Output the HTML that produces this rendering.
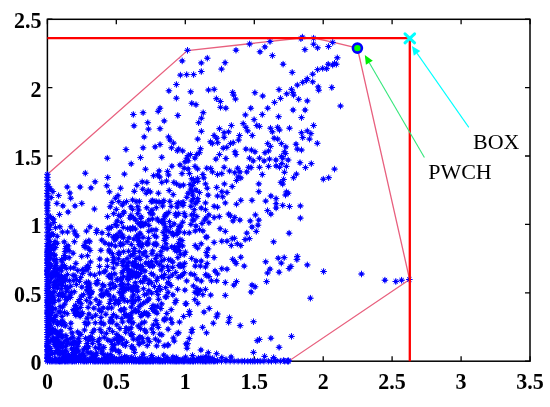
<!DOCTYPE html>
<html><head><meta charset="utf-8"><style>
html,body{margin:0;padding:0;background:#fff;width:550px;height:407px;overflow:hidden}
svg{display:block}
</style></head><body>
<svg width="550" height="407" viewBox="0 0 550 407">
<rect width="550" height="407" fill="#fff"/>
<rect x="47.4" y="19.3" width="482.6" height="341.9" fill="none" stroke="#000" stroke-width="1.5"/>
<path d="M47.4 361.2v-5M47.4 19.3v5M116.3 361.2v-5M116.3 19.3v5M185.3 361.2v-5M185.3 19.3v5M254.3 361.2v-5M254.3 19.3v5M323.2 361.2v-5M323.2 19.3v5M392.1 361.2v-5M392.1 19.3v5M461.1 361.2v-5M461.1 19.3v5M530.1 361.2v-5M530.1 19.3v5M47.4 361.2h5M530.0 361.2h-5M47.4 292.8h5M530.0 292.8h-5M47.4 224.4h5M530.0 224.4h-5M47.4 156.0h5M530.0 156.0h-5M47.4 87.6h5M530.0 87.6h-5M47.4 19.2h5M530.0 19.2h-5" stroke="#000" stroke-width="1.3" fill="none"/>
<g font-family="Liberation Serif, serif" font-weight="bold" font-size="22" fill="#000"><text transform="translate(47.4 389.3) scale(1 1.07)" text-anchor="middle">0</text><text transform="translate(116.3 389.3) scale(1 1.07)" text-anchor="middle">0.5</text><text transform="translate(185.3 389.3) scale(1 1.07)" text-anchor="middle">1</text><text transform="translate(254.3 389.3) scale(1 1.07)" text-anchor="middle">1.5</text><text transform="translate(323.2 389.3) scale(1 1.07)" text-anchor="middle">2</text><text transform="translate(392.1 389.3) scale(1 1.07)" text-anchor="middle">2.5</text><text transform="translate(461.1 389.3) scale(1 1.07)" text-anchor="middle">3</text><text transform="translate(530.1 389.3) scale(1 1.07)" text-anchor="middle">3.5</text><text transform="translate(41.6 370.2) scale(1 1.07)" text-anchor="end">0</text><text transform="translate(41.6 301.8) scale(1 1.07)" text-anchor="end">0.5</text><text transform="translate(41.6 233.4) scale(1 1.07)" text-anchor="end">1</text><text transform="translate(41.6 165.0) scale(1 1.07)" text-anchor="end">1.5</text><text transform="translate(41.6 96.6) scale(1 1.07)" text-anchor="end">2</text><text transform="translate(41.6 28.2) scale(1 1.07)" text-anchor="end">2.5</text></g>
<polyline points="47.5,174.3 187.4,50.5 301.5,38.0 313.6,38.0 332.7,42.2 357.4,48.1 409.6,279.5 288.6,361.2 47.5,361.2" fill="none" stroke="#e8607e" stroke-width="1.3"/>
<path d="M184.2 50.3h6.6m-3.3-3.3v6.6m-2.2-5.5l4.4 4.4m-4.4 0l4.4-4.4M178.9 60.9h6.6m-3.3-3.3v6.6m-2.2-5.5l4.4 4.4m-4.4 0l4.4-4.4M177.1 75.1h6.6m-3.3-3.3v6.6m-2.2-5.5l4.4 4.4m-4.4 0l4.4-4.4M183.4 74.6h6.6m-3.3-3.3v6.6m-2.2-5.5l4.4 4.4m-4.4 0l4.4-4.4M190.3 74.6h6.6m-3.3-3.3v6.6m-2.2-5.5l4.4 4.4m-4.4 0l4.4-4.4M173.1 84.5h6.6m-3.3-3.3v6.6m-2.2-5.5l4.4 4.4m-4.4 0l4.4-4.4M165.6 90.8h6.6m-3.3-3.3v6.6m-2.2-5.5l4.4 4.4m-4.4 0l4.4-4.4M187.4 91.8h6.6m-3.3-3.3v6.6m-2.2-5.5l4.4 4.4m-4.4 0l4.4-4.4M173.1 98.2h6.6m-3.3-3.3v6.6m-2.2-5.5l4.4 4.4m-4.4 0l4.4-4.4M204 58.2h6.6m-3.3-3.3v6.6m-2.2-5.5l4.4 4.4m-4.4 0l4.4-4.4M198 62.9h6.6m-3.3-3.3v6.6m-2.2-5.5l4.4 4.4m-4.4 0l4.4-4.4M221.8 62.7h6.6m-3.3-3.3v6.6m-2.2-5.5l4.4 4.4m-4.4 0l4.4-4.4M218.2 69.1h6.6m-3.3-3.3v6.6m-2.2-5.5l4.4 4.4m-4.4 0l4.4-4.4M198 71.5h6.6m-3.3-3.3v6.6m-2.2-5.5l4.4 4.4m-4.4 0l4.4-4.4M232.7 50.2h6.6m-3.3-3.3v6.6m-2.2-5.5l4.4 4.4m-4.4 0l4.4-4.4M246.3 44h6.6m-3.3-3.3v6.6m-2.2-5.5l4.4 4.4m-4.4 0l4.4-4.4M256.7 51.8h6.6m-3.3-3.3v6.6m-2.2-5.5l4.4 4.4m-4.4 0l4.4-4.4M261.6 46.9h6.6m-3.3-3.3v6.6m-2.2-5.5l4.4 4.4m-4.4 0l4.4-4.4M266.7 41.5h6.6m-3.3-3.3v6.6m-2.2-5.5l4.4 4.4m-4.4 0l4.4-4.4M269.1 55.6h6.6m-3.3-3.3v6.6m-2.2-5.5l4.4 4.4m-4.4 0l4.4-4.4M205.2 90h6.6m-3.3-3.3v6.6m-2.2-5.5l4.4 4.4m-4.4 0l4.4-4.4M210.9 89.3h6.6m-3.3-3.3v6.6m-2.2-5.5l4.4 4.4m-4.4 0l4.4-4.4M229.4 92.4h6.6m-3.3-3.3v6.6m-2.2-5.5l4.4 4.4m-4.4 0l4.4-4.4M230.3 95.1h6.6m-3.3-3.3v6.6m-2.2-5.5l4.4 4.4m-4.4 0l4.4-4.4M232.2 99.1h6.6m-3.3-3.3v6.6m-2.2-5.5l4.4 4.4m-4.4 0l4.4-4.4M213.1 98.7h6.6m-3.3-3.3v6.6m-2.2-5.5l4.4 4.4m-4.4 0l4.4-4.4M217.1 101.5h6.6m-3.3-3.3v6.6m-2.2-5.5l4.4 4.4m-4.4 0l4.4-4.4M251.6 92.7h6.6m-3.3-3.3v6.6m-2.2-5.5l4.4 4.4m-4.4 0l4.4-4.4M259.4 96h6.6m-3.3-3.3v6.6m-2.2-5.5l4.4 4.4m-4.4 0l4.4-4.4M275.7 89.6h6.6m-3.3-3.3v6.6m-2.2-5.5l4.4 4.4m-4.4 0l4.4-4.4M188.5 103.3h6.6m-3.3-3.3v6.6m-2.2-5.5l4.4 4.4m-4.4 0l4.4-4.4M192.7 104.7h6.6m-3.3-3.3v6.6m-2.2-5.5l4.4 4.4m-4.4 0l4.4-4.4M271.2 102.4h6.6m-3.3-3.3v6.6m-2.2-5.5l4.4 4.4m-4.4 0l4.4-4.4M297.6 38.7h6.6m-3.3-3.3v6.6m-2.2-5.5l4.4 4.4m-4.4 0l4.4-4.4M299.1 37.1h6.6m-3.3-3.3v6.6m-2.2-5.5l4.4 4.4m-4.4 0l4.4-4.4M310.3 38.2h6.6m-3.3-3.3v6.6m-2.2-5.5l4.4 4.4m-4.4 0l4.4-4.4M310.3 44.2h6.6m-3.3-3.3v6.6m-2.2-5.5l4.4 4.4m-4.4 0l4.4-4.4M314.3 47.8h6.6m-3.3-3.3v6.6m-2.2-5.5l4.4 4.4m-4.4 0l4.4-4.4M301.6 49.6h6.6m-3.3-3.3v6.6m-2.2-5.5l4.4 4.4m-4.4 0l4.4-4.4M325.2 46.5h6.6m-3.3-3.3v6.6m-2.2-5.5l4.4 4.4m-4.4 0l4.4-4.4M329.4 42.4h6.6m-3.3-3.3v6.6m-2.2-5.5l4.4 4.4m-4.4 0l4.4-4.4M279.8 64.2h6.6m-3.3-3.3v6.6m-2.2-5.5l4.4 4.4m-4.4 0l4.4-4.4M288.9 72.4h6.6m-3.3-3.3v6.6m-2.2-5.5l4.4 4.4m-4.4 0l4.4-4.4M334 57.8h6.6m-3.3-3.3v6.6m-2.2-5.5l4.4 4.4m-4.4 0l4.4-4.4M331.2 63.3h6.6m-3.3-3.3v6.6m-2.2-5.5l4.4 4.4m-4.4 0l4.4-4.4M333.1 64.2h6.6m-3.3-3.3v6.6m-2.2-5.5l4.4 4.4m-4.4 0l4.4-4.4M329.4 65.1h6.6m-3.3-3.3v6.6m-2.2-5.5l4.4 4.4m-4.4 0l4.4-4.4M324.9 64.2h6.6m-3.3-3.3v6.6m-2.2-5.5l4.4 4.4m-4.4 0l4.4-4.4M323.4 68.7h6.6m-3.3-3.3v6.6m-2.2-5.5l4.4 4.4m-4.4 0l4.4-4.4M319.4 68.4h6.6m-3.3-3.3v6.6m-2.2-5.5l4.4 4.4m-4.4 0l4.4-4.4M314.3 69.6h6.6m-3.3-3.3v6.6m-2.2-5.5l4.4 4.4m-4.4 0l4.4-4.4M309.4 74.2h6.6m-3.3-3.3v6.6m-2.2-5.5l4.4 4.4m-4.4 0l4.4-4.4M304 78.7h6.6m-3.3-3.3v6.6m-2.2-5.5l4.4 4.4m-4.4 0l4.4-4.4M303.1 80.5h6.6m-3.3-3.3v6.6m-2.2-5.5l4.4 4.4m-4.4 0l4.4-4.4M309.4 81.8h6.6m-3.3-3.3v6.6m-2.2-5.5l4.4 4.4m-4.4 0l4.4-4.4M299.4 82.4h6.6m-3.3-3.3v6.6m-2.2-5.5l4.4 4.4m-4.4 0l4.4-4.4M294 85.1h6.6m-3.3-3.3v6.6m-2.2-5.5l4.4 4.4m-4.4 0l4.4-4.4M314.9 86.9h6.6m-3.3-3.3v6.6m-2.2-5.5l4.4 4.4m-4.4 0l4.4-4.4M315.4 90.2h6.6m-3.3-3.3v6.6m-2.2-5.5l4.4 4.4m-4.4 0l4.4-4.4M328.5 87.5h6.6m-3.3-3.3v6.6m-2.2-5.5l4.4 4.4m-4.4 0l4.4-4.4M288.2 89.3h6.6m-3.3-3.3v6.6m-2.2-5.5l4.4 4.4m-4.4 0l4.4-4.4M289.4 92.4h6.6m-3.3-3.3v6.6m-2.2-5.5l4.4 4.4m-4.4 0l4.4-4.4M290.3 95.1h6.6m-3.3-3.3v6.6m-2.2-5.5l4.4 4.4m-4.4 0l4.4-4.4M283.4 93.8h6.6m-3.3-3.3v6.6m-2.2-5.5l4.4 4.4m-4.4 0l4.4-4.4M277.2 98.4h6.6m-3.3-3.3v6.6m-2.2-5.5l4.4 4.4m-4.4 0l4.4-4.4M295.4 99.3h6.6m-3.3-3.3v6.6m-2.2-5.5l4.4 4.4m-4.4 0l4.4-4.4M304 100.9h6.6m-3.3-3.3v6.6m-2.2-5.5l4.4 4.4m-4.4 0l4.4-4.4M337.2 106h6.6m-3.3-3.3v6.6m-2.2-5.5l4.4 4.4m-4.4 0l4.4-4.4M156.7 108.2h6.6m-3.3-3.3v6.6m-2.2-5.5l4.4 4.4m-4.4 0l4.4-4.4M154.9 111.3h6.6m-3.3-3.3v6.6m-2.2-5.5l4.4 4.4m-4.4 0l4.4-4.4M130 114.5h6.6m-3.3-3.3v6.6m-2.2-5.5l4.4 4.4m-4.4 0l4.4-4.4M139.8 112.7h6.6m-3.3-3.3v6.6m-2.2-5.5l4.4 4.4m-4.4 0l4.4-4.4M174.5 115.5h6.6m-3.3-3.3v6.6m-2.2-5.5l4.4 4.4m-4.4 0l4.4-4.4M160.9 120.9h6.6m-3.3-3.3v6.6m-2.2-5.5l4.4 4.4m-4.4 0l4.4-4.4M144.5 122.7h6.6m-3.3-3.3v6.6m-2.2-5.5l4.4 4.4m-4.4 0l4.4-4.4M130.7 125.8h6.6m-3.3-3.3v6.6m-2.2-5.5l4.4 4.4m-4.4 0l4.4-4.4M145.2 129.1h6.6m-3.3-3.3v6.6m-2.2-5.5l4.4 4.4m-4.4 0l4.4-4.4M156.7 128.7h6.6m-3.3-3.3v6.6m-2.2-5.5l4.4 4.4m-4.4 0l4.4-4.4M140.9 136.9h6.6m-3.3-3.3v6.6m-2.2-5.5l4.4 4.4m-4.4 0l4.4-4.4M165.2 136.9h6.6m-3.3-3.3v6.6m-2.2-5.5l4.4 4.4m-4.4 0l4.4-4.4M166.7 140h6.6m-3.3-3.3v6.6m-2.2-5.5l4.4 4.4m-4.4 0l4.4-4.4M170.3 143.1h6.6m-3.3-3.3v6.6m-2.2-5.5l4.4 4.4m-4.4 0l4.4-4.4M156.7 144.5h6.6m-3.3-3.3v6.6m-2.2-5.5l4.4 4.4m-4.4 0l4.4-4.4M151.8 146.9h6.6m-3.3-3.3v6.6m-2.2-5.5l4.4 4.4m-4.4 0l4.4-4.4M139.8 147.8h6.6m-3.3-3.3v6.6m-2.2-5.5l4.4 4.4m-4.4 0l4.4-4.4M168.2 147.8h6.6m-3.3-3.3v6.6m-2.2-5.5l4.4 4.4m-4.4 0l4.4-4.4M175.4 149.1h6.6m-3.3-3.3v6.6m-2.2-5.5l4.4 4.4m-4.4 0l4.4-4.4M179.4 150.9h6.6m-3.3-3.3v6.6m-2.2-5.5l4.4 4.4m-4.4 0l4.4-4.4M122.7 149.5h6.6m-3.3-3.3v6.6m-2.2-5.5l4.4 4.4m-4.4 0l4.4-4.4M104 158.2h6.6m-3.3-3.3v6.6m-2.2-5.5l4.4 4.4m-4.4 0l4.4-4.4M137.2 157.6h6.6m-3.3-3.3v6.6m-2.2-5.5l4.4 4.4m-4.4 0l4.4-4.4M158.5 157.3h6.6m-3.3-3.3v6.6m-2.2-5.5l4.4 4.4m-4.4 0l4.4-4.4M184.9 155.5h6.6m-3.3-3.3v6.6m-2.2-5.5l4.4 4.4m-4.4 0l4.4-4.4M217.2 107.3h6.6m-3.3-3.3v6.6m-2.2-5.5l4.4 4.4m-4.4 0l4.4-4.4M222.6 108.2h6.6m-3.3-3.3v6.6m-2.2-5.5l4.4 4.4m-4.4 0l4.4-4.4M247.5 108.2h6.6m-3.3-3.3v6.6m-2.2-5.5l4.4 4.4m-4.4 0l4.4-4.4M264.4 108.2h6.6m-3.3-3.3v6.6m-2.2-5.5l4.4 4.4m-4.4 0l4.4-4.4M199.9 112.7h6.6m-3.3-3.3v6.6m-2.2-5.5l4.4 4.4m-4.4 0l4.4-4.4M198.1 118.2h6.6m-3.3-3.3v6.6m-2.2-5.5l4.4 4.4m-4.4 0l4.4-4.4M195.3 122.7h6.6m-3.3-3.3v6.6m-2.2-5.5l4.4 4.4m-4.4 0l4.4-4.4M242.1 114.9h6.6m-3.3-3.3v6.6m-2.2-5.5l4.4 4.4m-4.4 0l4.4-4.4M250.8 119.6h6.6m-3.3-3.3v6.6m-2.2-5.5l4.4 4.4m-4.4 0l4.4-4.4M259 114.5h6.6m-3.3-3.3v6.6m-2.2-5.5l4.4 4.4m-4.4 0l4.4-4.4M275.3 116.7h6.6m-3.3-3.3v6.6m-2.2-5.5l4.4 4.4m-4.4 0l4.4-4.4M239.9 123.6h6.6m-3.3-3.3v6.6m-2.2-5.5l4.4 4.4m-4.4 0l4.4-4.4M242.6 127.3h6.6m-3.3-3.3v6.6m-2.2-5.5l4.4 4.4m-4.4 0l4.4-4.4M253.5 125.5h6.6m-3.3-3.3v6.6m-2.2-5.5l4.4 4.4m-4.4 0l4.4-4.4M256.2 126.4h6.6m-3.3-3.3v6.6m-2.2-5.5l4.4 4.4m-4.4 0l4.4-4.4M244.4 130.9h6.6m-3.3-3.3v6.6m-2.2-5.5l4.4 4.4m-4.4 0l4.4-4.4M228.1 125.5h6.6m-3.3-3.3v6.6m-2.2-5.5l4.4 4.4m-4.4 0l4.4-4.4M216.2 128.7h6.6m-3.3-3.3v6.6m-2.2-5.5l4.4 4.4m-4.4 0l4.4-4.4M220.8 132.7h6.6m-3.3-3.3v6.6m-2.2-5.5l4.4 4.4m-4.4 0l4.4-4.4M225.3 131.8h6.6m-3.3-3.3v6.6m-2.2-5.5l4.4 4.4m-4.4 0l4.4-4.4M198.1 131.3h6.6m-3.3-3.3v6.6m-2.2-5.5l4.4 4.4m-4.4 0l4.4-4.4M267.2 128.2h6.6m-3.3-3.3v6.6m-2.2-5.5l4.4 4.4m-4.4 0l4.4-4.4M269 131.8h6.6m-3.3-3.3v6.6m-2.2-5.5l4.4 4.4m-4.4 0l4.4-4.4M274.4 127.3h6.6m-3.3-3.3v6.6m-2.2-5.5l4.4 4.4m-4.4 0l4.4-4.4M276.2 130h6.6m-3.3-3.3v6.6m-2.2-5.5l4.4 4.4m-4.4 0l4.4-4.4M249 135.5h6.6m-3.3-3.3v6.6m-2.2-5.5l4.4 4.4m-4.4 0l4.4-4.4M270.8 138.2h6.6m-3.3-3.3v6.6m-2.2-5.5l4.4 4.4m-4.4 0l4.4-4.4M274.4 139.1h6.6m-3.3-3.3v6.6m-2.2-5.5l4.4 4.4m-4.4 0l4.4-4.4M236.2 135.5h6.6m-3.3-3.3v6.6m-2.2-5.5l4.4 4.4m-4.4 0l4.4-4.4M235.3 140h6.6m-3.3-3.3v6.6m-2.2-5.5l4.4 4.4m-4.4 0l4.4-4.4M210.8 135.5h6.6m-3.3-3.3v6.6m-2.2-5.5l4.4 4.4m-4.4 0l4.4-4.4M213.5 138.2h6.6m-3.3-3.3v6.6m-2.2-5.5l4.4 4.4m-4.4 0l4.4-4.4M220.8 137.3h6.6m-3.3-3.3v6.6m-2.2-5.5l4.4 4.4m-4.4 0l4.4-4.4M194.4 139.1h6.6m-3.3-3.3v6.6m-2.2-5.5l4.4 4.4m-4.4 0l4.4-4.4M207.2 141.8h6.6m-3.3-3.3v6.6m-2.2-5.5l4.4 4.4m-4.4 0l4.4-4.4M209 143.6h6.6m-3.3-3.3v6.6m-2.2-5.5l4.4 4.4m-4.4 0l4.4-4.4M214.4 142.7h6.6m-3.3-3.3v6.6m-2.2-5.5l4.4 4.4m-4.4 0l4.4-4.4M227.2 143.6h6.6m-3.3-3.3v6.6m-2.2-5.5l4.4 4.4m-4.4 0l4.4-4.4M229.9 142.7h6.6m-3.3-3.3v6.6m-2.2-5.5l4.4 4.4m-4.4 0l4.4-4.4M264.4 143.6h6.6m-3.3-3.3v6.6m-2.2-5.5l4.4 4.4m-4.4 0l4.4-4.4M267.2 146.4h6.6m-3.3-3.3v6.6m-2.2-5.5l4.4 4.4m-4.4 0l4.4-4.4M278.1 143.6h6.6m-3.3-3.3v6.6m-2.2-5.5l4.4 4.4m-4.4 0l4.4-4.4M197.2 148.7h6.6m-3.3-3.3v6.6m-2.2-5.5l4.4 4.4m-4.4 0l4.4-4.4M219.9 148.2h6.6m-3.3-3.3v6.6m-2.2-5.5l4.4 4.4m-4.4 0l4.4-4.4M223.5 147.3h6.6m-3.3-3.3v6.6m-2.2-5.5l4.4 4.4m-4.4 0l4.4-4.4M242.6 149.1h6.6m-3.3-3.3v6.6m-2.2-5.5l4.4 4.4m-4.4 0l4.4-4.4M248.1 150h6.6m-3.3-3.3v6.6m-2.2-5.5l4.4 4.4m-4.4 0l4.4-4.4M251.7 151.8h6.6m-3.3-3.3v6.6m-2.2-5.5l4.4 4.4m-4.4 0l4.4-4.4M261.7 152.7h6.6m-3.3-3.3v6.6m-2.2-5.5l4.4 4.4m-4.4 0l4.4-4.4M265.3 150.9h6.6m-3.3-3.3v6.6m-2.2-5.5l4.4 4.4m-4.4 0l4.4-4.4M231.7 151.8h6.6m-3.3-3.3v6.6m-2.2-5.5l4.4 4.4m-4.4 0l4.4-4.4M232.6 154.5h6.6m-3.3-3.3v6.6m-2.2-5.5l4.4 4.4m-4.4 0l4.4-4.4M216.2 154.5h6.6m-3.3-3.3v6.6m-2.2-5.5l4.4 4.4m-4.4 0l4.4-4.4M187.2 154.5h6.6m-3.3-3.3v6.6m-2.2-5.5l4.4 4.4m-4.4 0l4.4-4.4M183.5 158.2h6.6m-3.3-3.3v6.6m-2.2-5.5l4.4 4.4m-4.4 0l4.4-4.4M193.5 154.5h6.6m-3.3-3.3v6.6m-2.2-5.5l4.4 4.4m-4.4 0l4.4-4.4M196.2 152.7h6.6m-3.3-3.3v6.6m-2.2-5.5l4.4 4.4m-4.4 0l4.4-4.4M212.6 159.1h6.6m-3.3-3.3v6.6m-2.2-5.5l4.4 4.4m-4.4 0l4.4-4.4M222.6 158.5h6.6m-3.3-3.3v6.6m-2.2-5.5l4.4 4.4m-4.4 0l4.4-4.4M246.2 158.2h6.6m-3.3-3.3v6.6m-2.2-5.5l4.4 4.4m-4.4 0l4.4-4.4M249.9 160.9h6.6m-3.3-3.3v6.6m-2.2-5.5l4.4 4.4m-4.4 0l4.4-4.4M256.2 158.2h6.6m-3.3-3.3v6.6m-2.2-5.5l4.4 4.4m-4.4 0l4.4-4.4M260.8 160.9h6.6m-3.3-3.3v6.6m-2.2-5.5l4.4 4.4m-4.4 0l4.4-4.4M266.2 159.1h6.6m-3.3-3.3v6.6m-2.2-5.5l4.4 4.4m-4.4 0l4.4-4.4M272.6 160h6.6m-3.3-3.3v6.6m-2.2-5.5l4.4 4.4m-4.4 0l4.4-4.4M278.1 156.4h6.6m-3.3-3.3v6.6m-2.2-5.5l4.4 4.4m-4.4 0l4.4-4.4M203.5 168.2h6.6m-3.3-3.3v6.6m-2.2-5.5l4.4 4.4m-4.4 0l4.4-4.4M191.7 166.4h6.6m-3.3-3.3v6.6m-2.2-5.5l4.4 4.4m-4.4 0l4.4-4.4M220.8 167.3h6.6m-3.3-3.3v6.6m-2.2-5.5l4.4 4.4m-4.4 0l4.4-4.4M234.4 168.2h6.6m-3.3-3.3v6.6m-2.2-5.5l4.4 4.4m-4.4 0l4.4-4.4M245.3 167.3h6.6m-3.3-3.3v6.6m-2.2-5.5l4.4 4.4m-4.4 0l4.4-4.4M256.2 167.3h6.6m-3.3-3.3v6.6m-2.2-5.5l4.4 4.4m-4.4 0l4.4-4.4M265.3 166.4h6.6m-3.3-3.3v6.6m-2.2-5.5l4.4 4.4m-4.4 0l4.4-4.4M276.2 167.3h6.6m-3.3-3.3v6.6m-2.2-5.5l4.4 4.4m-4.4 0l4.4-4.4M181.7 161.8h6.6m-3.3-3.3v6.6m-2.2-5.5l4.4 4.4m-4.4 0l4.4-4.4M289.8 110h6.6m-3.3-3.3v6.6m-2.2-5.5l4.4 4.4m-4.4 0l4.4-4.4M301.8 110h6.6m-3.3-3.3v6.6m-2.2-5.5l4.4 4.4m-4.4 0l4.4-4.4M298.2 117.6h6.6m-3.3-3.3v6.6m-2.2-5.5l4.4 4.4m-4.4 0l4.4-4.4M310.3 125.5h6.6m-3.3-3.3v6.6m-2.2-5.5l4.4 4.4m-4.4 0l4.4-4.4M286.2 128.2h6.6m-3.3-3.3v6.6m-2.2-5.5l4.4 4.4m-4.4 0l4.4-4.4M298.2 132.7h6.6m-3.3-3.3v6.6m-2.2-5.5l4.4 4.4m-4.4 0l4.4-4.4M304 130.9h6.6m-3.3-3.3v6.6m-2.2-5.5l4.4 4.4m-4.4 0l4.4-4.4M307.6 133.6h6.6m-3.3-3.3v6.6m-2.2-5.5l4.4 4.4m-4.4 0l4.4-4.4M299.4 137.6h6.6m-3.3-3.3v6.6m-2.2-5.5l4.4 4.4m-4.4 0l4.4-4.4M306.2 139.1h6.6m-3.3-3.3v6.6m-2.2-5.5l4.4 4.4m-4.4 0l4.4-4.4M314 143.3h6.6m-3.3-3.3v6.6m-2.2-5.5l4.4 4.4m-4.4 0l4.4-4.4M292.7 144.2h6.6m-3.3-3.3v6.6m-2.2-5.5l4.4 4.4m-4.4 0l4.4-4.4M282.5 146.9h6.6m-3.3-3.3v6.6m-2.2-5.5l4.4 4.4m-4.4 0l4.4-4.4M294 149.1h6.6m-3.3-3.3v6.6m-2.2-5.5l4.4 4.4m-4.4 0l4.4-4.4M298.2 150h6.6m-3.3-3.3v6.6m-2.2-5.5l4.4 4.4m-4.4 0l4.4-4.4M281.2 151.8h6.6m-3.3-3.3v6.6m-2.2-5.5l4.4 4.4m-4.4 0l4.4-4.4M282.2 153.6h6.6m-3.3-3.3v6.6m-2.2-5.5l4.4 4.4m-4.4 0l4.4-4.4M279.4 158.2h6.6m-3.3-3.3v6.6m-2.2-5.5l4.4 4.4m-4.4 0l4.4-4.4M284.9 160h6.6m-3.3-3.3v6.6m-2.2-5.5l4.4 4.4m-4.4 0l4.4-4.4M296.7 162.7h6.6m-3.3-3.3v6.6m-2.2-5.5l4.4 4.4m-4.4 0l4.4-4.4M308 163.6h6.6m-3.3-3.3v6.6m-2.2-5.5l4.4 4.4m-4.4 0l4.4-4.4M278.5 163.6h6.6m-3.3-3.3v6.6m-2.2-5.5l4.4 4.4m-4.4 0l4.4-4.4M283.1 166.4h6.6m-3.3-3.3v6.6m-2.2-5.5l4.4 4.4m-4.4 0l4.4-4.4M302.2 167.6h6.6m-3.3-3.3v6.6m-2.2-5.5l4.4 4.4m-4.4 0l4.4-4.4M331.2 169.1h6.6m-3.3-3.3v6.6m-2.2-5.5l4.4 4.4m-4.4 0l4.4-4.4M281.2 172.3h6.6m-3.3-3.3v6.6m-2.2-5.5l4.4 4.4m-4.4 0l4.4-4.4M293.1 174.1h6.6m-3.3-3.3v6.6m-2.2-5.5l4.4 4.4m-4.4 0l4.4-4.4M290.3 177.7h6.6m-3.3-3.3v6.6m-2.2-5.5l4.4 4.4m-4.4 0l4.4-4.4M320 179.2h6.6m-3.3-3.3v6.6m-2.2-5.5l4.4 4.4m-4.4 0l4.4-4.4M325.4 177.7h6.6m-3.3-3.3v6.6m-2.2-5.5l4.4 4.4m-4.4 0l4.4-4.4M280.3 179.5h6.6m-3.3-3.3v6.6m-2.2-5.5l4.4 4.4m-4.4 0l4.4-4.4M279.4 184.1h6.6m-3.3-3.3v6.6m-2.2-5.5l4.4 4.4m-4.4 0l4.4-4.4M277.6 182.3h6.6m-3.3-3.3v6.6m-2.2-5.5l4.4 4.4m-4.4 0l4.4-4.4M283.1 191.9h6.6m-3.3-3.3v6.6m-2.2-5.5l4.4 4.4m-4.4 0l4.4-4.4M284.9 193.2h6.6m-3.3-3.3v6.6m-2.2-5.5l4.4 4.4m-4.4 0l4.4-4.4M282.2 195h6.6m-3.3-3.3v6.6m-2.2-5.5l4.4 4.4m-4.4 0l4.4-4.4M279.4 205.4h6.6m-3.3-3.3v6.6m-2.2-5.5l4.4 4.4m-4.4 0l4.4-4.4M286.2 206.5h6.6m-3.3-3.3v6.6m-2.2-5.5l4.4 4.4m-4.4 0l4.4-4.4M297.1 205.9h6.6m-3.3-3.3v6.6m-2.2-5.5l4.4 4.4m-4.4 0l4.4-4.4M297.1 218.1h6.6m-3.3-3.3v6.6m-2.2-5.5l4.4 4.4m-4.4 0l4.4-4.4M285.8 233.2h6.6m-3.3-3.3v6.6m-2.2-5.5l4.4 4.4m-4.4 0l4.4-4.4M270.3 241.8h6.6m-3.3-3.3v6.6m-2.2-5.5l4.4 4.4m-4.4 0l4.4-4.4M274.9 258.2h6.6m-3.3-3.3v6.6m-2.2-5.5l4.4 4.4m-4.4 0l4.4-4.4M280.9 257.6h6.6m-3.3-3.3v6.6m-2.2-5.5l4.4 4.4m-4.4 0l4.4-4.4M278 263.1h6.6m-3.3-3.3v6.6m-2.2-5.5l4.4 4.4m-4.4 0l4.4-4.4M294 256.4h6.6m-3.3-3.3v6.6m-2.2-5.5l4.4 4.4m-4.4 0l4.4-4.4M293.6 259.6h6.6m-3.3-3.3v6.6m-2.2-5.5l4.4 4.4m-4.4 0l4.4-4.4M287.6 266.4h6.6m-3.3-3.3v6.6m-2.2-5.5l4.4 4.4m-4.4 0l4.4-4.4M285.8 268.5h6.6m-3.3-3.3v6.6m-2.2-5.5l4.4 4.4m-4.4 0l4.4-4.4M304 264.9h6.6m-3.3-3.3v6.6m-2.2-5.5l4.4 4.4m-4.4 0l4.4-4.4M275.8 272.2h6.6m-3.3-3.3v6.6m-2.2-5.5l4.4 4.4m-4.4 0l4.4-4.4M266.7 269.1h6.6m-3.3-3.3v6.6m-2.2-5.5l4.4 4.4m-4.4 0l4.4-4.4M320.3 271.5h6.6m-3.3-3.3v6.6m-2.2-5.5l4.4 4.4m-4.4 0l4.4-4.4M358.2 274h6.6m-3.3-3.3v6.6m-2.2-5.5l4.4 4.4m-4.4 0l4.4-4.4M307.1 298.2h6.6m-3.3-3.3v6.6m-2.2-5.5l4.4 4.4m-4.4 0l4.4-4.4M381.6 280.2h6.6m-3.3-3.3v6.6m-2.2-5.5l4.4 4.4m-4.4 0l4.4-4.4M392.5 281.5h6.6m-3.3-3.3v6.6m-2.2-5.5l4.4 4.4m-4.4 0l4.4-4.4M398.3 280.2h6.6m-3.3-3.3v6.6m-2.2-5.5l4.4 4.4m-4.4 0l4.4-4.4M406 279.5h6.6m-3.3-3.3v6.6m-2.2-5.5l4.4 4.4m-4.4 0l4.4-4.4M288.2 336.4h6.6m-3.3-3.3v6.6m-2.2-5.5l4.4 4.4m-4.4 0l4.4-4.4M267.6 338.2h6.6m-3.3-3.3v6.6m-2.2-5.5l4.4 4.4m-4.4 0l4.4-4.4M275.8 347.3h6.6m-3.3-3.3v6.6m-2.2-5.5l4.4 4.4m-4.4 0l4.4-4.4M270.3 357.6h6.6m-3.3-3.3v6.6m-2.2-5.5l4.4 4.4m-4.4 0l4.4-4.4M272.2 360.5h6.6m-3.3-3.3v6.6m-2.2-5.5l4.4 4.4m-4.4 0l4.4-4.4M280.3 360.5h6.6m-3.3-3.3v6.6m-2.2-5.5l4.4 4.4m-4.4 0l4.4-4.4M284.9 360.5h6.6m-3.3-3.3v6.6m-2.2-5.5l4.4 4.4m-4.4 0l4.4-4.4M191.9 230.9h6.6m-3.3-3.3v6.6m-2.2-5.5l4.4 4.4m-4.4 0l4.4-4.4M199.6 230.9h6.6m-3.3-3.3v6.6m-2.2-5.5l4.4 4.4m-4.4 0l4.4-4.4M222 231.4h6.6m-3.3-3.3v6.6m-2.2-5.5l4.4 4.4m-4.4 0l4.4-4.4M243.5 233.1h6.6m-3.3-3.3v6.6m-2.2-5.5l4.4 4.4m-4.4 0l4.4-4.4M253 231.4h6.6m-3.3-3.3v6.6m-2.2-5.5l4.4 4.4m-4.4 0l4.4-4.4M203.6 237.2h6.6m-3.3-3.3v6.6m-2.2-5.5l4.4 4.4m-4.4 0l4.4-4.4M210.8 242.4h6.6m-3.3-3.3v6.6m-2.2-5.5l4.4 4.4m-4.4 0l4.4-4.4M218.5 241.2h6.6m-3.3-3.3v6.6m-2.2-5.5l4.4 4.4m-4.4 0l4.4-4.4M223.7 241.2h6.6m-3.3-3.3v6.6m-2.2-5.5l4.4 4.4m-4.4 0l4.4-4.4M228.9 238.6h6.6m-3.3-3.3v6.6m-2.2-5.5l4.4 4.4m-4.4 0l4.4-4.4M231.1 238.3h6.6m-3.3-3.3v6.6m-2.2-5.5l4.4 4.4m-4.4 0l4.4-4.4M228 245.5h6.6m-3.3-3.3v6.6m-2.2-5.5l4.4 4.4m-4.4 0l4.4-4.4M234 243.8h6.6m-3.3-3.3v6.6m-2.2-5.5l4.4 4.4m-4.4 0l4.4-4.4M237.5 245.5h6.6m-3.3-3.3v6.6m-2.2-5.5l4.4 4.4m-4.4 0l4.4-4.4M241.8 239.5h6.6m-3.3-3.3v6.6m-2.2-5.5l4.4 4.4m-4.4 0l4.4-4.4M246.1 238.6h6.6m-3.3-3.3v6.6m-2.2-5.5l4.4 4.4m-4.4 0l4.4-4.4M191.9 245.5h6.6m-3.3-3.3v6.6m-2.2-5.5l4.4 4.4m-4.4 0l4.4-4.4M194.4 248.1h6.6m-3.3-3.3v6.6m-2.2-5.5l4.4 4.4m-4.4 0l4.4-4.4M197.9 243.8h6.6m-3.3-3.3v6.6m-2.2-5.5l4.4 4.4m-4.4 0l4.4-4.4M204.8 248.9h6.6m-3.3-3.3v6.6m-2.2-5.5l4.4 4.4m-4.4 0l4.4-4.4M203.1 252.4h6.6m-3.3-3.3v6.6m-2.2-5.5l4.4 4.4m-4.4 0l4.4-4.4M203.9 255.8h6.6m-3.3-3.3v6.6m-2.2-5.5l4.4 4.4m-4.4 0l4.4-4.4M210.8 257.5h6.6m-3.3-3.3v6.6m-2.2-5.5l4.4 4.4m-4.4 0l4.4-4.4M188.4 258.4h6.6m-3.3-3.3v6.6m-2.2-5.5l4.4 4.4m-4.4 0l4.4-4.4M192.7 261h6.6m-3.3-3.3v6.6m-2.2-5.5l4.4 4.4m-4.4 0l4.4-4.4M197.9 261h6.6m-3.3-3.3v6.6m-2.2-5.5l4.4 4.4m-4.4 0l4.4-4.4M203.9 263.6h6.6m-3.3-3.3v6.6m-2.2-5.5l4.4 4.4m-4.4 0l4.4-4.4M191.9 266.1h6.6m-3.3-3.3v6.6m-2.2-5.5l4.4 4.4m-4.4 0l4.4-4.4M197 266.1h6.6m-3.3-3.3v6.6m-2.2-5.5l4.4 4.4m-4.4 0l4.4-4.4M202.2 267h6.6m-3.3-3.3v6.6m-2.2-5.5l4.4 4.4m-4.4 0l4.4-4.4M229.4 259.3h6.6m-3.3-3.3v6.6m-2.2-5.5l4.4 4.4m-4.4 0l4.4-4.4M231.8 261.8h6.6m-3.3-3.3v6.6m-2.2-5.5l4.4 4.4m-4.4 0l4.4-4.4M232.8 263.6h6.6m-3.3-3.3v6.6m-2.2-5.5l4.4 4.4m-4.4 0l4.4-4.4M237.5 257.2h6.6m-3.3-3.3v6.6m-2.2-5.5l4.4 4.4m-4.4 0l4.4-4.4M240.9 266.1h6.6m-3.3-3.3v6.6m-2.2-5.5l4.4 4.4m-4.4 0l4.4-4.4M262.4 261.8h6.6m-3.3-3.3v6.6m-2.2-5.5l4.4 4.4m-4.4 0l4.4-4.4M218.5 268.7h6.6m-3.3-3.3v6.6m-2.2-5.5l4.4 4.4m-4.4 0l4.4-4.4M223.7 269.2h6.6m-3.3-3.3v6.6m-2.2-5.5l4.4 4.4m-4.4 0l4.4-4.4M211.7 271h6.6m-3.3-3.3v6.6m-2.2-5.5l4.4 4.4m-4.4 0l4.4-4.4M214.2 273.9h6.6m-3.3-3.3v6.6m-2.2-5.5l4.4 4.4m-4.4 0l4.4-4.4M264.2 273h6.6m-3.3-3.3v6.6m-2.2-5.5l4.4 4.4m-4.4 0l4.4-4.4M187.6 273.9h6.6m-3.3-3.3v6.6m-2.2-5.5l4.4 4.4m-4.4 0l4.4-4.4M191 274.8h6.6m-3.3-3.3v6.6m-2.2-5.5l4.4 4.4m-4.4 0l4.4-4.4M205.6 276.5h6.6m-3.3-3.3v6.6m-2.2-5.5l4.4 4.4m-4.4 0l4.4-4.4M193.6 279.1h6.6m-3.3-3.3v6.6m-2.2-5.5l4.4 4.4m-4.4 0l4.4-4.4M208.2 280.8h6.6m-3.3-3.3v6.6m-2.2-5.5l4.4 4.4m-4.4 0l4.4-4.4M213.4 280.8h6.6m-3.3-3.3v6.6m-2.2-5.5l4.4 4.4m-4.4 0l4.4-4.4M222 282.5h6.6m-3.3-3.3v6.6m-2.2-5.5l4.4 4.4m-4.4 0l4.4-4.4M233.2 281.6h6.6m-3.3-3.3v6.6m-2.2-5.5l4.4 4.4m-4.4 0l4.4-4.4M230.6 285.1h6.6m-3.3-3.3v6.6m-2.2-5.5l4.4 4.4m-4.4 0l4.4-4.4M263.3 281.6h6.6m-3.3-3.3v6.6m-2.2-5.5l4.4 4.4m-4.4 0l4.4-4.4M248.7 285.1h6.6m-3.3-3.3v6.6m-2.2-5.5l4.4 4.4m-4.4 0l4.4-4.4M251.8 286.8h6.6m-3.3-3.3v6.6m-2.2-5.5l4.4 4.4m-4.4 0l4.4-4.4M247.8 292h6.6m-3.3-3.3v6.6m-2.2-5.5l4.4 4.4m-4.4 0l4.4-4.4M193.6 288.5h6.6m-3.3-3.3v6.6m-2.2-5.5l4.4 4.4m-4.4 0l4.4-4.4M197 290.2h6.6m-3.3-3.3v6.6m-2.2-5.5l4.4 4.4m-4.4 0l4.4-4.4M202.2 289.4h6.6m-3.3-3.3v6.6m-2.2-5.5l4.4 4.4m-4.4 0l4.4-4.4M190.1 285.9h6.6m-3.3-3.3v6.6m-2.2-5.5l4.4 4.4m-4.4 0l4.4-4.4M207.4 295.1h6.6m-3.3-3.3v6.6m-2.2-5.5l4.4 4.4m-4.4 0l4.4-4.4M222 295.4h6.6m-3.3-3.3v6.6m-2.2-5.5l4.4 4.4m-4.4 0l4.4-4.4M194.4 294h6.6m-3.3-3.3v6.6m-2.2-5.5l4.4 4.4m-4.4 0l4.4-4.4M207.4 168.4h6.6m-3.3-3.3v6.6m-2.2-5.5l4.4 4.4m-4.4 0l4.4-4.4M209.1 171.9h6.6m-3.3-3.3v6.6m-2.2-5.5l4.4 4.4m-4.4 0l4.4-4.4M226.3 171h6.6m-3.3-3.3v6.6m-2.2-5.5l4.4 4.4m-4.4 0l4.4-4.4M231.5 172.7h6.6m-3.3-3.3v6.6m-2.2-5.5l4.4 4.4m-4.4 0l4.4-4.4M236.6 171.9h6.6m-3.3-3.3v6.6m-2.2-5.5l4.4 4.4m-4.4 0l4.4-4.4M243.5 171.9h6.6m-3.3-3.3v6.6m-2.2-5.5l4.4 4.4m-4.4 0l4.4-4.4M247.8 167.6h6.6m-3.3-3.3v6.6m-2.2-5.5l4.4 4.4m-4.4 0l4.4-4.4M272.8 165.9h6.6m-3.3-3.3v6.6m-2.2-5.5l4.4 4.4m-4.4 0l4.4-4.4M199.6 174.5h6.6m-3.3-3.3v6.6m-2.2-5.5l4.4 4.4m-4.4 0l4.4-4.4M200.5 177.9h6.6m-3.3-3.3v6.6m-2.2-5.5l4.4 4.4m-4.4 0l4.4-4.4M214.2 174.5h6.6m-3.3-3.3v6.6m-2.2-5.5l4.4 4.4m-4.4 0l4.4-4.4M218.5 173.6h6.6m-3.3-3.3v6.6m-2.2-5.5l4.4 4.4m-4.4 0l4.4-4.4M234.9 177h6.6m-3.3-3.3v6.6m-2.2-5.5l4.4 4.4m-4.4 0l4.4-4.4M237.5 177.9h6.6m-3.3-3.3v6.6m-2.2-5.5l4.4 4.4m-4.4 0l4.4-4.4M259 174.5h6.6m-3.3-3.3v6.6m-2.2-5.5l4.4 4.4m-4.4 0l4.4-4.4M233.2 180.5h6.6m-3.3-3.3v6.6m-2.2-5.5l4.4 4.4m-4.4 0l4.4-4.4M188.4 178.8h6.6m-3.3-3.3v6.6m-2.2-5.5l4.4 4.4m-4.4 0l4.4-4.4M191 182.2h6.6m-3.3-3.3v6.6m-2.2-5.5l4.4 4.4m-4.4 0l4.4-4.4M194.4 181.4h6.6m-3.3-3.3v6.6m-2.2-5.5l4.4 4.4m-4.4 0l4.4-4.4M189.3 185.7h6.6m-3.3-3.3v6.6m-2.2-5.5l4.4 4.4m-4.4 0l4.4-4.4M187.6 189.1h6.6m-3.3-3.3v6.6m-2.2-5.5l4.4 4.4m-4.4 0l4.4-4.4M192.7 190h6.6m-3.3-3.3v6.6m-2.2-5.5l4.4 4.4m-4.4 0l4.4-4.4M196.2 192.5h6.6m-3.3-3.3v6.6m-2.2-5.5l4.4 4.4m-4.4 0l4.4-4.4M189.3 195.1h6.6m-3.3-3.3v6.6m-2.2-5.5l4.4 4.4m-4.4 0l4.4-4.4M194.4 198.6h6.6m-3.3-3.3v6.6m-2.2-5.5l4.4 4.4m-4.4 0l4.4-4.4M188.4 201.1h6.6m-3.3-3.3v6.6m-2.2-5.5l4.4 4.4m-4.4 0l4.4-4.4M191.9 203.7h6.6m-3.3-3.3v6.6m-2.2-5.5l4.4 4.4m-4.4 0l4.4-4.4M187.6 206.3h6.6m-3.3-3.3v6.6m-2.2-5.5l4.4 4.4m-4.4 0l4.4-4.4M191 209.7h6.6m-3.3-3.3v6.6m-2.2-5.5l4.4 4.4m-4.4 0l4.4-4.4M188.4 214.9h6.6m-3.3-3.3v6.6m-2.2-5.5l4.4 4.4m-4.4 0l4.4-4.4M193.6 216.6h6.6m-3.3-3.3v6.6m-2.2-5.5l4.4 4.4m-4.4 0l4.4-4.4M189.3 220.1h6.6m-3.3-3.3v6.6m-2.2-5.5l4.4 4.4m-4.4 0l4.4-4.4M187.6 224.4h6.6m-3.3-3.3v6.6m-2.2-5.5l4.4 4.4m-4.4 0l4.4-4.4M192.7 226.1h6.6m-3.3-3.3v6.6m-2.2-5.5l4.4 4.4m-4.4 0l4.4-4.4M196.2 229.5h6.6m-3.3-3.3v6.6m-2.2-5.5l4.4 4.4m-4.4 0l4.4-4.4M202.2 183.9h6.6m-3.3-3.3v6.6m-2.2-5.5l4.4 4.4m-4.4 0l4.4-4.4M203.9 188.2h6.6m-3.3-3.3v6.6m-2.2-5.5l4.4 4.4m-4.4 0l4.4-4.4M213.4 187.4h6.6m-3.3-3.3v6.6m-2.2-5.5l4.4 4.4m-4.4 0l4.4-4.4M221.1 183.9h6.6m-3.3-3.3v6.6m-2.2-5.5l4.4 4.4m-4.4 0l4.4-4.4M228.9 186.5h6.6m-3.3-3.3v6.6m-2.2-5.5l4.4 4.4m-4.4 0l4.4-4.4M218.5 191.7h6.6m-3.3-3.3v6.6m-2.2-5.5l4.4 4.4m-4.4 0l4.4-4.4M223.7 192.5h6.6m-3.3-3.3v6.6m-2.2-5.5l4.4 4.4m-4.4 0l4.4-4.4M214.2 196h6.6m-3.3-3.3v6.6m-2.2-5.5l4.4 4.4m-4.4 0l4.4-4.4M204.8 195.1h6.6m-3.3-3.3v6.6m-2.2-5.5l4.4 4.4m-4.4 0l4.4-4.4M219.4 196.8h6.6m-3.3-3.3v6.6m-2.2-5.5l4.4 4.4m-4.4 0l4.4-4.4M255.5 183.9h6.6m-3.3-3.3v6.6m-2.2-5.5l4.4 4.4m-4.4 0l4.4-4.4M255.5 191.7h6.6m-3.3-3.3v6.6m-2.2-5.5l4.4 4.4m-4.4 0l4.4-4.4M267.6 196h6.6m-3.3-3.3v6.6m-2.2-5.5l4.4 4.4m-4.4 0l4.4-4.4M272.8 198.6h6.6m-3.3-3.3v6.6m-2.2-5.5l4.4 4.4m-4.4 0l4.4-4.4M202.2 202.9h6.6m-3.3-3.3v6.6m-2.2-5.5l4.4 4.4m-4.4 0l4.4-4.4M222 202.9h6.6m-3.3-3.3v6.6m-2.2-5.5l4.4 4.4m-4.4 0l4.4-4.4M237.5 200.3h6.6m-3.3-3.3v6.6m-2.2-5.5l4.4 4.4m-4.4 0l4.4-4.4M233.2 204.2h6.6m-3.3-3.3v6.6m-2.2-5.5l4.4 4.4m-4.4 0l4.4-4.4M248.7 200.3h6.6m-3.3-3.3v6.6m-2.2-5.5l4.4 4.4m-4.4 0l4.4-4.4M262.4 201.1h6.6m-3.3-3.3v6.6m-2.2-5.5l4.4 4.4m-4.4 0l4.4-4.4M272.8 203.7h6.6m-3.3-3.3v6.6m-2.2-5.5l4.4 4.4m-4.4 0l4.4-4.4M210.8 206.3h6.6m-3.3-3.3v6.6m-2.2-5.5l4.4 4.4m-4.4 0l4.4-4.4M214.2 207.2h6.6m-3.3-3.3v6.6m-2.2-5.5l4.4 4.4m-4.4 0l4.4-4.4M202.2 209.7h6.6m-3.3-3.3v6.6m-2.2-5.5l4.4 4.4m-4.4 0l4.4-4.4M197.9 208h6.6m-3.3-3.3v6.6m-2.2-5.5l4.4 4.4m-4.4 0l4.4-4.4M264.2 210.6h6.6m-3.3-3.3v6.6m-2.2-5.5l4.4 4.4m-4.4 0l4.4-4.4M267.6 214.1h6.6m-3.3-3.3v6.6m-2.2-5.5l4.4 4.4m-4.4 0l4.4-4.4M272.8 208h6.6m-3.3-3.3v6.6m-2.2-5.5l4.4 4.4m-4.4 0l4.4-4.4M225.4 214.1h6.6m-3.3-3.3v6.6m-2.2-5.5l4.4 4.4m-4.4 0l4.4-4.4M227.1 215.8h6.6m-3.3-3.3v6.6m-2.2-5.5l4.4 4.4m-4.4 0l4.4-4.4M205.6 214.9h6.6m-3.3-3.3v6.6m-2.2-5.5l4.4 4.4m-4.4 0l4.4-4.4M210.8 217.5h6.6m-3.3-3.3v6.6m-2.2-5.5l4.4 4.4m-4.4 0l4.4-4.4M216 216.6h6.6m-3.3-3.3v6.6m-2.2-5.5l4.4 4.4m-4.4 0l4.4-4.4M201.3 220.1h6.6m-3.3-3.3v6.6m-2.2-5.5l4.4 4.4m-4.4 0l4.4-4.4M231.5 217.5h6.6m-3.3-3.3v6.6m-2.2-5.5l4.4 4.4m-4.4 0l4.4-4.4M236.6 220.1h6.6m-3.3-3.3v6.6m-2.2-5.5l4.4 4.4m-4.4 0l4.4-4.4M229.7 220.9h6.6m-3.3-3.3v6.6m-2.2-5.5l4.4 4.4m-4.4 0l4.4-4.4M246.9 220.9h6.6m-3.3-3.3v6.6m-2.2-5.5l4.4 4.4m-4.4 0l4.4-4.4M252.1 214.9h6.6m-3.3-3.3v6.6m-2.2-5.5l4.4 4.4m-4.4 0l4.4-4.4M255.5 220.1h6.6m-3.3-3.3v6.6m-2.2-5.5l4.4 4.4m-4.4 0l4.4-4.4M254.7 225.2h6.6m-3.3-3.3v6.6m-2.2-5.5l4.4 4.4m-4.4 0l4.4-4.4M248.7 227h6.6m-3.3-3.3v6.6m-2.2-5.5l4.4 4.4m-4.4 0l4.4-4.4M216.8 228.7h6.6m-3.3-3.3v6.6m-2.2-5.5l4.4 4.4m-4.4 0l4.4-4.4M198.7 223.5h6.6m-3.3-3.3v6.6m-2.2-5.5l4.4 4.4m-4.4 0l4.4-4.4M205.6 222.7h6.6m-3.3-3.3v6.6m-2.2-5.5l4.4 4.4m-4.4 0l4.4-4.4M127.9 163.8h6.6m-3.3-3.3v6.6m-2.2-5.5l4.4 4.4m-4.4 0l4.4-4.4M82 173.2h6.6m-3.3-3.3v6.6m-2.2-5.5l4.4 4.4m-4.4 0l4.4-4.4M104.4 177.5h6.6m-3.3-3.3v6.6m-2.2-5.5l4.4 4.4m-4.4 0l4.4-4.4M121.1 174.1h6.6m-3.3-3.3v6.6m-2.2-5.5l4.4 4.4m-4.4 0l4.4-4.4M91.8 181.8h6.6m-3.3-3.3v6.6m-2.2-5.5l4.4 4.4m-4.4 0l4.4-4.4M76.8 187h6.6m-3.3-3.3v6.6m-2.2-5.5l4.4 4.4m-4.4 0l4.4-4.4M63.9 187h6.6m-3.3-3.3v6.6m-2.2-5.5l4.4 4.4m-4.4 0l4.4-4.4M87.7 187.9h6.6m-3.3-3.3v6.6m-2.2-5.5l4.4 4.4m-4.4 0l4.4-4.4M103.5 185.8h6.6m-3.3-3.3v6.6m-2.2-5.5l4.4 4.4m-4.4 0l4.4-4.4M106.1 191.8h6.6m-3.3-3.3v6.6m-2.2-5.5l4.4 4.4m-4.4 0l4.4-4.4M117.3 188.2h6.6m-3.3-3.3v6.6m-2.2-5.5l4.4 4.4m-4.4 0l4.4-4.4M133.6 185.3h6.6m-3.3-3.3v6.6m-2.2-5.5l4.4 4.4m-4.4 0l4.4-4.4M55.3 195.6h6.6m-3.3-3.3v6.6m-2.2-5.5l4.4 4.4m-4.4 0l4.4-4.4M66.5 193h6.6m-3.3-3.3v6.6m-2.2-5.5l4.4 4.4m-4.4 0l4.4-4.4M67.4 198.2h6.6m-3.3-3.3v6.6m-2.2-5.5l4.4 4.4m-4.4 0l4.4-4.4M53.6 203.4h6.6m-3.3-3.3v6.6m-2.2-5.5l4.4 4.4m-4.4 0l4.4-4.4M59.6 205.9h6.6m-3.3-3.3v6.6m-2.2-5.5l4.4 4.4m-4.4 0l4.4-4.4M71.7 205.9h6.6m-3.3-3.3v6.6m-2.2-5.5l4.4 4.4m-4.4 0l4.4-4.4M78.5 203.4h6.6m-3.3-3.3v6.6m-2.2-5.5l4.4 4.4m-4.4 0l4.4-4.4M64.8 212h6.6m-3.3-3.3v6.6m-2.2-5.5l4.4 4.4m-4.4 0l4.4-4.4M56.2 214.5h6.6m-3.3-3.3v6.6m-2.2-5.5l4.4 4.4m-4.4 0l4.4-4.4M91.1 209h6.6m-3.3-3.3v6.6m-2.2-5.5l4.4 4.4m-4.4 0l4.4-4.4M114.7 195.6h6.6m-3.3-3.3v6.6m-2.2-5.5l4.4 4.4m-4.4 0l4.4-4.4M112.1 198.2h6.6m-3.3-3.3v6.6m-2.2-5.5l4.4 4.4m-4.4 0l4.4-4.4M108.7 202.5h6.6m-3.3-3.3v6.6m-2.2-5.5l4.4 4.4m-4.4 0l4.4-4.4M115.5 201.6h6.6m-3.3-3.3v6.6m-2.2-5.5l4.4 4.4m-4.4 0l4.4-4.4M106.9 206.8h6.6m-3.3-3.3v6.6m-2.2-5.5l4.4 4.4m-4.4 0l4.4-4.4M113 209.4h6.6m-3.3-3.3v6.6m-2.2-5.5l4.4 4.4m-4.4 0l4.4-4.4M119 205.1h6.6m-3.3-3.3v6.6m-2.2-5.5l4.4 4.4m-4.4 0l4.4-4.4M123.3 201.6h6.6m-3.3-3.3v6.6m-2.2-5.5l4.4 4.4m-4.4 0l4.4-4.4M127.6 206.8h6.6m-3.3-3.3v6.6m-2.2-5.5l4.4 4.4m-4.4 0l4.4-4.4M129.3 199.9h6.6m-3.3-3.3v6.6m-2.2-5.5l4.4 4.4m-4.4 0l4.4-4.4M132.8 201.6h6.6m-3.3-3.3v6.6m-2.2-5.5l4.4 4.4m-4.4 0l4.4-4.4M134.5 206.8h6.6m-3.3-3.3v6.6m-2.2-5.5l4.4 4.4m-4.4 0l4.4-4.4M110.4 213.7h6.6m-3.3-3.3v6.6m-2.2-5.5l4.4 4.4m-4.4 0l4.4-4.4M115.5 215.4h6.6m-3.3-3.3v6.6m-2.2-5.5l4.4 4.4m-4.4 0l4.4-4.4M120.7 212h6.6m-3.3-3.3v6.6m-2.2-5.5l4.4 4.4m-4.4 0l4.4-4.4M127.6 215.4h6.6m-3.3-3.3v6.6m-2.2-5.5l4.4 4.4m-4.4 0l4.4-4.4M134.5 213.7h6.6m-3.3-3.3v6.6m-2.2-5.5l4.4 4.4m-4.4 0l4.4-4.4M131 191.3h6.6m-3.3-3.3v6.6m-2.2-5.5l4.4 4.4m-4.4 0l4.4-4.4M142.2 169.2h6.6m-3.3-3.3v6.6m-2.2-5.5l4.4 4.4m-4.4 0l4.4-4.4M155.8 170.9h6.6m-3.3-3.3v6.6m-2.2-5.5l4.4 4.4m-4.4 0l4.4-4.4M150.3 175.7h6.6m-3.3-3.3v6.6m-2.2-5.5l4.4 4.4m-4.4 0l4.4-4.4M154.4 175h6.6m-3.3-3.3v6.6m-2.2-5.5l4.4 4.4m-4.4 0l4.4-4.4M156.4 177h6.6m-3.3-3.3v6.6m-2.2-5.5l4.4 4.4m-4.4 0l4.4-4.4M164.3 171.4h6.6m-3.3-3.3v6.6m-2.2-5.5l4.4 4.4m-4.4 0l4.4-4.4M165.2 175h6.6m-3.3-3.3v6.6m-2.2-5.5l4.4 4.4m-4.4 0l4.4-4.4M168.6 166.2h6.6m-3.3-3.3v6.6m-2.2-5.5l4.4 4.4m-4.4 0l4.4-4.4M163.2 181.1h6.6m-3.3-3.3v6.6m-2.2-5.5l4.4 4.4m-4.4 0l4.4-4.4M158.5 182.4h6.6m-3.3-3.3v6.6m-2.2-5.5l4.4 4.4m-4.4 0l4.4-4.4M138.9 181.8h6.6m-3.3-3.3v6.6m-2.2-5.5l4.4 4.4m-4.4 0l4.4-4.4M143.6 182.4h6.6m-3.3-3.3v6.6m-2.2-5.5l4.4 4.4m-4.4 0l4.4-4.4M139.5 189.2h6.6m-3.3-3.3v6.6m-2.2-5.5l4.4 4.4m-4.4 0l4.4-4.4M144.9 190.5h6.6m-3.3-3.3v6.6m-2.2-5.5l4.4 4.4m-4.4 0l4.4-4.4M147 191.9h6.6m-3.3-3.3v6.6m-2.2-5.5l4.4 4.4m-4.4 0l4.4-4.4M142.9 193.2h6.6m-3.3-3.3v6.6m-2.2-5.5l4.4 4.4m-4.4 0l4.4-4.4M155.1 193.2h6.6m-3.3-3.3v6.6m-2.2-5.5l4.4 4.4m-4.4 0l4.4-4.4M165.9 190.5h6.6m-3.3-3.3v6.6m-2.2-5.5l4.4 4.4m-4.4 0l4.4-4.4M170.6 182.4h6.6m-3.3-3.3v6.6m-2.2-5.5l4.4 4.4m-4.4 0l4.4-4.4M173.3 183.8h6.6m-3.3-3.3v6.6m-2.2-5.5l4.4 4.4m-4.4 0l4.4-4.4M176.7 185.8h6.6m-3.3-3.3v6.6m-2.2-5.5l4.4 4.4m-4.4 0l4.4-4.4M180.1 185.1h6.6m-3.3-3.3v6.6m-2.2-5.5l4.4 4.4m-4.4 0l4.4-4.4M169.9 194.6h6.6m-3.3-3.3v6.6m-2.2-5.5l4.4 4.4m-4.4 0l4.4-4.4M149 200.7h6.6m-3.3-3.3v6.6m-2.2-5.5l4.4 4.4m-4.4 0l4.4-4.4M155.8 202h6.6m-3.3-3.3v6.6m-2.2-5.5l4.4 4.4m-4.4 0l4.4-4.4M160.5 200.7h6.6m-3.3-3.3v6.6m-2.2-5.5l4.4 4.4m-4.4 0l4.4-4.4M166.6 201.4h6.6m-3.3-3.3v6.6m-2.2-5.5l4.4 4.4m-4.4 0l4.4-4.4M174 150.7h6.6m-3.3-3.3v6.6m-2.2-5.5l4.4 4.4m-4.4 0l4.4-4.4M184.8 160.8h6.6m-3.3-3.3v6.6m-2.2-5.5l4.4 4.4m-4.4 0l4.4-4.4M191.6 158.1h6.6m-3.3-3.3v6.6m-2.2-5.5l4.4 4.4m-4.4 0l4.4-4.4M176.7 164.9h6.6m-3.3-3.3v6.6m-2.2-5.5l4.4 4.4m-4.4 0l4.4-4.4M180.8 168.2h6.6m-3.3-3.3v6.6m-2.2-5.5l4.4 4.4m-4.4 0l4.4-4.4M184.8 168.9h6.6m-3.3-3.3v6.6m-2.2-5.5l4.4 4.4m-4.4 0l4.4-4.4M194.3 168.9h6.6m-3.3-3.3v6.6m-2.2-5.5l4.4 4.4m-4.4 0l4.4-4.4M178.7 173.6h6.6m-3.3-3.3v6.6m-2.2-5.5l4.4 4.4m-4.4 0l4.4-4.4M186.2 173.6h6.6m-3.3-3.3v6.6m-2.2-5.5l4.4 4.4m-4.4 0l4.4-4.4M190.2 179.7h6.6m-3.3-3.3v6.6m-2.2-5.5l4.4 4.4m-4.4 0l4.4-4.4M194.3 178.4h6.6m-3.3-3.3v6.6m-2.2-5.5l4.4 4.4m-4.4 0l4.4-4.4M186.8 184.5h6.6m-3.3-3.3v6.6m-2.2-5.5l4.4 4.4m-4.4 0l4.4-4.4M184.8 193.2h6.6m-3.3-3.3v6.6m-2.2-5.5l4.4 4.4m-4.4 0l4.4-4.4M188.9 191.9h6.6m-3.3-3.3v6.6m-2.2-5.5l4.4 4.4m-4.4 0l4.4-4.4M183.5 197.3h6.6m-3.3-3.3v6.6m-2.2-5.5l4.4 4.4m-4.4 0l4.4-4.4M190.2 198.6h6.6m-3.3-3.3v6.6m-2.2-5.5l4.4 4.4m-4.4 0l4.4-4.4M194.3 201.4h6.6m-3.3-3.3v6.6m-2.2-5.5l4.4 4.4m-4.4 0l4.4-4.4M180.1 202.7h6.6m-3.3-3.3v6.6m-2.2-5.5l4.4 4.4m-4.4 0l4.4-4.4M205.9 308.5h6.6m-3.3-3.3v6.6m-2.2-5.5l4.4 4.4m-4.4 0l4.4-4.4M214.2 314h6.6m-3.3-3.3v6.6m-2.2-5.5l4.4 4.4m-4.4 0l4.4-4.4M213.3 316.8h6.6m-3.3-3.3v6.6m-2.2-5.5l4.4 4.4m-4.4 0l4.4-4.4M226.2 317.7h6.6m-3.3-3.3v6.6m-2.2-5.5l4.4 4.4m-4.4 0l4.4-4.4M225.3 322.3h6.6m-3.3-3.3v6.6m-2.2-5.5l4.4 4.4m-4.4 0l4.4-4.4M210 323.2h6.6m-3.3-3.3v6.6m-2.2-5.5l4.4 4.4m-4.4 0l4.4-4.4M236.9 325.6h6.6m-3.3-3.3v6.6m-2.2-5.5l4.4 4.4m-4.4 0l4.4-4.4M250.2 321.7h6.6m-3.3-3.3v6.6m-2.2-5.5l4.4 4.4m-4.4 0l4.4-4.4M203.2 332.8h6.6m-3.3-3.3v6.6m-2.2-5.5l4.4 4.4m-4.4 0l4.4-4.4M253.9 340.7h6.6m-3.3-3.3v6.6m-2.2-5.5l4.4 4.4m-4.4 0l4.4-4.4M256.1 339.4h6.6m-3.3-3.3v6.6m-2.2-5.5l4.4 4.4m-4.4 0l4.4-4.4M197.6 350h6.6m-3.3-3.3v6.6m-2.2-5.5l4.4 4.4m-4.4 0l4.4-4.4M205 352.7h6.6m-3.3-3.3v6.6m-2.2-5.5l4.4 4.4m-4.4 0l4.4-4.4M213.3 353.7h6.6m-3.3-3.3v6.6m-2.2-5.5l4.4 4.4m-4.4 0l4.4-4.4M250.2 352.4h6.6m-3.3-3.3v6.6m-2.2-5.5l4.4 4.4m-4.4 0l4.4-4.4M261.3 356.4h6.6m-3.3-3.3v6.6m-2.2-5.5l4.4 4.4m-4.4 0l4.4-4.4M45.3 186.4h6.6m-3.3-3.3v6.6m-2.2-5.5l4.4 4.4m-4.4 0l4.4-4.4M47 188.9h6.6m-3.3-3.3v6.6m-2.2-5.5l4.4 4.4m-4.4 0l4.4-4.4M49.6 191.5h6.6m-3.3-3.3v6.6m-2.2-5.5l4.4 4.4m-4.4 0l4.4-4.4M47.9 197.5h6.6m-3.3-3.3v6.6m-2.2-5.5l4.4 4.4m-4.4 0l4.4-4.4M47 216.5h6.6m-3.3-3.3v6.6m-2.2-5.5l4.4 4.4m-4.4 0l4.4-4.4M49.6 219.1h6.6m-3.3-3.3v6.6m-2.2-5.5l4.4 4.4m-4.4 0l4.4-4.4M50.5 222.5h6.6m-3.3-3.3v6.6m-2.2-5.5l4.4 4.4m-4.4 0l4.4-4.4M47 225.1h6.6m-3.3-3.3v6.6m-2.2-5.5l4.4 4.4m-4.4 0l4.4-4.4M46.2 229.4h6.6m-3.3-3.3v6.6m-2.2-5.5l4.4 4.4m-4.4 0l4.4-4.4M52.2 227.7h6.6m-3.3-3.3v6.6m-2.2-5.5l4.4 4.4m-4.4 0l4.4-4.4M56.5 226.8h6.6m-3.3-3.3v6.6m-2.2-5.5l4.4 4.4m-4.4 0l4.4-4.4M48.7 233.7h6.6m-3.3-3.3v6.6m-2.2-5.5l4.4 4.4m-4.4 0l4.4-4.4M53.9 236.3h6.6m-3.3-3.3v6.6m-2.2-5.5l4.4 4.4m-4.4 0l4.4-4.4M59.1 232h6.6m-3.3-3.3v6.6m-2.2-5.5l4.4 4.4m-4.4 0l4.4-4.4M64.2 232h6.6m-3.3-3.3v6.6m-2.2-5.5l4.4 4.4m-4.4 0l4.4-4.4M67.7 226.8h6.6m-3.3-3.3v6.6m-2.2-5.5l4.4 4.4m-4.4 0l4.4-4.4M71.1 231.1h6.6m-3.3-3.3v6.6m-2.2-5.5l4.4 4.4m-4.4 0l4.4-4.4M86.6 226.8h6.6m-3.3-3.3v6.6m-2.2-5.5l4.4 4.4m-4.4 0l4.4-4.4M83.2 231.1h6.6m-3.3-3.3v6.6m-2.2-5.5l4.4 4.4m-4.4 0l4.4-4.4M93.5 230.2h6.6m-3.3-3.3v6.6m-2.2-5.5l4.4 4.4m-4.4 0l4.4-4.4M98.7 232.8h6.6m-3.3-3.3v6.6m-2.2-5.5l4.4 4.4m-4.4 0l4.4-4.4M104.7 228.5h6.6m-3.3-3.3v6.6m-2.2-5.5l4.4 4.4m-4.4 0l4.4-4.4M44.1 174.3h6.6m-3.3-3.3v6.6m-2.2-5.5l4.4 4.4m-4.4 0l4.4-4.4M44.1 177.4h6.6m-3.3-3.3v6.6m-2.2-5.5l4.4 4.4m-4.4 0l4.4-4.4M44.1 180.2h6.6m-3.3-3.3v6.6m-2.2-5.5l4.4 4.4m-4.4 0l4.4-4.4M44.1 184.1h6.6m-3.3-3.3v6.6m-2.2-5.5l4.4 4.4m-4.4 0l4.4-4.4M44.1 186.7h6.6m-3.3-3.3v6.6m-2.2-5.5l4.4 4.4m-4.4 0l4.4-4.4M44.1 190.3h6.6m-3.3-3.3v6.6m-2.2-5.5l4.4 4.4m-4.4 0l4.4-4.4M44.1 193.5h6.6m-3.3-3.3v6.6m-2.2-5.5l4.4 4.4m-4.4 0l4.4-4.4M44.1 196.1h6.6m-3.3-3.3v6.6m-2.2-5.5l4.4 4.4m-4.4 0l4.4-4.4M44.1 199.6h6.6m-3.3-3.3v6.6m-2.2-5.5l4.4 4.4m-4.4 0l4.4-4.4M44.1 202.2h6.6m-3.3-3.3v6.6m-2.2-5.5l4.4 4.4m-4.4 0l4.4-4.4M44.1 205.6h6.6m-3.3-3.3v6.6m-2.2-5.5l4.4 4.4m-4.4 0l4.4-4.4M44.1 208.2h6.6m-3.3-3.3v6.6m-2.2-5.5l4.4 4.4m-4.4 0l4.4-4.4M44.1 210.9h6.6m-3.3-3.3v6.6m-2.2-5.5l4.4 4.4m-4.4 0l4.4-4.4M44.1 214.2h6.6m-3.3-3.3v6.6m-2.2-5.5l4.4 4.4m-4.4 0l4.4-4.4M44.1 218.4h6.6m-3.3-3.3v6.6m-2.2-5.5l4.4 4.4m-4.4 0l4.4-4.4M44.1 221.1h6.6m-3.3-3.3v6.6m-2.2-5.5l4.4 4.4m-4.4 0l4.4-4.4M44.1 224.1h6.6m-3.3-3.3v6.6m-2.2-5.5l4.4 4.4m-4.4 0l4.4-4.4M44.1 227.8h6.6m-3.3-3.3v6.6m-2.2-5.5l4.4 4.4m-4.4 0l4.4-4.4M44.1 232.2h6.6m-3.3-3.3v6.6m-2.2-5.5l4.4 4.4m-4.4 0l4.4-4.4M44.1 235.9h6.6m-3.3-3.3v6.6m-2.2-5.5l4.4 4.4m-4.4 0l4.4-4.4M44.1 239.2h6.6m-3.3-3.3v6.6m-2.2-5.5l4.4 4.4m-4.4 0l4.4-4.4M44.1 243.6h6.6m-3.3-3.3v6.6m-2.2-5.5l4.4 4.4m-4.4 0l4.4-4.4M44.1 246.2h6.6m-3.3-3.3v6.6m-2.2-5.5l4.4 4.4m-4.4 0l4.4-4.4M44.1 249h6.6m-3.3-3.3v6.6m-2.2-5.5l4.4 4.4m-4.4 0l4.4-4.4M44.1 251h6.6m-3.3-3.3v6.6m-2.2-5.5l4.4 4.4m-4.4 0l4.4-4.4M44.1 252.7h6.6m-3.3-3.3v6.6m-2.2-5.5l4.4 4.4m-4.4 0l4.4-4.4M44.1 254.3h6.6m-3.3-3.3v6.6m-2.2-5.5l4.4 4.4m-4.4 0l4.4-4.4M44.1 256.3h6.6m-3.3-3.3v6.6m-2.2-5.5l4.4 4.4m-4.4 0l4.4-4.4M44.1 259h6.6m-3.3-3.3v6.6m-2.2-5.5l4.4 4.4m-4.4 0l4.4-4.4M44.1 260.8h6.6m-3.3-3.3v6.6m-2.2-5.5l4.4 4.4m-4.4 0l4.4-4.4M44.1 263.2h6.6m-3.3-3.3v6.6m-2.2-5.5l4.4 4.4m-4.4 0l4.4-4.4M44.1 265.6h6.6m-3.3-3.3v6.6m-2.2-5.5l4.4 4.4m-4.4 0l4.4-4.4M44.1 267.7h6.6m-3.3-3.3v6.6m-2.2-5.5l4.4 4.4m-4.4 0l4.4-4.4M44.1 270h6.6m-3.3-3.3v6.6m-2.2-5.5l4.4 4.4m-4.4 0l4.4-4.4M44.1 271.6h6.6m-3.3-3.3v6.6m-2.2-5.5l4.4 4.4m-4.4 0l4.4-4.4M44.1 273.2h6.6m-3.3-3.3v6.6m-2.2-5.5l4.4 4.4m-4.4 0l4.4-4.4M44.1 275h6.6m-3.3-3.3v6.6m-2.2-5.5l4.4 4.4m-4.4 0l4.4-4.4M44.1 277.5h6.6m-3.3-3.3v6.6m-2.2-5.5l4.4 4.4m-4.4 0l4.4-4.4M44.1 279.7h6.6m-3.3-3.3v6.6m-2.2-5.5l4.4 4.4m-4.4 0l4.4-4.4M44.1 281.6h6.6m-3.3-3.3v6.6m-2.2-5.5l4.4 4.4m-4.4 0l4.4-4.4M44.1 284h6.6m-3.3-3.3v6.6m-2.2-5.5l4.4 4.4m-4.4 0l4.4-4.4M44.1 286.2h6.6m-3.3-3.3v6.6m-2.2-5.5l4.4 4.4m-4.4 0l4.4-4.4M44.1 288.2h6.6m-3.3-3.3v6.6m-2.2-5.5l4.4 4.4m-4.4 0l4.4-4.4M44.1 290.8h6.6m-3.3-3.3v6.6m-2.2-5.5l4.4 4.4m-4.4 0l4.4-4.4M44.1 293.4h6.6m-3.3-3.3v6.6m-2.2-5.5l4.4 4.4m-4.4 0l4.4-4.4M44.1 295.3h6.6m-3.3-3.3v6.6m-2.2-5.5l4.4 4.4m-4.4 0l4.4-4.4M44.1 297.6h6.6m-3.3-3.3v6.6m-2.2-5.5l4.4 4.4m-4.4 0l4.4-4.4M44.1 299.9h6.6m-3.3-3.3v6.6m-2.2-5.5l4.4 4.4m-4.4 0l4.4-4.4M44.1 302.7h6.6m-3.3-3.3v6.6m-2.2-5.5l4.4 4.4m-4.4 0l4.4-4.4M44.1 305.3h6.6m-3.3-3.3v6.6m-2.2-5.5l4.4 4.4m-4.4 0l4.4-4.4M44.1 307.2h6.6m-3.3-3.3v6.6m-2.2-5.5l4.4 4.4m-4.4 0l4.4-4.4M44.1 310.2h6.6m-3.3-3.3v6.6m-2.2-5.5l4.4 4.4m-4.4 0l4.4-4.4M44.1 311.9h6.6m-3.3-3.3v6.6m-2.2-5.5l4.4 4.4m-4.4 0l4.4-4.4M44.1 314h6.6m-3.3-3.3v6.6m-2.2-5.5l4.4 4.4m-4.4 0l4.4-4.4M44.1 316.7h6.6m-3.3-3.3v6.6m-2.2-5.5l4.4 4.4m-4.4 0l4.4-4.4M44.1 318.4h6.6m-3.3-3.3v6.6m-2.2-5.5l4.4 4.4m-4.4 0l4.4-4.4M44.1 320.6h6.6m-3.3-3.3v6.6m-2.2-5.5l4.4 4.4m-4.4 0l4.4-4.4M44.1 322.2h6.6m-3.3-3.3v6.6m-2.2-5.5l4.4 4.4m-4.4 0l4.4-4.4M44.1 324.7h6.6m-3.3-3.3v6.6m-2.2-5.5l4.4 4.4m-4.4 0l4.4-4.4M44.1 327.3h6.6m-3.3-3.3v6.6m-2.2-5.5l4.4 4.4m-4.4 0l4.4-4.4M44.1 329.7h6.6m-3.3-3.3v6.6m-2.2-5.5l4.4 4.4m-4.4 0l4.4-4.4M44.1 332.5h6.6m-3.3-3.3v6.6m-2.2-5.5l4.4 4.4m-4.4 0l4.4-4.4M44.1 334.5h6.6m-3.3-3.3v6.6m-2.2-5.5l4.4 4.4m-4.4 0l4.4-4.4M44.1 337h6.6m-3.3-3.3v6.6m-2.2-5.5l4.4 4.4m-4.4 0l4.4-4.4M44.1 339.4h6.6m-3.3-3.3v6.6m-2.2-5.5l4.4 4.4m-4.4 0l4.4-4.4M44.1 341.8h6.6m-3.3-3.3v6.6m-2.2-5.5l4.4 4.4m-4.4 0l4.4-4.4M44.1 344h6.6m-3.3-3.3v6.6m-2.2-5.5l4.4 4.4m-4.4 0l4.4-4.4M44.1 346.7h6.6m-3.3-3.3v6.6m-2.2-5.5l4.4 4.4m-4.4 0l4.4-4.4M44.1 349.6h6.6m-3.3-3.3v6.6m-2.2-5.5l4.4 4.4m-4.4 0l4.4-4.4M44.1 351.8h6.6m-3.3-3.3v6.6m-2.2-5.5l4.4 4.4m-4.4 0l4.4-4.4M44.1 354.3h6.6m-3.3-3.3v6.6m-2.2-5.5l4.4 4.4m-4.4 0l4.4-4.4M44.1 355.9h6.6m-3.3-3.3v6.6m-2.2-5.5l4.4 4.4m-4.4 0l4.4-4.4M44.1 358.5h6.6m-3.3-3.3v6.6m-2.2-5.5l4.4 4.4m-4.4 0l4.4-4.4M44.1 361h6.6m-3.3-3.3v6.6m-2.2-5.5l4.4 4.4m-4.4 0l4.4-4.4M44.1 361.2h6.6m-3.3-3.3v6.6m-2.2-5.5l4.4 4.4m-4.4 0l4.4-4.4M46.4 361.2h6.6m-3.3-3.3v6.6m-2.2-5.5l4.4 4.4m-4.4 0l4.4-4.4M47.9 361.2h6.6m-3.3-3.3v6.6m-2.2-5.5l4.4 4.4m-4.4 0l4.4-4.4M49.6 361.2h6.6m-3.3-3.3v6.6m-2.2-5.5l4.4 4.4m-4.4 0l4.4-4.4M51.7 361.2h6.6m-3.3-3.3v6.6m-2.2-5.5l4.4 4.4m-4.4 0l4.4-4.4M52.9 361.2h6.6m-3.3-3.3v6.6m-2.2-5.5l4.4 4.4m-4.4 0l4.4-4.4M54.7 361.2h6.6m-3.3-3.3v6.6m-2.2-5.5l4.4 4.4m-4.4 0l4.4-4.4M56.2 361.2h6.6m-3.3-3.3v6.6m-2.2-5.5l4.4 4.4m-4.4 0l4.4-4.4M57.5 361.2h6.6m-3.3-3.3v6.6m-2.2-5.5l4.4 4.4m-4.4 0l4.4-4.4M58.8 361.2h6.6m-3.3-3.3v6.6m-2.2-5.5l4.4 4.4m-4.4 0l4.4-4.4M61 361.2h6.6m-3.3-3.3v6.6m-2.2-5.5l4.4 4.4m-4.4 0l4.4-4.4M62.4 361.2h6.6m-3.3-3.3v6.6m-2.2-5.5l4.4 4.4m-4.4 0l4.4-4.4M63.9 361.2h6.6m-3.3-3.3v6.6m-2.2-5.5l4.4 4.4m-4.4 0l4.4-4.4M65.6 361.2h6.6m-3.3-3.3v6.6m-2.2-5.5l4.4 4.4m-4.4 0l4.4-4.4M67.9 361.2h6.6m-3.3-3.3v6.6m-2.2-5.5l4.4 4.4m-4.4 0l4.4-4.4M69.2 361.2h6.6m-3.3-3.3v6.6m-2.2-5.5l4.4 4.4m-4.4 0l4.4-4.4M71 361.2h6.6m-3.3-3.3v6.6m-2.2-5.5l4.4 4.4m-4.4 0l4.4-4.4M72.9 361.2h6.6m-3.3-3.3v6.6m-2.2-5.5l4.4 4.4m-4.4 0l4.4-4.4M75.3 361.2h6.6m-3.3-3.3v6.6m-2.2-5.5l4.4 4.4m-4.4 0l4.4-4.4M77.5 361.2h6.6m-3.3-3.3v6.6m-2.2-5.5l4.4 4.4m-4.4 0l4.4-4.4M79.9 361.2h6.6m-3.3-3.3v6.6m-2.2-5.5l4.4 4.4m-4.4 0l4.4-4.4M81.4 361.2h6.6m-3.3-3.3v6.6m-2.2-5.5l4.4 4.4m-4.4 0l4.4-4.4M83.2 361.2h6.6m-3.3-3.3v6.6m-2.2-5.5l4.4 4.4m-4.4 0l4.4-4.4M84.8 361.2h6.6m-3.3-3.3v6.6m-2.2-5.5l4.4 4.4m-4.4 0l4.4-4.4M87.2 361.2h6.6m-3.3-3.3v6.6m-2.2-5.5l4.4 4.4m-4.4 0l4.4-4.4M89.6 361.2h6.6m-3.3-3.3v6.6m-2.2-5.5l4.4 4.4m-4.4 0l4.4-4.4M91 361.2h6.6m-3.3-3.3v6.6m-2.2-5.5l4.4 4.4m-4.4 0l4.4-4.4M92.4 361.2h6.6m-3.3-3.3v6.6m-2.2-5.5l4.4 4.4m-4.4 0l4.4-4.4M93.9 361.2h6.6m-3.3-3.3v6.6m-2.2-5.5l4.4 4.4m-4.4 0l4.4-4.4M95.4 361.2h6.6m-3.3-3.3v6.6m-2.2-5.5l4.4 4.4m-4.4 0l4.4-4.4M97.3 361.2h6.6m-3.3-3.3v6.6m-2.2-5.5l4.4 4.4m-4.4 0l4.4-4.4M99.2 361.2h6.6m-3.3-3.3v6.6m-2.2-5.5l4.4 4.4m-4.4 0l4.4-4.4M100.8 361.2h6.6m-3.3-3.3v6.6m-2.2-5.5l4.4 4.4m-4.4 0l4.4-4.4M102 361.2h6.6m-3.3-3.3v6.6m-2.2-5.5l4.4 4.4m-4.4 0l4.4-4.4M103.7 361.2h6.6m-3.3-3.3v6.6m-2.2-5.5l4.4 4.4m-4.4 0l4.4-4.4M105.4 361.2h6.6m-3.3-3.3v6.6m-2.2-5.5l4.4 4.4m-4.4 0l4.4-4.4M107.4 361.2h6.6m-3.3-3.3v6.6m-2.2-5.5l4.4 4.4m-4.4 0l4.4-4.4M109.8 361.2h6.6m-3.3-3.3v6.6m-2.2-5.5l4.4 4.4m-4.4 0l4.4-4.4M111.9 361.2h6.6m-3.3-3.3v6.6m-2.2-5.5l4.4 4.4m-4.4 0l4.4-4.4M113.8 361.2h6.6m-3.3-3.3v6.6m-2.2-5.5l4.4 4.4m-4.4 0l4.4-4.4M115.8 361.2h6.6m-3.3-3.3v6.6m-2.2-5.5l4.4 4.4m-4.4 0l4.4-4.4M117.8 361.2h6.6m-3.3-3.3v6.6m-2.2-5.5l4.4 4.4m-4.4 0l4.4-4.4M119.1 361.2h6.6m-3.3-3.3v6.6m-2.2-5.5l4.4 4.4m-4.4 0l4.4-4.4M121.5 361.2h6.6m-3.3-3.3v6.6m-2.2-5.5l4.4 4.4m-4.4 0l4.4-4.4M123.7 361.2h6.6m-3.3-3.3v6.6m-2.2-5.5l4.4 4.4m-4.4 0l4.4-4.4M126 361.2h6.6m-3.3-3.3v6.6m-2.2-5.5l4.4 4.4m-4.4 0l4.4-4.4M128.3 361.2h6.6m-3.3-3.3v6.6m-2.2-5.5l4.4 4.4m-4.4 0l4.4-4.4M130 361.2h6.6m-3.3-3.3v6.6m-2.2-5.5l4.4 4.4m-4.4 0l4.4-4.4M131.7 361.2h6.6m-3.3-3.3v6.6m-2.2-5.5l4.4 4.4m-4.4 0l4.4-4.4M133 361.2h6.6m-3.3-3.3v6.6m-2.2-5.5l4.4 4.4m-4.4 0l4.4-4.4M135.1 361.2h6.6m-3.3-3.3v6.6m-2.2-5.5l4.4 4.4m-4.4 0l4.4-4.4M136.3 361.2h6.6m-3.3-3.3v6.6m-2.2-5.5l4.4 4.4m-4.4 0l4.4-4.4M137.6 361.2h6.6m-3.3-3.3v6.6m-2.2-5.5l4.4 4.4m-4.4 0l4.4-4.4M139.1 361.2h6.6m-3.3-3.3v6.6m-2.2-5.5l4.4 4.4m-4.4 0l4.4-4.4M140.5 361.2h6.6m-3.3-3.3v6.6m-2.2-5.5l4.4 4.4m-4.4 0l4.4-4.4M142.1 361.2h6.6m-3.3-3.3v6.6m-2.2-5.5l4.4 4.4m-4.4 0l4.4-4.4M143.4 361.2h6.6m-3.3-3.3v6.6m-2.2-5.5l4.4 4.4m-4.4 0l4.4-4.4M144.6 361.2h6.6m-3.3-3.3v6.6m-2.2-5.5l4.4 4.4m-4.4 0l4.4-4.4M146 361.2h6.6m-3.3-3.3v6.6m-2.2-5.5l4.4 4.4m-4.4 0l4.4-4.4M147.3 361.2h6.6m-3.3-3.3v6.6m-2.2-5.5l4.4 4.4m-4.4 0l4.4-4.4M149 361.2h6.6m-3.3-3.3v6.6m-2.2-5.5l4.4 4.4m-4.4 0l4.4-4.4M150.3 361.2h6.6m-3.3-3.3v6.6m-2.2-5.5l4.4 4.4m-4.4 0l4.4-4.4M152.6 361.2h6.6m-3.3-3.3v6.6m-2.2-5.5l4.4 4.4m-4.4 0l4.4-4.4M154.6 361.2h6.6m-3.3-3.3v6.6m-2.2-5.5l4.4 4.4m-4.4 0l4.4-4.4M156 361.2h6.6m-3.3-3.3v6.6m-2.2-5.5l4.4 4.4m-4.4 0l4.4-4.4M157.5 361.2h6.6m-3.3-3.3v6.6m-2.2-5.5l4.4 4.4m-4.4 0l4.4-4.4M159.2 361.2h6.6m-3.3-3.3v6.6m-2.2-5.5l4.4 4.4m-4.4 0l4.4-4.4M160.8 361.2h6.6m-3.3-3.3v6.6m-2.2-5.5l4.4 4.4m-4.4 0l4.4-4.4M162.2 361.2h6.6m-3.3-3.3v6.6m-2.2-5.5l4.4 4.4m-4.4 0l4.4-4.4M164.5 361.2h6.6m-3.3-3.3v6.6m-2.2-5.5l4.4 4.4m-4.4 0l4.4-4.4M167 361.2h6.6m-3.3-3.3v6.6m-2.2-5.5l4.4 4.4m-4.4 0l4.4-4.4M168.8 361.2h6.6m-3.3-3.3v6.6m-2.2-5.5l4.4 4.4m-4.4 0l4.4-4.4M170.6 361.2h6.6m-3.3-3.3v6.6m-2.2-5.5l4.4 4.4m-4.4 0l4.4-4.4M171.9 361.2h6.6m-3.3-3.3v6.6m-2.2-5.5l4.4 4.4m-4.4 0l4.4-4.4M173.3 361.2h6.6m-3.3-3.3v6.6m-2.2-5.5l4.4 4.4m-4.4 0l4.4-4.4M174.9 361.2h6.6m-3.3-3.3v6.6m-2.2-5.5l4.4 4.4m-4.4 0l4.4-4.4M176.5 361.2h6.6m-3.3-3.3v6.6m-2.2-5.5l4.4 4.4m-4.4 0l4.4-4.4M178.7 361.2h6.6m-3.3-3.3v6.6m-2.2-5.5l4.4 4.4m-4.4 0l4.4-4.4M180.1 361.2h6.6m-3.3-3.3v6.6m-2.2-5.5l4.4 4.4m-4.4 0l4.4-4.4M181.4 361.2h6.6m-3.3-3.3v6.6m-2.2-5.5l4.4 4.4m-4.4 0l4.4-4.4M183.8 361.2h6.6m-3.3-3.3v6.6m-2.2-5.5l4.4 4.4m-4.4 0l4.4-4.4M185.7 361.2h6.6m-3.3-3.3v6.6m-2.2-5.5l4.4 4.4m-4.4 0l4.4-4.4M187.1 361.2h6.6m-3.3-3.3v6.6m-2.2-5.5l4.4 4.4m-4.4 0l4.4-4.4M189 361.2h6.6m-3.3-3.3v6.6m-2.2-5.5l4.4 4.4m-4.4 0l4.4-4.4M190.2 361.2h6.6m-3.3-3.3v6.6m-2.2-5.5l4.4 4.4m-4.4 0l4.4-4.4M192.1 361.2h6.6m-3.3-3.3v6.6m-2.2-5.5l4.4 4.4m-4.4 0l4.4-4.4M194.6 361.2h6.6m-3.3-3.3v6.6m-2.2-5.5l4.4 4.4m-4.4 0l4.4-4.4M196.9 361.2h6.6m-3.3-3.3v6.6m-2.2-5.5l4.4 4.4m-4.4 0l4.4-4.4M199 361.2h6.6m-3.3-3.3v6.6m-2.2-5.5l4.4 4.4m-4.4 0l4.4-4.4M200.6 361.2h6.6m-3.3-3.3v6.6m-2.2-5.5l4.4 4.4m-4.4 0l4.4-4.4M202.2 361.2h6.6m-3.3-3.3v6.6m-2.2-5.5l4.4 4.4m-4.4 0l4.4-4.4M203.6 361.2h6.6m-3.3-3.3v6.6m-2.2-5.5l4.4 4.4m-4.4 0l4.4-4.4M205.9 361.2h6.6m-3.3-3.3v6.6m-2.2-5.5l4.4 4.4m-4.4 0l4.4-4.4M207.7 361.2h6.6m-3.3-3.3v6.6m-2.2-5.5l4.4 4.4m-4.4 0l4.4-4.4M210 361.2h6.6m-3.3-3.3v6.6m-2.2-5.5l4.4 4.4m-4.4 0l4.4-4.4M211.6 361.2h6.6m-3.3-3.3v6.6m-2.2-5.5l4.4 4.4m-4.4 0l4.4-4.4M214.1 361.2h6.6m-3.3-3.3v6.6m-2.2-5.5l4.4 4.4m-4.4 0l4.4-4.4M218.2 361.2h6.6m-3.3-3.3v6.6m-2.2-5.5l4.4 4.4m-4.4 0l4.4-4.4M222.6 361.2h6.6m-3.3-3.3v6.6m-2.2-5.5l4.4 4.4m-4.4 0l4.4-4.4M226.8 361.2h6.6m-3.3-3.3v6.6m-2.2-5.5l4.4 4.4m-4.4 0l4.4-4.4M230.8 361.2h6.6m-3.3-3.3v6.6m-2.2-5.5l4.4 4.4m-4.4 0l4.4-4.4M234.8 361.2h6.6m-3.3-3.3v6.6m-2.2-5.5l4.4 4.4m-4.4 0l4.4-4.4M238.7 361.2h6.6m-3.3-3.3v6.6m-2.2-5.5l4.4 4.4m-4.4 0l4.4-4.4M241.2 361.2h6.6m-3.3-3.3v6.6m-2.2-5.5l4.4 4.4m-4.4 0l4.4-4.4M244.5 361.2h6.6m-3.3-3.3v6.6m-2.2-5.5l4.4 4.4m-4.4 0l4.4-4.4M247.4 361.2h6.6m-3.3-3.3v6.6m-2.2-5.5l4.4 4.4m-4.4 0l4.4-4.4M249.5 361.2h6.6m-3.3-3.3v6.6m-2.2-5.5l4.4 4.4m-4.4 0l4.4-4.4M251.6 361.2h6.6m-3.3-3.3v6.6m-2.2-5.5l4.4 4.4m-4.4 0l4.4-4.4M254.3 361.2h6.6m-3.3-3.3v6.6m-2.2-5.5l4.4 4.4m-4.4 0l4.4-4.4M256.9 361.2h6.6m-3.3-3.3v6.6m-2.2-5.5l4.4 4.4m-4.4 0l4.4-4.4M260.6 361.2h6.6m-3.3-3.3v6.6m-2.2-5.5l4.4 4.4m-4.4 0l4.4-4.4M265 361.2h6.6m-3.3-3.3v6.6m-2.2-5.5l4.4 4.4m-4.4 0l4.4-4.4M268.2 361.2h6.6m-3.3-3.3v6.6m-2.2-5.5l4.4 4.4m-4.4 0l4.4-4.4M272.5 361.2h6.6m-3.3-3.3v6.6m-2.2-5.5l4.4 4.4m-4.4 0l4.4-4.4M277 361.2h6.6m-3.3-3.3v6.6m-2.2-5.5l4.4 4.4m-4.4 0l4.4-4.4M281.4 361.2h6.6m-3.3-3.3v6.6m-2.2-5.5l4.4 4.4m-4.4 0l4.4-4.4M284.3 361.2h6.6m-3.3-3.3v6.6m-2.2-5.5l4.4 4.4m-4.4 0l4.4-4.4M285.3 361.2h6.6m-3.3-3.3v6.6m-2.2-5.5l4.4 4.4m-4.4 0l4.4-4.4M44.1 357.4h6.6m-3.3-3.3v6.6m-2.2-5.5l4.4 4.4m-4.4 0l4.4-4.4M46 357.3h6.6m-3.3-3.3v6.6m-2.2-5.5l4.4 4.4m-4.4 0l4.4-4.4M48.7 360.1h6.6m-3.3-3.3v6.6m-2.2-5.5l4.4 4.4m-4.4 0l4.4-4.4M51.9 358.4h6.6m-3.3-3.3v6.6m-2.2-5.5l4.4 4.4m-4.4 0l4.4-4.4M54.7 359.7h6.6m-3.3-3.3v6.6m-2.2-5.5l4.4 4.4m-4.4 0l4.4-4.4M56.4 359.1h6.6m-3.3-3.3v6.6m-2.2-5.5l4.4 4.4m-4.4 0l4.4-4.4M59.7 359.6h6.6m-3.3-3.3v6.6m-2.2-5.5l4.4 4.4m-4.4 0l4.4-4.4M62.7 358.4h6.6m-3.3-3.3v6.6m-2.2-5.5l4.4 4.4m-4.4 0l4.4-4.4M64.6 359.7h6.6m-3.3-3.3v6.6m-2.2-5.5l4.4 4.4m-4.4 0l4.4-4.4M66.7 359.7h6.6m-3.3-3.3v6.6m-2.2-5.5l4.4 4.4m-4.4 0l4.4-4.4M70.2 358.1h6.6m-3.3-3.3v6.6m-2.2-5.5l4.4 4.4m-4.4 0l4.4-4.4M72.5 360.3h6.6m-3.3-3.3v6.6m-2.2-5.5l4.4 4.4m-4.4 0l4.4-4.4M75.4 357.2h6.6m-3.3-3.3v6.6m-2.2-5.5l4.4 4.4m-4.4 0l4.4-4.4M77.2 357.1h6.6m-3.3-3.3v6.6m-2.2-5.5l4.4 4.4m-4.4 0l4.4-4.4M80.5 359.7h6.6m-3.3-3.3v6.6m-2.2-5.5l4.4 4.4m-4.4 0l4.4-4.4M82.3 359.8h6.6m-3.3-3.3v6.6m-2.2-5.5l4.4 4.4m-4.4 0l4.4-4.4M85.8 359.1h6.6m-3.3-3.3v6.6m-2.2-5.5l4.4 4.4m-4.4 0l4.4-4.4M88 358.7h6.6m-3.3-3.3v6.6m-2.2-5.5l4.4 4.4m-4.4 0l4.4-4.4M89.7 356.6h6.6m-3.3-3.3v6.6m-2.2-5.5l4.4 4.4m-4.4 0l4.4-4.4M93.2 359.1h6.6m-3.3-3.3v6.6m-2.2-5.5l4.4 4.4m-4.4 0l4.4-4.4M95.7 360.2h6.6m-3.3-3.3v6.6m-2.2-5.5l4.4 4.4m-4.4 0l4.4-4.4M98.1 360h6.6m-3.3-3.3v6.6m-2.2-5.5l4.4 4.4m-4.4 0l4.4-4.4M101.2 357.3h6.6m-3.3-3.3v6.6m-2.2-5.5l4.4 4.4m-4.4 0l4.4-4.4M103.2 357.7h6.6m-3.3-3.3v6.6m-2.2-5.5l4.4 4.4m-4.4 0l4.4-4.4M105.2 358.8h6.6m-3.3-3.3v6.6m-2.2-5.5l4.4 4.4m-4.4 0l4.4-4.4M107.2 358.2h6.6m-3.3-3.3v6.6m-2.2-5.5l4.4 4.4m-4.4 0l4.4-4.4M109 360.1h6.6m-3.3-3.3v6.6m-2.2-5.5l4.4 4.4m-4.4 0l4.4-4.4M111.2 358.3h6.6m-3.3-3.3v6.6m-2.2-5.5l4.4 4.4m-4.4 0l4.4-4.4M113.9 360.1h6.6m-3.3-3.3v6.6m-2.2-5.5l4.4 4.4m-4.4 0l4.4-4.4M116.2 360.2h6.6m-3.3-3.3v6.6m-2.2-5.5l4.4 4.4m-4.4 0l4.4-4.4M118.7 358.6h6.6m-3.3-3.3v6.6m-2.2-5.5l4.4 4.4m-4.4 0l4.4-4.4M121.3 356.6h6.6m-3.3-3.3v6.6m-2.2-5.5l4.4 4.4m-4.4 0l4.4-4.4M123.6 357.2h6.6m-3.3-3.3v6.6m-2.2-5.5l4.4 4.4m-4.4 0l4.4-4.4M125.1 359.7h6.6m-3.3-3.3v6.6m-2.2-5.5l4.4 4.4m-4.4 0l4.4-4.4M127 358.4h6.6m-3.3-3.3v6.6m-2.2-5.5l4.4 4.4m-4.4 0l4.4-4.4M129.9 358.7h6.6m-3.3-3.3v6.6m-2.2-5.5l4.4 4.4m-4.4 0l4.4-4.4M132.1 358.6h6.6m-3.3-3.3v6.6m-2.2-5.5l4.4 4.4m-4.4 0l4.4-4.4M134.7 359.6h6.6m-3.3-3.3v6.6m-2.2-5.5l4.4 4.4m-4.4 0l4.4-4.4M136.4 358.7h6.6m-3.3-3.3v6.6m-2.2-5.5l4.4 4.4m-4.4 0l4.4-4.4M138.4 357.6h6.6m-3.3-3.3v6.6m-2.2-5.5l4.4 4.4m-4.4 0l4.4-4.4M141.5 358.5h6.6m-3.3-3.3v6.6m-2.2-5.5l4.4 4.4m-4.4 0l4.4-4.4M144.1 359.5h6.6m-3.3-3.3v6.6m-2.2-5.5l4.4 4.4m-4.4 0l4.4-4.4M147.4 358.3h6.6m-3.3-3.3v6.6m-2.2-5.5l4.4 4.4m-4.4 0l4.4-4.4M150.1 358.5h6.6m-3.3-3.3v6.6m-2.2-5.5l4.4 4.4m-4.4 0l4.4-4.4M152.7 359.3h6.6m-3.3-3.3v6.6m-2.2-5.5l4.4 4.4m-4.4 0l4.4-4.4M155.1 358.6h6.6m-3.3-3.3v6.6m-2.2-5.5l4.4 4.4m-4.4 0l4.4-4.4M157.5 360.3h6.6m-3.3-3.3v6.6m-2.2-5.5l4.4 4.4m-4.4 0l4.4-4.4M160.4 360h6.6m-3.3-3.3v6.6m-2.2-5.5l4.4 4.4m-4.4 0l4.4-4.4M163.8 357.5h6.6m-3.3-3.3v6.6m-2.2-5.5l4.4 4.4m-4.4 0l4.4-4.4M166.4 360.3h6.6m-3.3-3.3v6.6m-2.2-5.5l4.4 4.4m-4.4 0l4.4-4.4M169.6 357h6.6m-3.3-3.3v6.6m-2.2-5.5l4.4 4.4m-4.4 0l4.4-4.4M171.3 358.3h6.6m-3.3-3.3v6.6m-2.2-5.5l4.4 4.4m-4.4 0l4.4-4.4M173 357.5h6.6m-3.3-3.3v6.6m-2.2-5.5l4.4 4.4m-4.4 0l4.4-4.4M174.6 359.2h6.6m-3.3-3.3v6.6m-2.2-5.5l4.4 4.4m-4.4 0l4.4-4.4M177.7 360.1h6.6m-3.3-3.3v6.6m-2.2-5.5l4.4 4.4m-4.4 0l4.4-4.4M179.5 359.4h6.6m-3.3-3.3v6.6m-2.2-5.5l4.4 4.4m-4.4 0l4.4-4.4M182.3 357.1h6.6m-3.3-3.3v6.6m-2.2-5.5l4.4 4.4m-4.4 0l4.4-4.4M185.6 360.4h6.6m-3.3-3.3v6.6m-2.2-5.5l4.4 4.4m-4.4 0l4.4-4.4M187.5 360.3h6.6m-3.3-3.3v6.6m-2.2-5.5l4.4 4.4m-4.4 0l4.4-4.4M189.8 358.4h6.6m-3.3-3.3v6.6m-2.2-5.5l4.4 4.4m-4.4 0l4.4-4.4M193.3 359.8h6.6m-3.3-3.3v6.6m-2.2-5.5l4.4 4.4m-4.4 0l4.4-4.4M195.1 358.2h6.6m-3.3-3.3v6.6m-2.2-5.5l4.4 4.4m-4.4 0l4.4-4.4M197.7 357.9h6.6m-3.3-3.3v6.6m-2.2-5.5l4.4 4.4m-4.4 0l4.4-4.4M199.6 357.8h6.6m-3.3-3.3v6.6m-2.2-5.5l4.4 4.4m-4.4 0l4.4-4.4M202.5 356.6h6.6m-3.3-3.3v6.6m-2.2-5.5l4.4 4.4m-4.4 0l4.4-4.4M205.1 358.3h6.6m-3.3-3.3v6.6m-2.2-5.5l4.4 4.4m-4.4 0l4.4-4.4M206.6 357.8h6.6m-3.3-3.3v6.6m-2.2-5.5l4.4 4.4m-4.4 0l4.4-4.4M209.4 358.5h6.6m-3.3-3.3v6.6m-2.2-5.5l4.4 4.4m-4.4 0l4.4-4.4M211 360.4h6.6m-3.3-3.3v6.6m-2.2-5.5l4.4 4.4m-4.4 0l4.4-4.4M214.1 360.4h6.6m-3.3-3.3v6.6m-2.2-5.5l4.4 4.4m-4.4 0l4.4-4.4M218.5 357.6h6.6m-3.3-3.3v6.6m-2.2-5.5l4.4 4.4m-4.4 0l4.4-4.4M222.7 359.6h6.6m-3.3-3.3v6.6m-2.2-5.5l4.4 4.4m-4.4 0l4.4-4.4M227.8 357h6.6m-3.3-3.3v6.6m-2.2-5.5l4.4 4.4m-4.4 0l4.4-4.4M167.8 206.4h6.6m-3.3-3.3v6.6m-2.2-5.5l4.4 4.4m-4.4 0l4.4-4.4M96.5 259h6.6m-3.3-3.3v6.6m-2.2-5.5l4.4 4.4m-4.4 0l4.4-4.4M98 311.7h6.6m-3.3-3.3v6.6m-2.2-5.5l4.4 4.4m-4.4 0l4.4-4.4M50 219h6.6m-3.3-3.3v6.6m-2.2-5.5l4.4 4.4m-4.4 0l4.4-4.4M69.8 253.2h6.6m-3.3-3.3v6.6m-2.2-5.5l4.4 4.4m-4.4 0l4.4-4.4M108.2 274.4h6.6m-3.3-3.3v6.6m-2.2-5.5l4.4 4.4m-4.4 0l4.4-4.4M183 303.7h6.6m-3.3-3.3v6.6m-2.2-5.5l4.4 4.4m-4.4 0l4.4-4.4M64.1 288.1h6.6m-3.3-3.3v6.6m-2.2-5.5l4.4 4.4m-4.4 0l4.4-4.4M53.4 273.6h6.6m-3.3-3.3v6.6m-2.2-5.5l4.4 4.4m-4.4 0l4.4-4.4M85.7 314.1h6.6m-3.3-3.3v6.6m-2.2-5.5l4.4 4.4m-4.4 0l4.4-4.4M169 233.1h6.6m-3.3-3.3v6.6m-2.2-5.5l4.4 4.4m-4.4 0l4.4-4.4M168.7 322.8h6.6m-3.3-3.3v6.6m-2.2-5.5l4.4 4.4m-4.4 0l4.4-4.4M141.7 270.9h6.6m-3.3-3.3v6.6m-2.2-5.5l4.4 4.4m-4.4 0l4.4-4.4M58.8 323.5h6.6m-3.3-3.3v6.6m-2.2-5.5l4.4 4.4m-4.4 0l4.4-4.4M164.8 329.2h6.6m-3.3-3.3v6.6m-2.2-5.5l4.4 4.4m-4.4 0l4.4-4.4M180.3 316.5h6.6m-3.3-3.3v6.6m-2.2-5.5l4.4 4.4m-4.4 0l4.4-4.4M143.4 294.1h6.6m-3.3-3.3v6.6m-2.2-5.5l4.4 4.4m-4.4 0l4.4-4.4M113.5 334.4h6.6m-3.3-3.3v6.6m-2.2-5.5l4.4 4.4m-4.4 0l4.4-4.4M117.7 284.5h6.6m-3.3-3.3v6.6m-2.2-5.5l4.4 4.4m-4.4 0l4.4-4.4M148 201.6h6.6m-3.3-3.3v6.6m-2.2-5.5l4.4 4.4m-4.4 0l4.4-4.4M162.4 287.7h6.6m-3.3-3.3v6.6m-2.2-5.5l4.4 4.4m-4.4 0l4.4-4.4M129.7 227.9h6.6m-3.3-3.3v6.6m-2.2-5.5l4.4 4.4m-4.4 0l4.4-4.4M118.3 222.6h6.6m-3.3-3.3v6.6m-2.2-5.5l4.4 4.4m-4.4 0l4.4-4.4M153.3 280.7h6.6m-3.3-3.3v6.6m-2.2-5.5l4.4 4.4m-4.4 0l4.4-4.4M176.1 250.7h6.6m-3.3-3.3v6.6m-2.2-5.5l4.4 4.4m-4.4 0l4.4-4.4M185.9 232.8h6.6m-3.3-3.3v6.6m-2.2-5.5l4.4 4.4m-4.4 0l4.4-4.4M157.5 255.7h6.6m-3.3-3.3v6.6m-2.2-5.5l4.4 4.4m-4.4 0l4.4-4.4M106.2 328.8h6.6m-3.3-3.3v6.6m-2.2-5.5l4.4 4.4m-4.4 0l4.4-4.4M106.3 251.9h6.6m-3.3-3.3v6.6m-2.2-5.5l4.4 4.4m-4.4 0l4.4-4.4M169.6 294.9h6.6m-3.3-3.3v6.6m-2.2-5.5l4.4 4.4m-4.4 0l4.4-4.4M136.7 233.3h6.6m-3.3-3.3v6.6m-2.2-5.5l4.4 4.4m-4.4 0l4.4-4.4M120.3 298.2h6.6m-3.3-3.3v6.6m-2.2-5.5l4.4 4.4m-4.4 0l4.4-4.4M86.5 297.2h6.6m-3.3-3.3v6.6m-2.2-5.5l4.4 4.4m-4.4 0l4.4-4.4M64.1 299.4h6.6m-3.3-3.3v6.6m-2.2-5.5l4.4 4.4m-4.4 0l4.4-4.4M161 319.1h6.6m-3.3-3.3v6.6m-2.2-5.5l4.4 4.4m-4.4 0l4.4-4.4M122.8 288.5h6.6m-3.3-3.3v6.6m-2.2-5.5l4.4 4.4m-4.4 0l4.4-4.4M94.6 341.4h6.6m-3.3-3.3v6.6m-2.2-5.5l4.4 4.4m-4.4 0l4.4-4.4M133.3 274.8h6.6m-3.3-3.3v6.6m-2.2-5.5l4.4 4.4m-4.4 0l4.4-4.4M199.3 327.3h6.6m-3.3-3.3v6.6m-2.2-5.5l4.4 4.4m-4.4 0l4.4-4.4M98.6 351h6.6m-3.3-3.3v6.6m-2.2-5.5l4.4 4.4m-4.4 0l4.4-4.4M81.2 246h6.6m-3.3-3.3v6.6m-2.2-5.5l4.4 4.4m-4.4 0l4.4-4.4M120.3 251.7h6.6m-3.3-3.3v6.6m-2.2-5.5l4.4 4.4m-4.4 0l4.4-4.4M146.2 341.7h6.6m-3.3-3.3v6.6m-2.2-5.5l4.4 4.4m-4.4 0l4.4-4.4M51 353.1h6.6m-3.3-3.3v6.6m-2.2-5.5l4.4 4.4m-4.4 0l4.4-4.4M158.6 334.8h6.6m-3.3-3.3v6.6m-2.2-5.5l4.4 4.4m-4.4 0l4.4-4.4M182.8 343.9h6.6m-3.3-3.3v6.6m-2.2-5.5l4.4 4.4m-4.4 0l4.4-4.4M119.9 227.4h6.6m-3.3-3.3v6.6m-2.2-5.5l4.4 4.4m-4.4 0l4.4-4.4M119.7 244.3h6.6m-3.3-3.3v6.6m-2.2-5.5l4.4 4.4m-4.4 0l4.4-4.4M159.9 232.3h6.6m-3.3-3.3v6.6m-2.2-5.5l4.4 4.4m-4.4 0l4.4-4.4M184.3 343.7h6.6m-3.3-3.3v6.6m-2.2-5.5l4.4 4.4m-4.4 0l4.4-4.4M70.6 267.8h6.6m-3.3-3.3v6.6m-2.2-5.5l4.4 4.4m-4.4 0l4.4-4.4M170.8 223.9h6.6m-3.3-3.3v6.6m-2.2-5.5l4.4 4.4m-4.4 0l4.4-4.4M188.4 332.2h6.6m-3.3-3.3v6.6m-2.2-5.5l4.4 4.4m-4.4 0l4.4-4.4M106.8 321.9h6.6m-3.3-3.3v6.6m-2.2-5.5l4.4 4.4m-4.4 0l4.4-4.4M143.9 345.6h6.6m-3.3-3.3v6.6m-2.2-5.5l4.4 4.4m-4.4 0l4.4-4.4M74.4 331.9h6.6m-3.3-3.3v6.6m-2.2-5.5l4.4 4.4m-4.4 0l4.4-4.4M125 279.2h6.6m-3.3-3.3v6.6m-2.2-5.5l4.4 4.4m-4.4 0l4.4-4.4M202.6 218h6.6m-3.3-3.3v6.6m-2.2-5.5l4.4 4.4m-4.4 0l4.4-4.4M108.7 349.8h6.6m-3.3-3.3v6.6m-2.2-5.5l4.4 4.4m-4.4 0l4.4-4.4M133.9 291h6.6m-3.3-3.3v6.6m-2.2-5.5l4.4 4.4m-4.4 0l4.4-4.4M160.5 355.1h6.6m-3.3-3.3v6.6m-2.2-5.5l4.4 4.4m-4.4 0l4.4-4.4M47.9 294.8h6.6m-3.3-3.3v6.6m-2.2-5.5l4.4 4.4m-4.4 0l4.4-4.4M102.1 271h6.6m-3.3-3.3v6.6m-2.2-5.5l4.4 4.4m-4.4 0l4.4-4.4M182.1 252.2h6.6m-3.3-3.3v6.6m-2.2-5.5l4.4 4.4m-4.4 0l4.4-4.4M90.8 330h6.6m-3.3-3.3v6.6m-2.2-5.5l4.4 4.4m-4.4 0l4.4-4.4M166.2 221.6h6.6m-3.3-3.3v6.6m-2.2-5.5l4.4 4.4m-4.4 0l4.4-4.4M117.3 245.3h6.6m-3.3-3.3v6.6m-2.2-5.5l4.4 4.4m-4.4 0l4.4-4.4M172.2 213.8h6.6m-3.3-3.3v6.6m-2.2-5.5l4.4 4.4m-4.4 0l4.4-4.4M72 233.9h6.6m-3.3-3.3v6.6m-2.2-5.5l4.4 4.4m-4.4 0l4.4-4.4M86.2 293.7h6.6m-3.3-3.3v6.6m-2.2-5.5l4.4 4.4m-4.4 0l4.4-4.4M135.6 244.7h6.6m-3.3-3.3v6.6m-2.2-5.5l4.4 4.4m-4.4 0l4.4-4.4M162.5 319.1h6.6m-3.3-3.3v6.6m-2.2-5.5l4.4 4.4m-4.4 0l4.4-4.4M172.8 300.4h6.6m-3.3-3.3v6.6m-2.2-5.5l4.4 4.4m-4.4 0l4.4-4.4M50.9 331.5h6.6m-3.3-3.3v6.6m-2.2-5.5l4.4 4.4m-4.4 0l4.4-4.4M148.2 308.5h6.6m-3.3-3.3v6.6m-2.2-5.5l4.4 4.4m-4.4 0l4.4-4.4M148.6 230.1h6.6m-3.3-3.3v6.6m-2.2-5.5l4.4 4.4m-4.4 0l4.4-4.4M55.4 285.1h6.6m-3.3-3.3v6.6m-2.2-5.5l4.4 4.4m-4.4 0l4.4-4.4M126.7 228.4h6.6m-3.3-3.3v6.6m-2.2-5.5l4.4 4.4m-4.4 0l4.4-4.4M177.8 203.4h6.6m-3.3-3.3v6.6m-2.2-5.5l4.4 4.4m-4.4 0l4.4-4.4M134.9 297.4h6.6m-3.3-3.3v6.6m-2.2-5.5l4.4 4.4m-4.4 0l4.4-4.4M105.8 250.1h6.6m-3.3-3.3v6.6m-2.2-5.5l4.4 4.4m-4.4 0l4.4-4.4M189.2 355.5h6.6m-3.3-3.3v6.6m-2.2-5.5l4.4 4.4m-4.4 0l4.4-4.4M153.7 255.5h6.6m-3.3-3.3v6.6m-2.2-5.5l4.4 4.4m-4.4 0l4.4-4.4M119.2 283.4h6.6m-3.3-3.3v6.6m-2.2-5.5l4.4 4.4m-4.4 0l4.4-4.4M57.1 311.9h6.6m-3.3-3.3v6.6m-2.2-5.5l4.4 4.4m-4.4 0l4.4-4.4M67.4 359.1h6.6m-3.3-3.3v6.6m-2.2-5.5l4.4 4.4m-4.4 0l4.4-4.4M122.6 328.5h6.6m-3.3-3.3v6.6m-2.2-5.5l4.4 4.4m-4.4 0l4.4-4.4M157.5 308.5h6.6m-3.3-3.3v6.6m-2.2-5.5l4.4 4.4m-4.4 0l4.4-4.4M77.5 334.4h6.6m-3.3-3.3v6.6m-2.2-5.5l4.4 4.4m-4.4 0l4.4-4.4M118.7 236.7h6.6m-3.3-3.3v6.6m-2.2-5.5l4.4 4.4m-4.4 0l4.4-4.4M125 276h6.6m-3.3-3.3v6.6m-2.2-5.5l4.4 4.4m-4.4 0l4.4-4.4M104.6 340h6.6m-3.3-3.3v6.6m-2.2-5.5l4.4 4.4m-4.4 0l4.4-4.4M167.7 285.5h6.6m-3.3-3.3v6.6m-2.2-5.5l4.4 4.4m-4.4 0l4.4-4.4M54 288.1h6.6m-3.3-3.3v6.6m-2.2-5.5l4.4 4.4m-4.4 0l4.4-4.4M153.4 345.9h6.6m-3.3-3.3v6.6m-2.2-5.5l4.4 4.4m-4.4 0l4.4-4.4M97.6 250.3h6.6m-3.3-3.3v6.6m-2.2-5.5l4.4 4.4m-4.4 0l4.4-4.4M176.2 322.1h6.6m-3.3-3.3v6.6m-2.2-5.5l4.4 4.4m-4.4 0l4.4-4.4M115.2 300.7h6.6m-3.3-3.3v6.6m-2.2-5.5l4.4 4.4m-4.4 0l4.4-4.4M123.1 268.2h6.6m-3.3-3.3v6.6m-2.2-5.5l4.4 4.4m-4.4 0l4.4-4.4M144.6 338.8h6.6m-3.3-3.3v6.6m-2.2-5.5l4.4 4.4m-4.4 0l4.4-4.4M163.3 237.3h6.6m-3.3-3.3v6.6m-2.2-5.5l4.4 4.4m-4.4 0l4.4-4.4M200.7 312.1h6.6m-3.3-3.3v6.6m-2.2-5.5l4.4 4.4m-4.4 0l4.4-4.4M86.7 250.4h6.6m-3.3-3.3v6.6m-2.2-5.5l4.4 4.4m-4.4 0l4.4-4.4M67.6 323.2h6.6m-3.3-3.3v6.6m-2.2-5.5l4.4 4.4m-4.4 0l4.4-4.4M43.8 204h6.6m-3.3-3.3v6.6m-2.2-5.5l4.4 4.4m-4.4 0l4.4-4.4M156.5 334.2h6.6m-3.3-3.3v6.6m-2.2-5.5l4.4 4.4m-4.4 0l4.4-4.4M88.5 353.3h6.6m-3.3-3.3v6.6m-2.2-5.5l4.4 4.4m-4.4 0l4.4-4.4M104 355.1h6.6m-3.3-3.3v6.6m-2.2-5.5l4.4 4.4m-4.4 0l4.4-4.4M174.3 232.9h6.6m-3.3-3.3v6.6m-2.2-5.5l4.4 4.4m-4.4 0l4.4-4.4M194.5 303.3h6.6m-3.3-3.3v6.6m-2.2-5.5l4.4 4.4m-4.4 0l4.4-4.4M143 313.3h6.6m-3.3-3.3v6.6m-2.2-5.5l4.4 4.4m-4.4 0l4.4-4.4M180.9 254.6h6.6m-3.3-3.3v6.6m-2.2-5.5l4.4 4.4m-4.4 0l4.4-4.4M145.7 299h6.6m-3.3-3.3v6.6m-2.2-5.5l4.4 4.4m-4.4 0l4.4-4.4M65.8 250.7h6.6m-3.3-3.3v6.6m-2.2-5.5l4.4 4.4m-4.4 0l4.4-4.4M185.9 338.6h6.6m-3.3-3.3v6.6m-2.2-5.5l4.4 4.4m-4.4 0l4.4-4.4M123.2 266h6.6m-3.3-3.3v6.6m-2.2-5.5l4.4 4.4m-4.4 0l4.4-4.4M122.7 315.9h6.6m-3.3-3.3v6.6m-2.2-5.5l4.4 4.4m-4.4 0l4.4-4.4M93.2 232.5h6.6m-3.3-3.3v6.6m-2.2-5.5l4.4 4.4m-4.4 0l4.4-4.4M134.2 291.2h6.6m-3.3-3.3v6.6m-2.2-5.5l4.4 4.4m-4.4 0l4.4-4.4M47.9 298.1h6.6m-3.3-3.3v6.6m-2.2-5.5l4.4 4.4m-4.4 0l4.4-4.4M107.6 320h6.6m-3.3-3.3v6.6m-2.2-5.5l4.4 4.4m-4.4 0l4.4-4.4M131 251h6.6m-3.3-3.3v6.6m-2.2-5.5l4.4 4.4m-4.4 0l4.4-4.4M87 302.9h6.6m-3.3-3.3v6.6m-2.2-5.5l4.4 4.4m-4.4 0l4.4-4.4M203.5 275.4h6.6m-3.3-3.3v6.6m-2.2-5.5l4.4 4.4m-4.4 0l4.4-4.4M113.7 263.8h6.6m-3.3-3.3v6.6m-2.2-5.5l4.4 4.4m-4.4 0l4.4-4.4M157.9 269.9h6.6m-3.3-3.3v6.6m-2.2-5.5l4.4 4.4m-4.4 0l4.4-4.4M67.5 338.7h6.6m-3.3-3.3v6.6m-2.2-5.5l4.4 4.4m-4.4 0l4.4-4.4M84.2 255.7h6.6m-3.3-3.3v6.6m-2.2-5.5l4.4 4.4m-4.4 0l4.4-4.4M66.9 328.4h6.6m-3.3-3.3v6.6m-2.2-5.5l4.4 4.4m-4.4 0l4.4-4.4M120 213.5h6.6m-3.3-3.3v6.6m-2.2-5.5l4.4 4.4m-4.4 0l4.4-4.4M194.1 291.3h6.6m-3.3-3.3v6.6m-2.2-5.5l4.4 4.4m-4.4 0l4.4-4.4M51.7 241.6h6.6m-3.3-3.3v6.6m-2.2-5.5l4.4 4.4m-4.4 0l4.4-4.4M81.2 330h6.6m-3.3-3.3v6.6m-2.2-5.5l4.4 4.4m-4.4 0l4.4-4.4M177.3 254.3h6.6m-3.3-3.3v6.6m-2.2-5.5l4.4 4.4m-4.4 0l4.4-4.4M106.3 228.2h6.6m-3.3-3.3v6.6m-2.2-5.5l4.4 4.4m-4.4 0l4.4-4.4M152.9 244h6.6m-3.3-3.3v6.6m-2.2-5.5l4.4 4.4m-4.4 0l4.4-4.4M53.9 243.3h6.6m-3.3-3.3v6.6m-2.2-5.5l4.4 4.4m-4.4 0l4.4-4.4M160.9 345.7h6.6m-3.3-3.3v6.6m-2.2-5.5l4.4 4.4m-4.4 0l4.4-4.4M181.6 290.1h6.6m-3.3-3.3v6.6m-2.2-5.5l4.4 4.4m-4.4 0l4.4-4.4M83 282.8h6.6m-3.3-3.3v6.6m-2.2-5.5l4.4 4.4m-4.4 0l4.4-4.4M161.9 238.7h6.6m-3.3-3.3v6.6m-2.2-5.5l4.4 4.4m-4.4 0l4.4-4.4M47 354.2h6.6m-3.3-3.3v6.6m-2.2-5.5l4.4 4.4m-4.4 0l4.4-4.4M141.5 277h6.6m-3.3-3.3v6.6m-2.2-5.5l4.4 4.4m-4.4 0l4.4-4.4M97.6 322.6h6.6m-3.3-3.3v6.6m-2.2-5.5l4.4 4.4m-4.4 0l4.4-4.4M124.3 301.3h6.6m-3.3-3.3v6.6m-2.2-5.5l4.4 4.4m-4.4 0l4.4-4.4M73.5 309.8h6.6m-3.3-3.3v6.6m-2.2-5.5l4.4 4.4m-4.4 0l4.4-4.4M86.3 241.8h6.6m-3.3-3.3v6.6m-2.2-5.5l4.4 4.4m-4.4 0l4.4-4.4M57.9 270.9h6.6m-3.3-3.3v6.6m-2.2-5.5l4.4 4.4m-4.4 0l4.4-4.4M46 315.2h6.6m-3.3-3.3v6.6m-2.2-5.5l4.4 4.4m-4.4 0l4.4-4.4M51.2 359.5h6.6m-3.3-3.3v6.6m-2.2-5.5l4.4 4.4m-4.4 0l4.4-4.4M111.5 273.9h6.6m-3.3-3.3v6.6m-2.2-5.5l4.4 4.4m-4.4 0l4.4-4.4M137.4 218.4h6.6m-3.3-3.3v6.6m-2.2-5.5l4.4 4.4m-4.4 0l4.4-4.4M98.1 322.9h6.6m-3.3-3.3v6.6m-2.2-5.5l4.4 4.4m-4.4 0l4.4-4.4M45.2 359.8h6.6m-3.3-3.3v6.6m-2.2-5.5l4.4 4.4m-4.4 0l4.4-4.4M47 325h6.6m-3.3-3.3v6.6m-2.2-5.5l4.4 4.4m-4.4 0l4.4-4.4M98.8 353.3h6.6m-3.3-3.3v6.6m-2.2-5.5l4.4 4.4m-4.4 0l4.4-4.4M80.2 270.9h6.6m-3.3-3.3v6.6m-2.2-5.5l4.4 4.4m-4.4 0l4.4-4.4M83.7 269.8h6.6m-3.3-3.3v6.6m-2.2-5.5l4.4 4.4m-4.4 0l4.4-4.4M112.1 350.1h6.6m-3.3-3.3v6.6m-2.2-5.5l4.4 4.4m-4.4 0l4.4-4.4M114.9 342.9h6.6m-3.3-3.3v6.6m-2.2-5.5l4.4 4.4m-4.4 0l4.4-4.4M83 324.7h6.6m-3.3-3.3v6.6m-2.2-5.5l4.4 4.4m-4.4 0l4.4-4.4M78.2 313.6h6.6m-3.3-3.3v6.6m-2.2-5.5l4.4 4.4m-4.4 0l4.4-4.4M110.1 268.1h6.6m-3.3-3.3v6.6m-2.2-5.5l4.4 4.4m-4.4 0l4.4-4.4M155.9 264.7h6.6m-3.3-3.3v6.6m-2.2-5.5l4.4 4.4m-4.4 0l4.4-4.4M44.1 301h6.6m-3.3-3.3v6.6m-2.2-5.5l4.4 4.4m-4.4 0l4.4-4.4M51.8 339.2h6.6m-3.3-3.3v6.6m-2.2-5.5l4.4 4.4m-4.4 0l4.4-4.4M140.5 302.9h6.6m-3.3-3.3v6.6m-2.2-5.5l4.4 4.4m-4.4 0l4.4-4.4M47.8 249h6.6m-3.3-3.3v6.6m-2.2-5.5l4.4 4.4m-4.4 0l4.4-4.4M120.1 291.9h6.6m-3.3-3.3v6.6m-2.2-5.5l4.4 4.4m-4.4 0l4.4-4.4M77.7 303.7h6.6m-3.3-3.3v6.6m-2.2-5.5l4.4 4.4m-4.4 0l4.4-4.4M140.4 225.2h6.6m-3.3-3.3v6.6m-2.2-5.5l4.4 4.4m-4.4 0l4.4-4.4M167.9 309.6h6.6m-3.3-3.3v6.6m-2.2-5.5l4.4 4.4m-4.4 0l4.4-4.4M150.1 274.9h6.6m-3.3-3.3v6.6m-2.2-5.5l4.4 4.4m-4.4 0l4.4-4.4M195.7 291.1h6.6m-3.3-3.3v6.6m-2.2-5.5l4.4 4.4m-4.4 0l4.4-4.4M47.9 309.2h6.6m-3.3-3.3v6.6m-2.2-5.5l4.4 4.4m-4.4 0l4.4-4.4M199.5 294.6h6.6m-3.3-3.3v6.6m-2.2-5.5l4.4 4.4m-4.4 0l4.4-4.4M75 301.5h6.6m-3.3-3.3v6.6m-2.2-5.5l4.4 4.4m-4.4 0l4.4-4.4M50.1 300.1h6.6m-3.3-3.3v6.6m-2.2-5.5l4.4 4.4m-4.4 0l4.4-4.4M181.1 272.7h6.6m-3.3-3.3v6.6m-2.2-5.5l4.4 4.4m-4.4 0l4.4-4.4M146.5 266.2h6.6m-3.3-3.3v6.6m-2.2-5.5l4.4 4.4m-4.4 0l4.4-4.4M64.8 245.9h6.6m-3.3-3.3v6.6m-2.2-5.5l4.4 4.4m-4.4 0l4.4-4.4M96.7 329.4h6.6m-3.3-3.3v6.6m-2.2-5.5l4.4 4.4m-4.4 0l4.4-4.4M113.5 225.8h6.6m-3.3-3.3v6.6m-2.2-5.5l4.4 4.4m-4.4 0l4.4-4.4M70.1 309.6h6.6m-3.3-3.3v6.6m-2.2-5.5l4.4 4.4m-4.4 0l4.4-4.4M92 322.8h6.6m-3.3-3.3v6.6m-2.2-5.5l4.4 4.4m-4.4 0l4.4-4.4M114.1 340.4h6.6m-3.3-3.3v6.6m-2.2-5.5l4.4 4.4m-4.4 0l4.4-4.4M47.5 302.2h6.6m-3.3-3.3v6.6m-2.2-5.5l4.4 4.4m-4.4 0l4.4-4.4M113.4 359.2h6.6m-3.3-3.3v6.6m-2.2-5.5l4.4 4.4m-4.4 0l4.4-4.4M174.9 247h6.6m-3.3-3.3v6.6m-2.2-5.5l4.4 4.4m-4.4 0l4.4-4.4M170.2 234.1h6.6m-3.3-3.3v6.6m-2.2-5.5l4.4 4.4m-4.4 0l4.4-4.4M118 357.6h6.6m-3.3-3.3v6.6m-2.2-5.5l4.4 4.4m-4.4 0l4.4-4.4M125.5 321h6.6m-3.3-3.3v6.6m-2.2-5.5l4.4 4.4m-4.4 0l4.4-4.4M148.4 355.5h6.6m-3.3-3.3v6.6m-2.2-5.5l4.4 4.4m-4.4 0l4.4-4.4M152.1 339.1h6.6m-3.3-3.3v6.6m-2.2-5.5l4.4 4.4m-4.4 0l4.4-4.4M164.8 292.3h6.6m-3.3-3.3v6.6m-2.2-5.5l4.4 4.4m-4.4 0l4.4-4.4M167.4 319h6.6m-3.3-3.3v6.6m-2.2-5.5l4.4 4.4m-4.4 0l4.4-4.4M64.5 288.3h6.6m-3.3-3.3v6.6m-2.2-5.5l4.4 4.4m-4.4 0l4.4-4.4M44.2 256h6.6m-3.3-3.3v6.6m-2.2-5.5l4.4 4.4m-4.4 0l4.4-4.4M140.2 288.8h6.6m-3.3-3.3v6.6m-2.2-5.5l4.4 4.4m-4.4 0l4.4-4.4M63.7 248.3h6.6m-3.3-3.3v6.6m-2.2-5.5l4.4 4.4m-4.4 0l4.4-4.4M45.6 280.8h6.6m-3.3-3.3v6.6m-2.2-5.5l4.4 4.4m-4.4 0l4.4-4.4M163.3 230.2h6.6m-3.3-3.3v6.6m-2.2-5.5l4.4 4.4m-4.4 0l4.4-4.4M90.6 308.2h6.6m-3.3-3.3v6.6m-2.2-5.5l4.4 4.4m-4.4 0l4.4-4.4M54.4 344.5h6.6m-3.3-3.3v6.6m-2.2-5.5l4.4 4.4m-4.4 0l4.4-4.4M135.3 210h6.6m-3.3-3.3v6.6m-2.2-5.5l4.4 4.4m-4.4 0l4.4-4.4M172.8 215.6h6.6m-3.3-3.3v6.6m-2.2-5.5l4.4 4.4m-4.4 0l4.4-4.4M148.7 210.2h6.6m-3.3-3.3v6.6m-2.2-5.5l4.4 4.4m-4.4 0l4.4-4.4M69.6 337.2h6.6m-3.3-3.3v6.6m-2.2-5.5l4.4 4.4m-4.4 0l4.4-4.4M56.9 351.4h6.6m-3.3-3.3v6.6m-2.2-5.5l4.4 4.4m-4.4 0l4.4-4.4M97.7 317.4h6.6m-3.3-3.3v6.6m-2.2-5.5l4.4 4.4m-4.4 0l4.4-4.4M190.5 220h6.6m-3.3-3.3v6.6m-2.2-5.5l4.4 4.4m-4.4 0l4.4-4.4M111.6 303.6h6.6m-3.3-3.3v6.6m-2.2-5.5l4.4 4.4m-4.4 0l4.4-4.4M50.1 234.6h6.6m-3.3-3.3v6.6m-2.2-5.5l4.4 4.4m-4.4 0l4.4-4.4M96.2 266.4h6.6m-3.3-3.3v6.6m-2.2-5.5l4.4 4.4m-4.4 0l4.4-4.4M141.1 294.7h6.6m-3.3-3.3v6.6m-2.2-5.5l4.4 4.4m-4.4 0l4.4-4.4M133.6 286.8h6.6m-3.3-3.3v6.6m-2.2-5.5l4.4 4.4m-4.4 0l4.4-4.4M127 271.8h6.6m-3.3-3.3v6.6m-2.2-5.5l4.4 4.4m-4.4 0l4.4-4.4M95.5 348.4h6.6m-3.3-3.3v6.6m-2.2-5.5l4.4 4.4m-4.4 0l4.4-4.4M46.7 236.2h6.6m-3.3-3.3v6.6m-2.2-5.5l4.4 4.4m-4.4 0l4.4-4.4M131 248.5h6.6m-3.3-3.3v6.6m-2.2-5.5l4.4 4.4m-4.4 0l4.4-4.4M55.2 347.2h6.6m-3.3-3.3v6.6m-2.2-5.5l4.4 4.4m-4.4 0l4.4-4.4M78.6 287.1h6.6m-3.3-3.3v6.6m-2.2-5.5l4.4 4.4m-4.4 0l4.4-4.4M113.9 221h6.6m-3.3-3.3v6.6m-2.2-5.5l4.4 4.4m-4.4 0l4.4-4.4M176.7 266.2h6.6m-3.3-3.3v6.6m-2.2-5.5l4.4 4.4m-4.4 0l4.4-4.4M67.8 344h6.6m-3.3-3.3v6.6m-2.2-5.5l4.4 4.4m-4.4 0l4.4-4.4M85.7 287.2h6.6m-3.3-3.3v6.6m-2.2-5.5l4.4 4.4m-4.4 0l4.4-4.4M155.3 341.1h6.6m-3.3-3.3v6.6m-2.2-5.5l4.4 4.4m-4.4 0l4.4-4.4M90.8 355.5h6.6m-3.3-3.3v6.6m-2.2-5.5l4.4 4.4m-4.4 0l4.4-4.4M50.1 249.7h6.6m-3.3-3.3v6.6m-2.2-5.5l4.4 4.4m-4.4 0l4.4-4.4M147.7 213.6h6.6m-3.3-3.3v6.6m-2.2-5.5l4.4 4.4m-4.4 0l4.4-4.4M159.6 266.8h6.6m-3.3-3.3v6.6m-2.2-5.5l4.4 4.4m-4.4 0l4.4-4.4M115.4 351h6.6m-3.3-3.3v6.6m-2.2-5.5l4.4 4.4m-4.4 0l4.4-4.4M119 235.1h6.6m-3.3-3.3v6.6m-2.2-5.5l4.4 4.4m-4.4 0l4.4-4.4M55.3 360.1h6.6m-3.3-3.3v6.6m-2.2-5.5l4.4 4.4m-4.4 0l4.4-4.4M85.1 323h6.6m-3.3-3.3v6.6m-2.2-5.5l4.4 4.4m-4.4 0l4.4-4.4M171.8 302.7h6.6m-3.3-3.3v6.6m-2.2-5.5l4.4 4.4m-4.4 0l4.4-4.4M46.7 241.5h6.6m-3.3-3.3v6.6m-2.2-5.5l4.4 4.4m-4.4 0l4.4-4.4M170.9 341.1h6.6m-3.3-3.3v6.6m-2.2-5.5l4.4 4.4m-4.4 0l4.4-4.4M61.1 255.5h6.6m-3.3-3.3v6.6m-2.2-5.5l4.4 4.4m-4.4 0l4.4-4.4M83.7 343.6h6.6m-3.3-3.3v6.6m-2.2-5.5l4.4 4.4m-4.4 0l4.4-4.4M117.1 278.5h6.6m-3.3-3.3v6.6m-2.2-5.5l4.4 4.4m-4.4 0l4.4-4.4M130.1 217.8h6.6m-3.3-3.3v6.6m-2.2-5.5l4.4 4.4m-4.4 0l4.4-4.4M114.6 336.1h6.6m-3.3-3.3v6.6m-2.2-5.5l4.4 4.4m-4.4 0l4.4-4.4M106.3 303.4h6.6m-3.3-3.3v6.6m-2.2-5.5l4.4 4.4m-4.4 0l4.4-4.4M123.1 328.5h6.6m-3.3-3.3v6.6m-2.2-5.5l4.4 4.4m-4.4 0l4.4-4.4M129.7 254.8h6.6m-3.3-3.3v6.6m-2.2-5.5l4.4 4.4m-4.4 0l4.4-4.4M128.4 346.3h6.6m-3.3-3.3v6.6m-2.2-5.5l4.4 4.4m-4.4 0l4.4-4.4M119.4 344.1h6.6m-3.3-3.3v6.6m-2.2-5.5l4.4 4.4m-4.4 0l4.4-4.4M87.6 336.9h6.6m-3.3-3.3v6.6m-2.2-5.5l4.4 4.4m-4.4 0l4.4-4.4M115.1 301.3h6.6m-3.3-3.3v6.6m-2.2-5.5l4.4 4.4m-4.4 0l4.4-4.4M109.9 262.6h6.6m-3.3-3.3v6.6m-2.2-5.5l4.4 4.4m-4.4 0l4.4-4.4M50.7 291.3h6.6m-3.3-3.3v6.6m-2.2-5.5l4.4 4.4m-4.4 0l4.4-4.4M110.6 287.3h6.6m-3.3-3.3v6.6m-2.2-5.5l4.4 4.4m-4.4 0l4.4-4.4M71.1 241.7h6.6m-3.3-3.3v6.6m-2.2-5.5l4.4 4.4m-4.4 0l4.4-4.4M145.7 280.5h6.6m-3.3-3.3v6.6m-2.2-5.5l4.4 4.4m-4.4 0l4.4-4.4M62.5 248.6h6.6m-3.3-3.3v6.6m-2.2-5.5l4.4 4.4m-4.4 0l4.4-4.4M164.8 283.1h6.6m-3.3-3.3v6.6m-2.2-5.5l4.4 4.4m-4.4 0l4.4-4.4M54 280.5h6.6m-3.3-3.3v6.6m-2.2-5.5l4.4 4.4m-4.4 0l4.4-4.4M158.5 222.3h6.6m-3.3-3.3v6.6m-2.2-5.5l4.4 4.4m-4.4 0l4.4-4.4M46.6 334.4h6.6m-3.3-3.3v6.6m-2.2-5.5l4.4 4.4m-4.4 0l4.4-4.4M173.9 203.6h6.6m-3.3-3.3v6.6m-2.2-5.5l4.4 4.4m-4.4 0l4.4-4.4M124.2 228.6h6.6m-3.3-3.3v6.6m-2.2-5.5l4.4 4.4m-4.4 0l4.4-4.4M171.4 247h6.6m-3.3-3.3v6.6m-2.2-5.5l4.4 4.4m-4.4 0l4.4-4.4M159.9 221.3h6.6m-3.3-3.3v6.6m-2.2-5.5l4.4 4.4m-4.4 0l4.4-4.4M154 306.2h6.6m-3.3-3.3v6.6m-2.2-5.5l4.4 4.4m-4.4 0l4.4-4.4M67.2 268h6.6m-3.3-3.3v6.6m-2.2-5.5l4.4 4.4m-4.4 0l4.4-4.4M110.8 339.3h6.6m-3.3-3.3v6.6m-2.2-5.5l4.4 4.4m-4.4 0l4.4-4.4M155.4 221h6.6m-3.3-3.3v6.6m-2.2-5.5l4.4 4.4m-4.4 0l4.4-4.4M116.6 328.5h6.6m-3.3-3.3v6.6m-2.2-5.5l4.4 4.4m-4.4 0l4.4-4.4M73.7 235.9h6.6m-3.3-3.3v6.6m-2.2-5.5l4.4 4.4m-4.4 0l4.4-4.4M113.4 316.9h6.6m-3.3-3.3v6.6m-2.2-5.5l4.4 4.4m-4.4 0l4.4-4.4M179.5 202.6h6.6m-3.3-3.3v6.6m-2.2-5.5l4.4 4.4m-4.4 0l4.4-4.4M103.1 333.3h6.6m-3.3-3.3v6.6m-2.2-5.5l4.4 4.4m-4.4 0l4.4-4.4M84.8 307.4h6.6m-3.3-3.3v6.6m-2.2-5.5l4.4 4.4m-4.4 0l4.4-4.4M58.6 260.9h6.6m-3.3-3.3v6.6m-2.2-5.5l4.4 4.4m-4.4 0l4.4-4.4M47.7 264.9h6.6m-3.3-3.3v6.6m-2.2-5.5l4.4 4.4m-4.4 0l4.4-4.4M132.6 311.3h6.6m-3.3-3.3v6.6m-2.2-5.5l4.4 4.4m-4.4 0l4.4-4.4M56.7 335.3h6.6m-3.3-3.3v6.6m-2.2-5.5l4.4 4.4m-4.4 0l4.4-4.4M117.5 309.8h6.6m-3.3-3.3v6.6m-2.2-5.5l4.4 4.4m-4.4 0l4.4-4.4M123.1 342.3h6.6m-3.3-3.3v6.6m-2.2-5.5l4.4 4.4m-4.4 0l4.4-4.4M149.5 266.2h6.6m-3.3-3.3v6.6m-2.2-5.5l4.4 4.4m-4.4 0l4.4-4.4M108.3 307.9h6.6m-3.3-3.3v6.6m-2.2-5.5l4.4 4.4m-4.4 0l4.4-4.4M159.5 202.3h6.6m-3.3-3.3v6.6m-2.2-5.5l4.4 4.4m-4.4 0l4.4-4.4M170.1 338h6.6m-3.3-3.3v6.6m-2.2-5.5l4.4 4.4m-4.4 0l4.4-4.4M126.7 218h6.6m-3.3-3.3v6.6m-2.2-5.5l4.4 4.4m-4.4 0l4.4-4.4M120.9 300.7h6.6m-3.3-3.3v6.6m-2.2-5.5l4.4 4.4m-4.4 0l4.4-4.4M145.3 264.3h6.6m-3.3-3.3v6.6m-2.2-5.5l4.4 4.4m-4.4 0l4.4-4.4M46.3 330.5h6.6m-3.3-3.3v6.6m-2.2-5.5l4.4 4.4m-4.4 0l4.4-4.4M85.3 267.6h6.6m-3.3-3.3v6.6m-2.2-5.5l4.4 4.4m-4.4 0l4.4-4.4M165.2 282.5h6.6m-3.3-3.3v6.6m-2.2-5.5l4.4 4.4m-4.4 0l4.4-4.4M151 235.3h6.6m-3.3-3.3v6.6m-2.2-5.5l4.4 4.4m-4.4 0l4.4-4.4M120.1 262.1h6.6m-3.3-3.3v6.6m-2.2-5.5l4.4 4.4m-4.4 0l4.4-4.4M62.6 335.6h6.6m-3.3-3.3v6.6m-2.2-5.5l4.4 4.4m-4.4 0l4.4-4.4M58.7 347.3h6.6m-3.3-3.3v6.6m-2.2-5.5l4.4 4.4m-4.4 0l4.4-4.4M173.9 333.6h6.6m-3.3-3.3v6.6m-2.2-5.5l4.4 4.4m-4.4 0l4.4-4.4M92.8 355.3h6.6m-3.3-3.3v6.6m-2.2-5.5l4.4 4.4m-4.4 0l4.4-4.4M100.4 347.5h6.6m-3.3-3.3v6.6m-2.2-5.5l4.4 4.4m-4.4 0l4.4-4.4M100.5 347.4h6.6m-3.3-3.3v6.6m-2.2-5.5l4.4 4.4m-4.4 0l4.4-4.4M128 333.6h6.6m-3.3-3.3v6.6m-2.2-5.5l4.4 4.4m-4.4 0l4.4-4.4M72.6 263.4h6.6m-3.3-3.3v6.6m-2.2-5.5l4.4 4.4m-4.4 0l4.4-4.4M46.2 305.2h6.6m-3.3-3.3v6.6m-2.2-5.5l4.4 4.4m-4.4 0l4.4-4.4M133.9 339.6h6.6m-3.3-3.3v6.6m-2.2-5.5l4.4 4.4m-4.4 0l4.4-4.4M102.6 314.3h6.6m-3.3-3.3v6.6m-2.2-5.5l4.4 4.4m-4.4 0l4.4-4.4M104.1 266.4h6.6m-3.3-3.3v6.6m-2.2-5.5l4.4 4.4m-4.4 0l4.4-4.4M70.9 310.5h6.6m-3.3-3.3v6.6m-2.2-5.5l4.4 4.4m-4.4 0l4.4-4.4M108.9 322h6.6m-3.3-3.3v6.6m-2.2-5.5l4.4 4.4m-4.4 0l4.4-4.4M139.1 338.2h6.6m-3.3-3.3v6.6m-2.2-5.5l4.4 4.4m-4.4 0l4.4-4.4M178.9 275.1h6.6m-3.3-3.3v6.6m-2.2-5.5l4.4 4.4m-4.4 0l4.4-4.4M135.8 337.8h6.6m-3.3-3.3v6.6m-2.2-5.5l4.4 4.4m-4.4 0l4.4-4.4M128.8 300.3h6.6m-3.3-3.3v6.6m-2.2-5.5l4.4 4.4m-4.4 0l4.4-4.4M113.8 235.2h6.6m-3.3-3.3v6.6m-2.2-5.5l4.4 4.4m-4.4 0l4.4-4.4M169.5 262.1h6.6m-3.3-3.3v6.6m-2.2-5.5l4.4 4.4m-4.4 0l4.4-4.4M161.1 240.4h6.6m-3.3-3.3v6.6m-2.2-5.5l4.4 4.4m-4.4 0l4.4-4.4M53.6 350.6h6.6m-3.3-3.3v6.6m-2.2-5.5l4.4 4.4m-4.4 0l4.4-4.4M85.3 340.3h6.6m-3.3-3.3v6.6m-2.2-5.5l4.4 4.4m-4.4 0l4.4-4.4M81.8 247.3h6.6m-3.3-3.3v6.6m-2.2-5.5l4.4 4.4m-4.4 0l4.4-4.4M130.1 348.2h6.6m-3.3-3.3v6.6m-2.2-5.5l4.4 4.4m-4.4 0l4.4-4.4M67.2 297.4h6.6m-3.3-3.3v6.6m-2.2-5.5l4.4 4.4m-4.4 0l4.4-4.4M158.4 303.9h6.6m-3.3-3.3v6.6m-2.2-5.5l4.4 4.4m-4.4 0l4.4-4.4M51.5 285.7h6.6m-3.3-3.3v6.6m-2.2-5.5l4.4 4.4m-4.4 0l4.4-4.4M96.4 344.8h6.6m-3.3-3.3v6.6m-2.2-5.5l4.4 4.4m-4.4 0l4.4-4.4M143.5 207.8h6.6m-3.3-3.3v6.6m-2.2-5.5l4.4 4.4m-4.4 0l4.4-4.4M183.7 348.2h6.6m-3.3-3.3v6.6m-2.2-5.5l4.4 4.4m-4.4 0l4.4-4.4M100.2 354.2h6.6m-3.3-3.3v6.6m-2.2-5.5l4.4 4.4m-4.4 0l4.4-4.4M128 357.4h6.6m-3.3-3.3v6.6m-2.2-5.5l4.4 4.4m-4.4 0l4.4-4.4M135.2 274h6.6m-3.3-3.3v6.6m-2.2-5.5l4.4 4.4m-4.4 0l4.4-4.4M174.3 289.3h6.6m-3.3-3.3v6.6m-2.2-5.5l4.4 4.4m-4.4 0l4.4-4.4M119 284.5h6.6m-3.3-3.3v6.6m-2.2-5.5l4.4 4.4m-4.4 0l4.4-4.4M120.3 203.1h6.6m-3.3-3.3v6.6m-2.2-5.5l4.4 4.4m-4.4 0l4.4-4.4M79.5 269.5h6.6m-3.3-3.3v6.6m-2.2-5.5l4.4 4.4m-4.4 0l4.4-4.4M121.5 314.5h6.6m-3.3-3.3v6.6m-2.2-5.5l4.4 4.4m-4.4 0l4.4-4.4M105.8 295h6.6m-3.3-3.3v6.6m-2.2-5.5l4.4 4.4m-4.4 0l4.4-4.4M99.8 307.9h6.6m-3.3-3.3v6.6m-2.2-5.5l4.4 4.4m-4.4 0l4.4-4.4M110.4 259.9h6.6m-3.3-3.3v6.6m-2.2-5.5l4.4 4.4m-4.4 0l4.4-4.4M125.7 237.9h6.6m-3.3-3.3v6.6m-2.2-5.5l4.4 4.4m-4.4 0l4.4-4.4M51.1 255.4h6.6m-3.3-3.3v6.6m-2.2-5.5l4.4 4.4m-4.4 0l4.4-4.4M79.3 273.6h6.6m-3.3-3.3v6.6m-2.2-5.5l4.4 4.4m-4.4 0l4.4-4.4M122 345.7h6.6m-3.3-3.3v6.6m-2.2-5.5l4.4 4.4m-4.4 0l4.4-4.4M98.5 240.1h6.6m-3.3-3.3v6.6m-2.2-5.5l4.4 4.4m-4.4 0l4.4-4.4M108.7 356.4h6.6m-3.3-3.3v6.6m-2.2-5.5l4.4 4.4m-4.4 0l4.4-4.4M72.1 305.7h6.6m-3.3-3.3v6.6m-2.2-5.5l4.4 4.4m-4.4 0l4.4-4.4M198 281h6.6m-3.3-3.3v6.6m-2.2-5.5l4.4 4.4m-4.4 0l4.4-4.4M105.5 244.6h6.6m-3.3-3.3v6.6m-2.2-5.5l4.4 4.4m-4.4 0l4.4-4.4M141.8 251.9h6.6m-3.3-3.3v6.6m-2.2-5.5l4.4 4.4m-4.4 0l4.4-4.4M131.3 352.4h6.6m-3.3-3.3v6.6m-2.2-5.5l4.4 4.4m-4.4 0l4.4-4.4M100.9 337.3h6.6m-3.3-3.3v6.6m-2.2-5.5l4.4 4.4m-4.4 0l4.4-4.4M174.6 257.6h6.6m-3.3-3.3v6.6m-2.2-5.5l4.4 4.4m-4.4 0l4.4-4.4M76.5 334.4h6.6m-3.3-3.3v6.6m-2.2-5.5l4.4 4.4m-4.4 0l4.4-4.4M129.2 209.3h6.6m-3.3-3.3v6.6m-2.2-5.5l4.4 4.4m-4.4 0l4.4-4.4M177.3 225.9h6.6m-3.3-3.3v6.6m-2.2-5.5l4.4 4.4m-4.4 0l4.4-4.4M148.7 253.7h6.6m-3.3-3.3v6.6m-2.2-5.5l4.4 4.4m-4.4 0l4.4-4.4M133.4 267.5h6.6m-3.3-3.3v6.6m-2.2-5.5l4.4 4.4m-4.4 0l4.4-4.4M87 274.2h6.6m-3.3-3.3v6.6m-2.2-5.5l4.4 4.4m-4.4 0l4.4-4.4M135 240.7h6.6m-3.3-3.3v6.6m-2.2-5.5l4.4 4.4m-4.4 0l4.4-4.4M61.9 325.8h6.6m-3.3-3.3v6.6m-2.2-5.5l4.4 4.4m-4.4 0l4.4-4.4M111.6 240.1h6.6m-3.3-3.3v6.6m-2.2-5.5l4.4 4.4m-4.4 0l4.4-4.4M129.9 287.3h6.6m-3.3-3.3v6.6m-2.2-5.5l4.4 4.4m-4.4 0l4.4-4.4M65.8 257.7h6.6m-3.3-3.3v6.6m-2.2-5.5l4.4 4.4m-4.4 0l4.4-4.4M150 332.7h6.6m-3.3-3.3v6.6m-2.2-5.5l4.4 4.4m-4.4 0l4.4-4.4M92.4 315.2h6.6m-3.3-3.3v6.6m-2.2-5.5l4.4 4.4m-4.4 0l4.4-4.4M82.8 267.6h6.6m-3.3-3.3v6.6m-2.2-5.5l4.4 4.4m-4.4 0l4.4-4.4M172.4 272.4h6.6m-3.3-3.3v6.6m-2.2-5.5l4.4 4.4m-4.4 0l4.4-4.4M145.5 231.3h6.6m-3.3-3.3v6.6m-2.2-5.5l4.4 4.4m-4.4 0l4.4-4.4M91.4 275.2h6.6m-3.3-3.3v6.6m-2.2-5.5l4.4 4.4m-4.4 0l4.4-4.4M118.5 295.1h6.6m-3.3-3.3v6.6m-2.2-5.5l4.4 4.4m-4.4 0l4.4-4.4M84.5 265.7h6.6m-3.3-3.3v6.6m-2.2-5.5l4.4 4.4m-4.4 0l4.4-4.4M100 295.3h6.6m-3.3-3.3v6.6m-2.2-5.5l4.4 4.4m-4.4 0l4.4-4.4M113.6 279.6h6.6m-3.3-3.3v6.6m-2.2-5.5l4.4 4.4m-4.4 0l4.4-4.4M122.4 332.3h6.6m-3.3-3.3v6.6m-2.2-5.5l4.4 4.4m-4.4 0l4.4-4.4M180.9 213.4h6.6m-3.3-3.3v6.6m-2.2-5.5l4.4 4.4m-4.4 0l4.4-4.4M122.9 314.7h6.6m-3.3-3.3v6.6m-2.2-5.5l4.4 4.4m-4.4 0l4.4-4.4M71 291.8h6.6m-3.3-3.3v6.6m-2.2-5.5l4.4 4.4m-4.4 0l4.4-4.4M152.8 201.5h6.6m-3.3-3.3v6.6m-2.2-5.5l4.4 4.4m-4.4 0l4.4-4.4M113.8 237.5h6.6m-3.3-3.3v6.6m-2.2-5.5l4.4 4.4m-4.4 0l4.4-4.4M47.6 254.1h6.6m-3.3-3.3v6.6m-2.2-5.5l4.4 4.4m-4.4 0l4.4-4.4M139.8 354.2h6.6m-3.3-3.3v6.6m-2.2-5.5l4.4 4.4m-4.4 0l4.4-4.4M128.4 322.7h6.6m-3.3-3.3v6.6m-2.2-5.5l4.4 4.4m-4.4 0l4.4-4.4M77.3 277.4h6.6m-3.3-3.3v6.6m-2.2-5.5l4.4 4.4m-4.4 0l4.4-4.4M161.5 216.7h6.6m-3.3-3.3v6.6m-2.2-5.5l4.4 4.4m-4.4 0l4.4-4.4M176.5 227.2h6.6m-3.3-3.3v6.6m-2.2-5.5l4.4 4.4m-4.4 0l4.4-4.4M152.4 258.3h6.6m-3.3-3.3v6.6m-2.2-5.5l4.4 4.4m-4.4 0l4.4-4.4M99.7 294.1h6.6m-3.3-3.3v6.6m-2.2-5.5l4.4 4.4m-4.4 0l4.4-4.4M163.5 313.5h6.6m-3.3-3.3v6.6m-2.2-5.5l4.4 4.4m-4.4 0l4.4-4.4M129.7 290h6.6m-3.3-3.3v6.6m-2.2-5.5l4.4 4.4m-4.4 0l4.4-4.4M140.6 224.2h6.6m-3.3-3.3v6.6m-2.2-5.5l4.4 4.4m-4.4 0l4.4-4.4M137.9 216.9h6.6m-3.3-3.3v6.6m-2.2-5.5l4.4 4.4m-4.4 0l4.4-4.4M162 229.1h6.6m-3.3-3.3v6.6m-2.2-5.5l4.4 4.4m-4.4 0l4.4-4.4M76.4 299.5h6.6m-3.3-3.3v6.6m-2.2-5.5l4.4 4.4m-4.4 0l4.4-4.4M139 266.4h6.6m-3.3-3.3v6.6m-2.2-5.5l4.4 4.4m-4.4 0l4.4-4.4M155.7 288.5h6.6m-3.3-3.3v6.6m-2.2-5.5l4.4 4.4m-4.4 0l4.4-4.4M148.4 293.1h6.6m-3.3-3.3v6.6m-2.2-5.5l4.4 4.4m-4.4 0l4.4-4.4M149.6 201.1h6.6m-3.3-3.3v6.6m-2.2-5.5l4.4 4.4m-4.4 0l4.4-4.4M181.4 263.3h6.6m-3.3-3.3v6.6m-2.2-5.5l4.4 4.4m-4.4 0l4.4-4.4M168.5 246.9h6.6m-3.3-3.3v6.6m-2.2-5.5l4.4 4.4m-4.4 0l4.4-4.4M45.8 321.9h6.6m-3.3-3.3v6.6m-2.2-5.5l4.4 4.4m-4.4 0l4.4-4.4M167.3 226.6h6.6m-3.3-3.3v6.6m-2.2-5.5l4.4 4.4m-4.4 0l4.4-4.4M191.5 299.6h6.6m-3.3-3.3v6.6m-2.2-5.5l4.4 4.4m-4.4 0l4.4-4.4M104.1 361h6.6m-3.3-3.3v6.6m-2.2-5.5l4.4 4.4m-4.4 0l4.4-4.4M202.4 274.7h6.6m-3.3-3.3v6.6m-2.2-5.5l4.4 4.4m-4.4 0l4.4-4.4M117.1 216.2h6.6m-3.3-3.3v6.6m-2.2-5.5l4.4 4.4m-4.4 0l4.4-4.4M44 270.9h6.6m-3.3-3.3v6.6m-2.2-5.5l4.4 4.4m-4.4 0l4.4-4.4M96.3 338.8h6.6m-3.3-3.3v6.6m-2.2-5.5l4.4 4.4m-4.4 0l4.4-4.4M144.7 315.5h6.6m-3.3-3.3v6.6m-2.2-5.5l4.4 4.4m-4.4 0l4.4-4.4M76.2 281.4h6.6m-3.3-3.3v6.6m-2.2-5.5l4.4 4.4m-4.4 0l4.4-4.4M113.6 324.8h6.6m-3.3-3.3v6.6m-2.2-5.5l4.4 4.4m-4.4 0l4.4-4.4M104.2 216.6h6.6m-3.3-3.3v6.6m-2.2-5.5l4.4 4.4m-4.4 0l4.4-4.4M52.3 247.4h6.6m-3.3-3.3v6.6m-2.2-5.5l4.4 4.4m-4.4 0l4.4-4.4M100.8 271.9h6.6m-3.3-3.3v6.6m-2.2-5.5l4.4 4.4m-4.4 0l4.4-4.4M159.3 247.4h6.6m-3.3-3.3v6.6m-2.2-5.5l4.4 4.4m-4.4 0l4.4-4.4M135.5 299.5h6.6m-3.3-3.3v6.6m-2.2-5.5l4.4 4.4m-4.4 0l4.4-4.4M183.4 280.9h6.6m-3.3-3.3v6.6m-2.2-5.5l4.4 4.4m-4.4 0l4.4-4.4M55.4 350.4h6.6m-3.3-3.3v6.6m-2.2-5.5l4.4 4.4m-4.4 0l4.4-4.4M164.3 266.5h6.6m-3.3-3.3v6.6m-2.2-5.5l4.4 4.4m-4.4 0l4.4-4.4M46.3 236.1h6.6m-3.3-3.3v6.6m-2.2-5.5l4.4 4.4m-4.4 0l4.4-4.4M100.5 324h6.6m-3.3-3.3v6.6m-2.2-5.5l4.4 4.4m-4.4 0l4.4-4.4M141.3 322.1h6.6m-3.3-3.3v6.6m-2.2-5.5l4.4 4.4m-4.4 0l4.4-4.4M177.4 244.9h6.6m-3.3-3.3v6.6m-2.2-5.5l4.4 4.4m-4.4 0l4.4-4.4M145.4 283.4h6.6m-3.3-3.3v6.6m-2.2-5.5l4.4 4.4m-4.4 0l4.4-4.4M62.8 299.9h6.6m-3.3-3.3v6.6m-2.2-5.5l4.4 4.4m-4.4 0l4.4-4.4M81.7 322.6h6.6m-3.3-3.3v6.6m-2.2-5.5l4.4 4.4m-4.4 0l4.4-4.4M44.5 347.2h6.6m-3.3-3.3v6.6m-2.2-5.5l4.4 4.4m-4.4 0l4.4-4.4M121.5 290.6h6.6m-3.3-3.3v6.6m-2.2-5.5l4.4 4.4m-4.4 0l4.4-4.4M108.2 244.4h6.6m-3.3-3.3v6.6m-2.2-5.5l4.4 4.4m-4.4 0l4.4-4.4M164.9 344.7h6.6m-3.3-3.3v6.6m-2.2-5.5l4.4 4.4m-4.4 0l4.4-4.4M135.9 251.6h6.6m-3.3-3.3v6.6m-2.2-5.5l4.4 4.4m-4.4 0l4.4-4.4M68.1 292.5h6.6m-3.3-3.3v6.6m-2.2-5.5l4.4 4.4m-4.4 0l4.4-4.4M149.4 214h6.6m-3.3-3.3v6.6m-2.2-5.5l4.4 4.4m-4.4 0l4.4-4.4M96.3 302.1h6.6m-3.3-3.3v6.6m-2.2-5.5l4.4 4.4m-4.4 0l4.4-4.4M142.7 332.1h6.6m-3.3-3.3v6.6m-2.2-5.5l4.4 4.4m-4.4 0l4.4-4.4M89.3 339.4h6.6m-3.3-3.3v6.6m-2.2-5.5l4.4 4.4m-4.4 0l4.4-4.4M96.3 273h6.6m-3.3-3.3v6.6m-2.2-5.5l4.4 4.4m-4.4 0l4.4-4.4M148 273.6h6.6m-3.3-3.3v6.6m-2.2-5.5l4.4 4.4m-4.4 0l4.4-4.4M73 352h6.6m-3.3-3.3v6.6m-2.2-5.5l4.4 4.4m-4.4 0l4.4-4.4M74.3 308.3h6.6m-3.3-3.3v6.6m-2.2-5.5l4.4 4.4m-4.4 0l4.4-4.4M63.5 291.2h6.6m-3.3-3.3v6.6m-2.2-5.5l4.4 4.4m-4.4 0l4.4-4.4M118.1 288.9h6.6m-3.3-3.3v6.6m-2.2-5.5l4.4 4.4m-4.4 0l4.4-4.4M145.6 225.4h6.6m-3.3-3.3v6.6m-2.2-5.5l4.4 4.4m-4.4 0l4.4-4.4M135.9 306.7h6.6m-3.3-3.3v6.6m-2.2-5.5l4.4 4.4m-4.4 0l4.4-4.4M112.1 286.2h6.6m-3.3-3.3v6.6m-2.2-5.5l4.4 4.4m-4.4 0l4.4-4.4M55.7 311.8h6.6m-3.3-3.3v6.6m-2.2-5.5l4.4 4.4m-4.4 0l4.4-4.4M165.5 212.4h6.6m-3.3-3.3v6.6m-2.2-5.5l4.4 4.4m-4.4 0l4.4-4.4M175.7 231.7h6.6m-3.3-3.3v6.6m-2.2-5.5l4.4 4.4m-4.4 0l4.4-4.4M132.1 310.2h6.6m-3.3-3.3v6.6m-2.2-5.5l4.4 4.4m-4.4 0l4.4-4.4M137.1 269.4h6.6m-3.3-3.3v6.6m-2.2-5.5l4.4 4.4m-4.4 0l4.4-4.4M103.9 260.1h6.6m-3.3-3.3v6.6m-2.2-5.5l4.4 4.4m-4.4 0l4.4-4.4M115.6 359.3h6.6m-3.3-3.3v6.6m-2.2-5.5l4.4 4.4m-4.4 0l4.4-4.4M154.1 278h6.6m-3.3-3.3v6.6m-2.2-5.5l4.4 4.4m-4.4 0l4.4-4.4M84.9 248.1h6.6m-3.3-3.3v6.6m-2.2-5.5l4.4 4.4m-4.4 0l4.4-4.4M171.5 249.7h6.6m-3.3-3.3v6.6m-2.2-5.5l4.4 4.4m-4.4 0l4.4-4.4M116.6 232.1h6.6m-3.3-3.3v6.6m-2.2-5.5l4.4 4.4m-4.4 0l4.4-4.4M83.9 290.7h6.6m-3.3-3.3v6.6m-2.2-5.5l4.4 4.4m-4.4 0l4.4-4.4M69.9 342.7h6.6m-3.3-3.3v6.6m-2.2-5.5l4.4 4.4m-4.4 0l4.4-4.4M63 268.4h6.6m-3.3-3.3v6.6m-2.2-5.5l4.4 4.4m-4.4 0l4.4-4.4M173.9 207h6.6m-3.3-3.3v6.6m-2.2-5.5l4.4 4.4m-4.4 0l4.4-4.4M87.2 261.9h6.6m-3.3-3.3v6.6m-2.2-5.5l4.4 4.4m-4.4 0l4.4-4.4M74.2 312.2h6.6m-3.3-3.3v6.6m-2.2-5.5l4.4 4.4m-4.4 0l4.4-4.4M44.9 275.1h6.6m-3.3-3.3v6.6m-2.2-5.5l4.4 4.4m-4.4 0l4.4-4.4M109.1 283.3h6.6m-3.3-3.3v6.6m-2.2-5.5l4.4 4.4m-4.4 0l4.4-4.4M85.2 346.7h6.6m-3.3-3.3v6.6m-2.2-5.5l4.4 4.4m-4.4 0l4.4-4.4M155.3 299.3h6.6m-3.3-3.3v6.6m-2.2-5.5l4.4 4.4m-4.4 0l4.4-4.4M153.4 291.5h6.6m-3.3-3.3v6.6m-2.2-5.5l4.4 4.4m-4.4 0l4.4-4.4M137.1 273.4h6.6m-3.3-3.3v6.6m-2.2-5.5l4.4 4.4m-4.4 0l4.4-4.4M160.9 259.4h6.6m-3.3-3.3v6.6m-2.2-5.5l4.4 4.4m-4.4 0l4.4-4.4M171.9 249.5h6.6m-3.3-3.3v6.6m-2.2-5.5l4.4 4.4m-4.4 0l4.4-4.4M83.3 300.3h6.6m-3.3-3.3v6.6m-2.2-5.5l4.4 4.4m-4.4 0l4.4-4.4M122.4 357.6h6.6m-3.3-3.3v6.6m-2.2-5.5l4.4 4.4m-4.4 0l4.4-4.4M119 261.7h6.6m-3.3-3.3v6.6m-2.2-5.5l4.4 4.4m-4.4 0l4.4-4.4M108.7 321.2h6.6m-3.3-3.3v6.6m-2.2-5.5l4.4 4.4m-4.4 0l4.4-4.4M117.9 285h6.6m-3.3-3.3v6.6m-2.2-5.5l4.4 4.4m-4.4 0l4.4-4.4M130 339.1h6.6m-3.3-3.3v6.6m-2.2-5.5l4.4 4.4m-4.4 0l4.4-4.4M186.1 311.4h6.6m-3.3-3.3v6.6m-2.2-5.5l4.4 4.4m-4.4 0l4.4-4.4M56.8 277.5h6.6m-3.3-3.3v6.6m-2.2-5.5l4.4 4.4m-4.4 0l4.4-4.4M94.3 280.6h6.6m-3.3-3.3v6.6m-2.2-5.5l4.4 4.4m-4.4 0l4.4-4.4M78.4 256.3h6.6m-3.3-3.3v6.6m-2.2-5.5l4.4 4.4m-4.4 0l4.4-4.4M78.1 296.1h6.6m-3.3-3.3v6.6m-2.2-5.5l4.4 4.4m-4.4 0l4.4-4.4M129.5 303.7h6.6m-3.3-3.3v6.6m-2.2-5.5l4.4 4.4m-4.4 0l4.4-4.4M162.1 227.1h6.6m-3.3-3.3v6.6m-2.2-5.5l4.4 4.4m-4.4 0l4.4-4.4M60.2 343h6.6m-3.3-3.3v6.6m-2.2-5.5l4.4 4.4m-4.4 0l4.4-4.4M158.3 276.5h6.6m-3.3-3.3v6.6m-2.2-5.5l4.4 4.4m-4.4 0l4.4-4.4M87 352.9h6.6m-3.3-3.3v6.6m-2.2-5.5l4.4 4.4m-4.4 0l4.4-4.4M165.3 270.5h6.6m-3.3-3.3v6.6m-2.2-5.5l4.4 4.4m-4.4 0l4.4-4.4M179.3 245.9h6.6m-3.3-3.3v6.6m-2.2-5.5l4.4 4.4m-4.4 0l4.4-4.4M142.5 223.2h6.6m-3.3-3.3v6.6m-2.2-5.5l4.4 4.4m-4.4 0l4.4-4.4M59.2 307.1h6.6m-3.3-3.3v6.6m-2.2-5.5l4.4 4.4m-4.4 0l4.4-4.4M148.1 261.6h6.6m-3.3-3.3v6.6m-2.2-5.5l4.4 4.4m-4.4 0l4.4-4.4M137.2 328.6h6.6m-3.3-3.3v6.6m-2.2-5.5l4.4 4.4m-4.4 0l4.4-4.4M83.6 347.8h6.6m-3.3-3.3v6.6m-2.2-5.5l4.4 4.4m-4.4 0l4.4-4.4M117.9 297.7h6.6m-3.3-3.3v6.6m-2.2-5.5l4.4 4.4m-4.4 0l4.4-4.4M120.5 287.2h6.6m-3.3-3.3v6.6m-2.2-5.5l4.4 4.4m-4.4 0l4.4-4.4M181.9 216.2h6.6m-3.3-3.3v6.6m-2.2-5.5l4.4 4.4m-4.4 0l4.4-4.4M57.8 282h6.6m-3.3-3.3v6.6m-2.2-5.5l4.4 4.4m-4.4 0l4.4-4.4M151.4 306.9h6.6m-3.3-3.3v6.6m-2.2-5.5l4.4 4.4m-4.4 0l4.4-4.4M163.3 296.7h6.6m-3.3-3.3v6.6m-2.2-5.5l4.4 4.4m-4.4 0l4.4-4.4M182.2 303.8h6.6m-3.3-3.3v6.6m-2.2-5.5l4.4 4.4m-4.4 0l4.4-4.4M47.5 275.5h6.6m-3.3-3.3v6.6m-2.2-5.5l4.4 4.4m-4.4 0l4.4-4.4M160.9 223.9h6.6m-3.3-3.3v6.6m-2.2-5.5l4.4 4.4m-4.4 0l4.4-4.4M129 297h6.6m-3.3-3.3v6.6m-2.2-5.5l4.4 4.4m-4.4 0l4.4-4.4M163.8 248.5h6.6m-3.3-3.3v6.6m-2.2-5.5l4.4 4.4m-4.4 0l4.4-4.4M148.1 282.8h6.6m-3.3-3.3v6.6m-2.2-5.5l4.4 4.4m-4.4 0l4.4-4.4M161.7 235.4h6.6m-3.3-3.3v6.6m-2.2-5.5l4.4 4.4m-4.4 0l4.4-4.4M139.5 281.9h6.6m-3.3-3.3v6.6m-2.2-5.5l4.4 4.4m-4.4 0l4.4-4.4M136.9 259.4h6.6m-3.3-3.3v6.6m-2.2-5.5l4.4 4.4m-4.4 0l4.4-4.4M93.3 353h6.6m-3.3-3.3v6.6m-2.2-5.5l4.4 4.4m-4.4 0l4.4-4.4M152.6 320.6h6.6m-3.3-3.3v6.6m-2.2-5.5l4.4 4.4m-4.4 0l4.4-4.4M159.3 206h6.6m-3.3-3.3v6.6m-2.2-5.5l4.4 4.4m-4.4 0l4.4-4.4M158.2 261.1h6.6m-3.3-3.3v6.6m-2.2-5.5l4.4 4.4m-4.4 0l4.4-4.4M137.4 305h6.6m-3.3-3.3v6.6m-2.2-5.5l4.4 4.4m-4.4 0l4.4-4.4M112.5 300.6h6.6m-3.3-3.3v6.6m-2.2-5.5l4.4 4.4m-4.4 0l4.4-4.4M141.4 330h6.6m-3.3-3.3v6.6m-2.2-5.5l4.4 4.4m-4.4 0l4.4-4.4M115.4 254.2h6.6m-3.3-3.3v6.6m-2.2-5.5l4.4 4.4m-4.4 0l4.4-4.4M112 246.1h6.6m-3.3-3.3v6.6m-2.2-5.5l4.4 4.4m-4.4 0l4.4-4.4M50.3 273.9h6.6m-3.3-3.3v6.6m-2.2-5.5l4.4 4.4m-4.4 0l4.4-4.4M48.9 309.2h6.6m-3.3-3.3v6.6m-2.2-5.5l4.4 4.4m-4.4 0l4.4-4.4M68.7 332.9h6.6m-3.3-3.3v6.6m-2.2-5.5l4.4 4.4m-4.4 0l4.4-4.4M110 237h6.6m-3.3-3.3v6.6m-2.2-5.5l4.4 4.4m-4.4 0l4.4-4.4M169.4 267.3h6.6m-3.3-3.3v6.6m-2.2-5.5l4.4 4.4m-4.4 0l4.4-4.4M143.8 301h6.6m-3.3-3.3v6.6m-2.2-5.5l4.4 4.4m-4.4 0l4.4-4.4M162.1 296.9h6.6m-3.3-3.3v6.6m-2.2-5.5l4.4 4.4m-4.4 0l4.4-4.4M58.7 316.5h6.6m-3.3-3.3v6.6m-2.2-5.5l4.4 4.4m-4.4 0l4.4-4.4M132.4 220h6.6m-3.3-3.3v6.6m-2.2-5.5l4.4 4.4m-4.4 0l4.4-4.4M59.4 295.1h6.6m-3.3-3.3v6.6m-2.2-5.5l4.4 4.4m-4.4 0l4.4-4.4M105.2 276.2h6.6m-3.3-3.3v6.6m-2.2-5.5l4.4 4.4m-4.4 0l4.4-4.4M74.5 270.5h6.6m-3.3-3.3v6.6m-2.2-5.5l4.4 4.4m-4.4 0l4.4-4.4M120.2 237.8h6.6m-3.3-3.3v6.6m-2.2-5.5l4.4 4.4m-4.4 0l4.4-4.4M175.1 243.4h6.6m-3.3-3.3v6.6m-2.2-5.5l4.4 4.4m-4.4 0l4.4-4.4M175.4 213.7h6.6m-3.3-3.3v6.6m-2.2-5.5l4.4 4.4m-4.4 0l4.4-4.4M47.2 245.5h6.6m-3.3-3.3v6.6m-2.2-5.5l4.4 4.4m-4.4 0l4.4-4.4M52.6 346.8h6.6m-3.3-3.3v6.6m-2.2-5.5l4.4 4.4m-4.4 0l4.4-4.4M108.1 227.2h6.6m-3.3-3.3v6.6m-2.2-5.5l4.4 4.4m-4.4 0l4.4-4.4M115.9 352.6h6.6m-3.3-3.3v6.6m-2.2-5.5l4.4 4.4m-4.4 0l4.4-4.4M46.8 320h6.6m-3.3-3.3v6.6m-2.2-5.5l4.4 4.4m-4.4 0l4.4-4.4M136.7 337h6.6m-3.3-3.3v6.6m-2.2-5.5l4.4 4.4m-4.4 0l4.4-4.4M90.5 357.7h6.6m-3.3-3.3v6.6m-2.2-5.5l4.4 4.4m-4.4 0l4.4-4.4M57.8 345h6.6m-3.3-3.3v6.6m-2.2-5.5l4.4 4.4m-4.4 0l4.4-4.4M84.6 352.7h6.6m-3.3-3.3v6.6m-2.2-5.5l4.4 4.4m-4.4 0l4.4-4.4M145.6 290.7h6.6m-3.3-3.3v6.6m-2.2-5.5l4.4 4.4m-4.4 0l4.4-4.4M134.8 276.3h6.6m-3.3-3.3v6.6m-2.2-5.5l4.4 4.4m-4.4 0l4.4-4.4M157.7 251.7h6.6m-3.3-3.3v6.6m-2.2-5.5l4.4 4.4m-4.4 0l4.4-4.4M117.9 280.1h6.6m-3.3-3.3v6.6m-2.2-5.5l4.4 4.4m-4.4 0l4.4-4.4M58.4 324.4h6.6m-3.3-3.3v6.6m-2.2-5.5l4.4 4.4m-4.4 0l4.4-4.4M190.3 214.4h6.6m-3.3-3.3v6.6m-2.2-5.5l4.4 4.4m-4.4 0l4.4-4.4M116.1 292.3h6.6m-3.3-3.3v6.6m-2.2-5.5l4.4 4.4m-4.4 0l4.4-4.4M149.1 218.9h6.6m-3.3-3.3v6.6m-2.2-5.5l4.4 4.4m-4.4 0l4.4-4.4M148.4 328.9h6.6m-3.3-3.3v6.6m-2.2-5.5l4.4 4.4m-4.4 0l4.4-4.4M65.3 354.5h6.6m-3.3-3.3v6.6m-2.2-5.5l4.4 4.4m-4.4 0l4.4-4.4M130 286.8h6.6m-3.3-3.3v6.6m-2.2-5.5l4.4 4.4m-4.4 0l4.4-4.4M133.2 236h6.6m-3.3-3.3v6.6m-2.2-5.5l4.4 4.4m-4.4 0l4.4-4.4M92.3 347.8h6.6m-3.3-3.3v6.6m-2.2-5.5l4.4 4.4m-4.4 0l4.4-4.4M179.7 205.4h6.6m-3.3-3.3v6.6m-2.2-5.5l4.4 4.4m-4.4 0l4.4-4.4M169 275h6.6m-3.3-3.3v6.6m-2.2-5.5l4.4 4.4m-4.4 0l4.4-4.4M85 338.5h6.6m-3.3-3.3v6.6m-2.2-5.5l4.4 4.4m-4.4 0l4.4-4.4M109.1 253.7h6.6m-3.3-3.3v6.6m-2.2-5.5l4.4 4.4m-4.4 0l4.4-4.4M66.8 294.9h6.6m-3.3-3.3v6.6m-2.2-5.5l4.4 4.4m-4.4 0l4.4-4.4M71.5 313.3h6.6m-3.3-3.3v6.6m-2.2-5.5l4.4 4.4m-4.4 0l4.4-4.4M50.3 322.1h6.6m-3.3-3.3v6.6m-2.2-5.5l4.4 4.4m-4.4 0l4.4-4.4M141.8 278.6h6.6m-3.3-3.3v6.6m-2.2-5.5l4.4 4.4m-4.4 0l4.4-4.4M60.9 241.9h6.6m-3.3-3.3v6.6m-2.2-5.5l4.4 4.4m-4.4 0l4.4-4.4M127.3 229.4h6.6m-3.3-3.3v6.6m-2.2-5.5l4.4 4.4m-4.4 0l4.4-4.4M83.1 282.8h6.6m-3.3-3.3v6.6m-2.2-5.5l4.4 4.4m-4.4 0l4.4-4.4M160.5 277.6h6.6m-3.3-3.3v6.6m-2.2-5.5l4.4 4.4m-4.4 0l4.4-4.4M174.9 230.1h6.6m-3.3-3.3v6.6m-2.2-5.5l4.4 4.4m-4.4 0l4.4-4.4M50.8 341.4h6.6m-3.3-3.3v6.6m-2.2-5.5l4.4 4.4m-4.4 0l4.4-4.4M151.1 286.5h6.6m-3.3-3.3v6.6m-2.2-5.5l4.4 4.4m-4.4 0l4.4-4.4M79.3 313.3h6.6m-3.3-3.3v6.6m-2.2-5.5l4.4 4.4m-4.4 0l4.4-4.4M153 207.7h6.6m-3.3-3.3v6.6m-2.2-5.5l4.4 4.4m-4.4 0l4.4-4.4M153.1 262.1h6.6m-3.3-3.3v6.6m-2.2-5.5l4.4 4.4m-4.4 0l4.4-4.4M152.7 229.8h6.6m-3.3-3.3v6.6m-2.2-5.5l4.4 4.4m-4.4 0l4.4-4.4M44.1 274.2h6.6m-3.3-3.3v6.6m-2.2-5.5l4.4 4.4m-4.4 0l4.4-4.4M131.2 261.9h6.6m-3.3-3.3v6.6m-2.2-5.5l4.4 4.4m-4.4 0l4.4-4.4M56.5 341.9h6.6m-3.3-3.3v6.6m-2.2-5.5l4.4 4.4m-4.4 0l4.4-4.4M138.1 314.4h6.6m-3.3-3.3v6.6m-2.2-5.5l4.4 4.4m-4.4 0l4.4-4.4M58 336.1h6.6m-3.3-3.3v6.6m-2.2-5.5l4.4 4.4m-4.4 0l4.4-4.4M58.6 282.9h6.6m-3.3-3.3v6.6m-2.2-5.5l4.4 4.4m-4.4 0l4.4-4.4M175.4 202.6h6.6m-3.3-3.3v6.6m-2.2-5.5l4.4 4.4m-4.4 0l4.4-4.4M49.1 353.5h6.6m-3.3-3.3v6.6m-2.2-5.5l4.4 4.4m-4.4 0l4.4-4.4M105.4 234.5h6.6m-3.3-3.3v6.6m-2.2-5.5l4.4 4.4m-4.4 0l4.4-4.4M115.7 254.1h6.6m-3.3-3.3v6.6m-2.2-5.5l4.4 4.4m-4.4 0l4.4-4.4M100.6 285.9h6.6m-3.3-3.3v6.6m-2.2-5.5l4.4 4.4m-4.4 0l4.4-4.4M60.8 351.1h6.6m-3.3-3.3v6.6m-2.2-5.5l4.4 4.4m-4.4 0l4.4-4.4M155 327.4h6.6m-3.3-3.3v6.6m-2.2-5.5l4.4 4.4m-4.4 0l4.4-4.4M135 238.1h6.6m-3.3-3.3v6.6m-2.2-5.5l4.4 4.4m-4.4 0l4.4-4.4M77 359.2h6.6m-3.3-3.3v6.6m-2.2-5.5l4.4 4.4m-4.4 0l4.4-4.4M141.3 312.7h6.6m-3.3-3.3v6.6m-2.2-5.5l4.4 4.4m-4.4 0l4.4-4.4M54.8 333.9h6.6m-3.3-3.3v6.6m-2.2-5.5l4.4 4.4m-4.4 0l4.4-4.4M128.6 271.4h6.6m-3.3-3.3v6.6m-2.2-5.5l4.4 4.4m-4.4 0l4.4-4.4M50.7 275.5h6.6m-3.3-3.3v6.6m-2.2-5.5l4.4 4.4m-4.4 0l4.4-4.4M55.3 275.5h6.6m-3.3-3.3v6.6m-2.2-5.5l4.4 4.4m-4.4 0l4.4-4.4M143.5 256.6h6.6m-3.3-3.3v6.6m-2.2-5.5l4.4 4.4m-4.4 0l4.4-4.4M120.2 270.6h6.6m-3.3-3.3v6.6m-2.2-5.5l4.4 4.4m-4.4 0l4.4-4.4M61.5 324.2h6.6m-3.3-3.3v6.6m-2.2-5.5l4.4 4.4m-4.4 0l4.4-4.4M110.1 257.3h6.6m-3.3-3.3v6.6m-2.2-5.5l4.4 4.4m-4.4 0l4.4-4.4M45.1 251.3h6.6m-3.3-3.3v6.6m-2.2-5.5l4.4 4.4m-4.4 0l4.4-4.4M165.6 277.4h6.6m-3.3-3.3v6.6m-2.2-5.5l4.4 4.4m-4.4 0l4.4-4.4M104.7 308.2h6.6m-3.3-3.3v6.6m-2.2-5.5l4.4 4.4m-4.4 0l4.4-4.4M110.2 314.6h6.6m-3.3-3.3v6.6m-2.2-5.5l4.4 4.4m-4.4 0l4.4-4.4M99.2 284.7h6.6m-3.3-3.3v6.6m-2.2-5.5l4.4 4.4m-4.4 0l4.4-4.4M136.1 201.4h6.6m-3.3-3.3v6.6m-2.2-5.5l4.4 4.4m-4.4 0l4.4-4.4M128.7 312.6h6.6m-3.3-3.3v6.6m-2.2-5.5l4.4 4.4m-4.4 0l4.4-4.4M139.7 237.3h6.6m-3.3-3.3v6.6m-2.2-5.5l4.4 4.4m-4.4 0l4.4-4.4M50.6 292.6h6.6m-3.3-3.3v6.6m-2.2-5.5l4.4 4.4m-4.4 0l4.4-4.4M150.1 325h6.6m-3.3-3.3v6.6m-2.2-5.5l4.4 4.4m-4.4 0l4.4-4.4M138.5 323.2h6.6m-3.3-3.3v6.6m-2.2-5.5l4.4 4.4m-4.4 0l4.4-4.4M135.1 311.7h6.6m-3.3-3.3v6.6m-2.2-5.5l4.4 4.4m-4.4 0l4.4-4.4M48.1 247.7h6.6m-3.3-3.3v6.6m-2.2-5.5l4.4 4.4m-4.4 0l4.4-4.4M72.7 312.6h6.6m-3.3-3.3v6.6m-2.2-5.5l4.4 4.4m-4.4 0l4.4-4.4M149.4 265.7h6.6m-3.3-3.3v6.6m-2.2-5.5l4.4 4.4m-4.4 0l4.4-4.4M61.8 251.6h6.6m-3.3-3.3v6.6m-2.2-5.5l4.4 4.4m-4.4 0l4.4-4.4M139.8 254h6.6m-3.3-3.3v6.6m-2.2-5.5l4.4 4.4m-4.4 0l4.4-4.4M106.7 284.4h6.6m-3.3-3.3v6.6m-2.2-5.5l4.4 4.4m-4.4 0l4.4-4.4M45.9 328.4h6.6m-3.3-3.3v6.6m-2.2-5.5l4.4 4.4m-4.4 0l4.4-4.4M80.3 294.7h6.6m-3.3-3.3v6.6m-2.2-5.5l4.4 4.4m-4.4 0l4.4-4.4M129 276.6h6.6m-3.3-3.3v6.6m-2.2-5.5l4.4 4.4m-4.4 0l4.4-4.4M66 280.7h6.6m-3.3-3.3v6.6m-2.2-5.5l4.4 4.4m-4.4 0l4.4-4.4M119.2 322.1h6.6m-3.3-3.3v6.6m-2.2-5.5l4.4 4.4m-4.4 0l4.4-4.4M45.6 267.7h6.6m-3.3-3.3v6.6m-2.2-5.5l4.4 4.4m-4.4 0l4.4-4.4M89.2 343.3h6.6m-3.3-3.3v6.6m-2.2-5.5l4.4 4.4m-4.4 0l4.4-4.4M61.1 280.1h6.6m-3.3-3.3v6.6m-2.2-5.5l4.4 4.4m-4.4 0l4.4-4.4M62.2 257.8h6.6m-3.3-3.3v6.6m-2.2-5.5l4.4 4.4m-4.4 0l4.4-4.4M135 326h6.6m-3.3-3.3v6.6m-2.2-5.5l4.4 4.4m-4.4 0l4.4-4.4M70 280.6h6.6m-3.3-3.3v6.6m-2.2-5.5l4.4 4.4m-4.4 0l4.4-4.4M129.1 300.7h6.6m-3.3-3.3v6.6m-2.2-5.5l4.4 4.4m-4.4 0l4.4-4.4M115.1 258.8h6.6m-3.3-3.3v6.6m-2.2-5.5l4.4 4.4m-4.4 0l4.4-4.4M54.2 351.4h6.6m-3.3-3.3v6.6m-2.2-5.5l4.4 4.4m-4.4 0l4.4-4.4M98.3 332.2h6.6m-3.3-3.3v6.6m-2.2-5.5l4.4 4.4m-4.4 0l4.4-4.4M98 289.9h6.6m-3.3-3.3v6.6m-2.2-5.5l4.4 4.4m-4.4 0l4.4-4.4M72.9 279.7h6.6m-3.3-3.3v6.6m-2.2-5.5l4.4 4.4m-4.4 0l4.4-4.4M161.2 274.4h6.6m-3.3-3.3v6.6m-2.2-5.5l4.4 4.4m-4.4 0l4.4-4.4M106.1 276.1h6.6m-3.3-3.3v6.6m-2.2-5.5l4.4 4.4m-4.4 0l4.4-4.4M111.9 224.5h6.6m-3.3-3.3v6.6m-2.2-5.5l4.4 4.4m-4.4 0l4.4-4.4M54 280.1h6.6m-3.3-3.3v6.6m-2.2-5.5l4.4 4.4m-4.4 0l4.4-4.4M175.6 265.5h6.6m-3.3-3.3v6.6m-2.2-5.5l4.4 4.4m-4.4 0l4.4-4.4M71.6 275.9h6.6m-3.3-3.3v6.6m-2.2-5.5l4.4 4.4m-4.4 0l4.4-4.4M101.7 242.9h6.6m-3.3-3.3v6.6m-2.2-5.5l4.4 4.4m-4.4 0l4.4-4.4M59.6 293.5h6.6m-3.3-3.3v6.6m-2.2-5.5l4.4 4.4m-4.4 0l4.4-4.4M153.8 324.4h6.6m-3.3-3.3v6.6m-2.2-5.5l4.4 4.4m-4.4 0l4.4-4.4M98.6 295.8h6.6m-3.3-3.3v6.6m-2.2-5.5l4.4 4.4m-4.4 0l4.4-4.4M132.1 300.7h6.6m-3.3-3.3v6.6m-2.2-5.5l4.4 4.4m-4.4 0l4.4-4.4M127 273.2h6.6m-3.3-3.3v6.6m-2.2-5.5l4.4 4.4m-4.4 0l4.4-4.4M131 274.3h6.6m-3.3-3.3v6.6m-2.2-5.5l4.4 4.4m-4.4 0l4.4-4.4M176.8 264.4h6.6m-3.3-3.3v6.6m-2.2-5.5l4.4 4.4m-4.4 0l4.4-4.4M56.4 293.7h6.6m-3.3-3.3v6.6m-2.2-5.5l4.4 4.4m-4.4 0l4.4-4.4M52.4 268.7h6.6m-3.3-3.3v6.6m-2.2-5.5l4.4 4.4m-4.4 0l4.4-4.4M141.6 278.9h6.6m-3.3-3.3v6.6m-2.2-5.5l4.4 4.4m-4.4 0l4.4-4.4M62.4 360.4h6.6m-3.3-3.3v6.6m-2.2-5.5l4.4 4.4m-4.4 0l4.4-4.4M110.7 237.7h6.6m-3.3-3.3v6.6m-2.2-5.5l4.4 4.4m-4.4 0l4.4-4.4M145.2 263.1h6.6m-3.3-3.3v6.6m-2.2-5.5l4.4 4.4m-4.4 0l4.4-4.4M127.7 335h6.6m-3.3-3.3v6.6m-2.2-5.5l4.4 4.4m-4.4 0l4.4-4.4M153 236.9h6.6m-3.3-3.3v6.6m-2.2-5.5l4.4 4.4m-4.4 0l4.4-4.4M56.7 294.1h6.6m-3.3-3.3v6.6m-2.2-5.5l4.4 4.4m-4.4 0l4.4-4.4M59.5 321.8h6.6m-3.3-3.3v6.6m-2.2-5.5l4.4 4.4m-4.4 0l4.4-4.4M76.7 314.5h6.6m-3.3-3.3v6.6m-2.2-5.5l4.4 4.4m-4.4 0l4.4-4.4M160.9 320.2h6.6m-3.3-3.3v6.6m-2.2-5.5l4.4 4.4m-4.4 0l4.4-4.4M162.7 243.8h6.6m-3.3-3.3v6.6m-2.2-5.5l4.4 4.4m-4.4 0l4.4-4.4M60.7 353.2h6.6m-3.3-3.3v6.6m-2.2-5.5l4.4 4.4m-4.4 0l4.4-4.4M81 360.6h6.6m-3.3-3.3v6.6m-2.2-5.5l4.4 4.4m-4.4 0l4.4-4.4M44.4 259.2h6.6m-3.3-3.3v6.6m-2.2-5.5l4.4 4.4m-4.4 0l4.4-4.4M93.8 283.7h6.6m-3.3-3.3v6.6m-2.2-5.5l4.4 4.4m-4.4 0l4.4-4.4M165.4 259.6h6.6m-3.3-3.3v6.6m-2.2-5.5l4.4 4.4m-4.4 0l4.4-4.4M149.3 250.9h6.6m-3.3-3.3v6.6m-2.2-5.5l4.4 4.4m-4.4 0l4.4-4.4M125.3 251.2h6.6m-3.3-3.3v6.6m-2.2-5.5l4.4 4.4m-4.4 0l4.4-4.4M75.1 338.7h6.6m-3.3-3.3v6.6m-2.2-5.5l4.4 4.4m-4.4 0l4.4-4.4M127.1 317.8h6.6m-3.3-3.3v6.6m-2.2-5.5l4.4 4.4m-4.4 0l4.4-4.4M110.3 297h6.6m-3.3-3.3v6.6m-2.2-5.5l4.4 4.4m-4.4 0l4.4-4.4M136 257.2h6.6m-3.3-3.3v6.6m-2.2-5.5l4.4 4.4m-4.4 0l4.4-4.4M129.3 334.6h6.6m-3.3-3.3v6.6m-2.2-5.5l4.4 4.4m-4.4 0l4.4-4.4M103.6 293.3h6.6m-3.3-3.3v6.6m-2.2-5.5l4.4 4.4m-4.4 0l4.4-4.4M84.9 286.4h6.6m-3.3-3.3v6.6m-2.2-5.5l4.4 4.4m-4.4 0l4.4-4.4M49.3 332.8h6.6m-3.3-3.3v6.6m-2.2-5.5l4.4 4.4m-4.4 0l4.4-4.4M92.7 299.7h6.6m-3.3-3.3v6.6m-2.2-5.5l4.4 4.4m-4.4 0l4.4-4.4M132.7 264.9h6.6m-3.3-3.3v6.6m-2.2-5.5l4.4 4.4m-4.4 0l4.4-4.4M120.3 261.2h6.6m-3.3-3.3v6.6m-2.2-5.5l4.4 4.4m-4.4 0l4.4-4.4M133.1 287.3h6.6m-3.3-3.3v6.6m-2.2-5.5l4.4 4.4m-4.4 0l4.4-4.4M64 341.2h6.6m-3.3-3.3v6.6m-2.2-5.5l4.4 4.4m-4.4 0l4.4-4.4M186.1 314.5h6.6m-3.3-3.3v6.6m-2.2-5.5l4.4 4.4m-4.4 0l4.4-4.4M140.1 314h6.6m-3.3-3.3v6.6m-2.2-5.5l4.4 4.4m-4.4 0l4.4-4.4M113.5 338.9h6.6m-3.3-3.3v6.6m-2.2-5.5l4.4 4.4m-4.4 0l4.4-4.4M136.5 234.3h6.6m-3.3-3.3v6.6m-2.2-5.5l4.4 4.4m-4.4 0l4.4-4.4M89.5 339.8h6.6m-3.3-3.3v6.6m-2.2-5.5l4.4 4.4m-4.4 0l4.4-4.4M82.2 338.4h6.6m-3.3-3.3v6.6m-2.2-5.5l4.4 4.4m-4.4 0l4.4-4.4M125.5 329.6h6.6m-3.3-3.3v6.6m-2.2-5.5l4.4 4.4m-4.4 0l4.4-4.4M130.6 239.1h6.6m-3.3-3.3v6.6m-2.2-5.5l4.4 4.4m-4.4 0l4.4-4.4M103.4 291.1h6.6m-3.3-3.3v6.6m-2.2-5.5l4.4 4.4m-4.4 0l4.4-4.4M145.2 238.4h6.6m-3.3-3.3v6.6m-2.2-5.5l4.4 4.4m-4.4 0l4.4-4.4M61.2 265.6h6.6m-3.3-3.3v6.6m-2.2-5.5l4.4 4.4m-4.4 0l4.4-4.4M154.6 294.4h6.6m-3.3-3.3v6.6m-2.2-5.5l4.4 4.4m-4.4 0l4.4-4.4M109.4 348h6.6m-3.3-3.3v6.6m-2.2-5.5l4.4 4.4m-4.4 0l4.4-4.4M144.3 242.1h6.6m-3.3-3.3v6.6m-2.2-5.5l4.4 4.4m-4.4 0l4.4-4.4M153.7 313.2h6.6m-3.3-3.3v6.6m-2.2-5.5l4.4 4.4m-4.4 0l4.4-4.4M59 279.4h6.6m-3.3-3.3v6.6m-2.2-5.5l4.4 4.4m-4.4 0l4.4-4.4M117.2 243.2h6.6m-3.3-3.3v6.6m-2.2-5.5l4.4 4.4m-4.4 0l4.4-4.4M71 343.7h6.6m-3.3-3.3v6.6m-2.2-5.5l4.4 4.4m-4.4 0l4.4-4.4M63.9 313.7h6.6m-3.3-3.3v6.6m-2.2-5.5l4.4 4.4m-4.4 0l4.4-4.4M131.6 310.5h6.6m-3.3-3.3v6.6m-2.2-5.5l4.4 4.4m-4.4 0l4.4-4.4M129.2 227.9h6.6m-3.3-3.3v6.6m-2.2-5.5l4.4 4.4m-4.4 0l4.4-4.4M126.9 315.2h6.6m-3.3-3.3v6.6m-2.2-5.5l4.4 4.4m-4.4 0l4.4-4.4M97.6 294.9h6.6m-3.3-3.3v6.6m-2.2-5.5l4.4 4.4m-4.4 0l4.4-4.4M62.7 297.3h6.6m-3.3-3.3v6.6m-2.2-5.5l4.4 4.4m-4.4 0l4.4-4.4M69.8 360.3h6.6m-3.3-3.3v6.6m-2.2-5.5l4.4 4.4m-4.4 0l4.4-4.4M138.3 246.8h6.6m-3.3-3.3v6.6m-2.2-5.5l4.4 4.4m-4.4 0l4.4-4.4M128.8 346.9h6.6m-3.3-3.3v6.6m-2.2-5.5l4.4 4.4m-4.4 0l4.4-4.4M137.3 281.6h6.6m-3.3-3.3v6.6m-2.2-5.5l4.4 4.4m-4.4 0l4.4-4.4M72.9 348.7h6.6m-3.3-3.3v6.6m-2.2-5.5l4.4 4.4m-4.4 0l4.4-4.4M63 246.3h6.6m-3.3-3.3v6.6m-2.2-5.5l4.4 4.4m-4.4 0l4.4-4.4M49 339.1h6.6m-3.3-3.3v6.6m-2.2-5.5l4.4 4.4m-4.4 0l4.4-4.4M70.4 352.5h6.6m-3.3-3.3v6.6m-2.2-5.5l4.4 4.4m-4.4 0l4.4-4.4M157.3 289.6h6.6m-3.3-3.3v6.6m-2.2-5.5l4.4 4.4m-4.4 0l4.4-4.4M107.8 278h6.6m-3.3-3.3v6.6m-2.2-5.5l4.4 4.4m-4.4 0l4.4-4.4M124.7 284.6h6.6m-3.3-3.3v6.6m-2.2-5.5l4.4 4.4m-4.4 0l4.4-4.4M58.2 275.8h6.6m-3.3-3.3v6.6m-2.2-5.5l4.4 4.4m-4.4 0l4.4-4.4M61.3 312.5h6.6m-3.3-3.3v6.6m-2.2-5.5l4.4 4.4m-4.4 0l4.4-4.4M67.4 286.2h6.6m-3.3-3.3v6.6m-2.2-5.5l4.4 4.4m-4.4 0l4.4-4.4M59.9 356.2h6.6m-3.3-3.3v6.6m-2.2-5.5l4.4 4.4m-4.4 0l4.4-4.4M156.2 286.6h6.6m-3.3-3.3v6.6m-2.2-5.5l4.4 4.4m-4.4 0l4.4-4.4M76.8 316.4h6.6m-3.3-3.3v6.6m-2.2-5.5l4.4 4.4m-4.4 0l4.4-4.4M76.4 355.4h6.6m-3.3-3.3v6.6m-2.2-5.5l4.4 4.4m-4.4 0l4.4-4.4M57.9 288.9h6.6m-3.3-3.3v6.6m-2.2-5.5l4.4 4.4m-4.4 0l4.4-4.4M127.4 288.1h6.6m-3.3-3.3v6.6m-2.2-5.5l4.4 4.4m-4.4 0l4.4-4.4M128 307.1h6.6m-3.3-3.3v6.6m-2.2-5.5l4.4 4.4m-4.4 0l4.4-4.4M67.6 356.8h6.6m-3.3-3.3v6.6m-2.2-5.5l4.4 4.4m-4.4 0l4.4-4.4M50.4 244.3h6.6m-3.3-3.3v6.6m-2.2-5.5l4.4 4.4m-4.4 0l4.4-4.4M51.3 254.8h6.6m-3.3-3.3v6.6m-2.2-5.5l4.4 4.4m-4.4 0l4.4-4.4M119.6 265.6h6.6m-3.3-3.3v6.6m-2.2-5.5l4.4 4.4m-4.4 0l4.4-4.4M72.6 315.4h6.6m-3.3-3.3v6.6m-2.2-5.5l4.4 4.4m-4.4 0l4.4-4.4M111.1 345h6.6m-3.3-3.3v6.6m-2.2-5.5l4.4 4.4m-4.4 0l4.4-4.4M62.2 346.7h6.6m-3.3-3.3v6.6m-2.2-5.5l4.4 4.4m-4.4 0l4.4-4.4M109.3 331.6h6.6m-3.3-3.3v6.6m-2.2-5.5l4.4 4.4m-4.4 0l4.4-4.4M58.9 321.1h6.6m-3.3-3.3v6.6m-2.2-5.5l4.4 4.4m-4.4 0l4.4-4.4M176.7 239.7h6.6m-3.3-3.3v6.6m-2.2-5.5l4.4 4.4m-4.4 0l4.4-4.4M165.7 231.5h6.6m-3.3-3.3v6.6m-2.2-5.5l4.4 4.4m-4.4 0l4.4-4.4M47.4 299h6.6m-3.3-3.3v6.6m-2.2-5.5l4.4 4.4m-4.4 0l4.4-4.4M123.8 241.7h6.6m-3.3-3.3v6.6m-2.2-5.5l4.4 4.4m-4.4 0l4.4-4.4M52.5 331.6h6.6m-3.3-3.3v6.6m-2.2-5.5l4.4 4.4m-4.4 0l4.4-4.4M114.2 279.6h6.6m-3.3-3.3v6.6m-2.2-5.5l4.4 4.4m-4.4 0l4.4-4.4M83.8 318.2h6.6m-3.3-3.3v6.6m-2.2-5.5l4.4 4.4m-4.4 0l4.4-4.4M89 332.6h6.6m-3.3-3.3v6.6m-2.2-5.5l4.4 4.4m-4.4 0l4.4-4.4M58.9 335.7h6.6m-3.3-3.3v6.6m-2.2-5.5l4.4 4.4m-4.4 0l4.4-4.4M70.3 343.6h6.6m-3.3-3.3v6.6m-2.2-5.5l4.4 4.4m-4.4 0l4.4-4.4M135.2 311.6h6.6m-3.3-3.3v6.6m-2.2-5.5l4.4 4.4m-4.4 0l4.4-4.4M84.1 289.4h6.6m-3.3-3.3v6.6m-2.2-5.5l4.4 4.4m-4.4 0l4.4-4.4M160.8 248.2h6.6m-3.3-3.3v6.6m-2.2-5.5l4.4 4.4m-4.4 0l4.4-4.4M107.6 341.3h6.6m-3.3-3.3v6.6m-2.2-5.5l4.4 4.4m-4.4 0l4.4-4.4M175.9 226.5h6.6m-3.3-3.3v6.6m-2.2-5.5l4.4 4.4m-4.4 0l4.4-4.4M115.7 252.5h6.6m-3.3-3.3v6.6m-2.2-5.5l4.4 4.4m-4.4 0l4.4-4.4M108 317.8h6.6m-3.3-3.3v6.6m-2.2-5.5l4.4 4.4m-4.4 0l4.4-4.4M64.1 274.5h6.6m-3.3-3.3v6.6m-2.2-5.5l4.4 4.4m-4.4 0l4.4-4.4M125.6 262.5h6.6m-3.3-3.3v6.6m-2.2-5.5l4.4 4.4m-4.4 0l4.4-4.4M47 315.5h6.6m-3.3-3.3v6.6m-2.2-5.5l4.4 4.4m-4.4 0l4.4-4.4M107 354.6h6.6m-3.3-3.3v6.6m-2.2-5.5l4.4 4.4m-4.4 0l4.4-4.4M51.6 274h6.6m-3.3-3.3v6.6m-2.2-5.5l4.4 4.4m-4.4 0l4.4-4.4M80.9 245.5h6.6m-3.3-3.3v6.6m-2.2-5.5l4.4 4.4m-4.4 0l4.4-4.4M61.6 277h6.6m-3.3-3.3v6.6m-2.2-5.5l4.4 4.4m-4.4 0l4.4-4.4M57.8 268h6.6m-3.3-3.3v6.6m-2.2-5.5l4.4 4.4m-4.4 0l4.4-4.4M77.3 307.6h6.6m-3.3-3.3v6.6m-2.2-5.5l4.4 4.4m-4.4 0l4.4-4.4M86.3 292.1h6.6m-3.3-3.3v6.6m-2.2-5.5l4.4 4.4m-4.4 0l4.4-4.4M64.9 356h6.6m-3.3-3.3v6.6m-2.2-5.5l4.4 4.4m-4.4 0l4.4-4.4M137.7 223h6.6m-3.3-3.3v6.6m-2.2-5.5l4.4 4.4m-4.4 0l4.4-4.4M62.8 288.3h6.6m-3.3-3.3v6.6m-2.2-5.5l4.4 4.4m-4.4 0l4.4-4.4M72.6 351.2h6.6m-3.3-3.3v6.6m-2.2-5.5l4.4 4.4m-4.4 0l4.4-4.4M115.2 303.6h6.6m-3.3-3.3v6.6m-2.2-5.5l4.4 4.4m-4.4 0l4.4-4.4M137.6 316.2h6.6m-3.3-3.3v6.6m-2.2-5.5l4.4 4.4m-4.4 0l4.4-4.4M179.4 222.2h6.6m-3.3-3.3v6.6m-2.2-5.5l4.4 4.4m-4.4 0l4.4-4.4M116 337h6.6m-3.3-3.3v6.6m-2.2-5.5l4.4 4.4m-4.4 0l4.4-4.4M173.5 251.4h6.6m-3.3-3.3v6.6m-2.2-5.5l4.4 4.4m-4.4 0l4.4-4.4M153.1 245.1h6.6m-3.3-3.3v6.6m-2.2-5.5l4.4 4.4m-4.4 0l4.4-4.4M95.2 304.4h6.6m-3.3-3.3v6.6m-2.2-5.5l4.4 4.4m-4.4 0l4.4-4.4M45.7 333.2h6.6m-3.3-3.3v6.6m-2.2-5.5l4.4 4.4m-4.4 0l4.4-4.4M132.8 258.5h6.6m-3.3-3.3v6.6m-2.2-5.5l4.4 4.4m-4.4 0l4.4-4.4M62.5 356.8h6.6m-3.3-3.3v6.6m-2.2-5.5l4.4 4.4m-4.4 0l4.4-4.4M130.3 294.9h6.6m-3.3-3.3v6.6m-2.2-5.5l4.4 4.4m-4.4 0l4.4-4.4M151.6 311h6.6m-3.3-3.3v6.6m-2.2-5.5l4.4 4.4m-4.4 0l4.4-4.4M52.5 275.8h6.6m-3.3-3.3v6.6m-2.2-5.5l4.4 4.4m-4.4 0l4.4-4.4M149.7 305.6h6.6m-3.3-3.3v6.6m-2.2-5.5l4.4 4.4m-4.4 0l4.4-4.4M177.6 265.7h6.6m-3.3-3.3v6.6m-2.2-5.5l4.4 4.4m-4.4 0l4.4-4.4M145.6 219.9h6.6m-3.3-3.3v6.6m-2.2-5.5l4.4 4.4m-4.4 0l4.4-4.4M74.9 357.8h6.6m-3.3-3.3v6.6m-2.2-5.5l4.4 4.4m-4.4 0l4.4-4.4M131.9 282.8h6.6m-3.3-3.3v6.6m-2.2-5.5l4.4 4.4m-4.4 0l4.4-4.4M147 212.5h6.6m-3.3-3.3v6.6m-2.2-5.5l4.4 4.4m-4.4 0l4.4-4.4M95.9 309.9h6.6m-3.3-3.3v6.6m-2.2-5.5l4.4 4.4m-4.4 0l4.4-4.4M178.7 240.6h6.6m-3.3-3.3v6.6m-2.2-5.5l4.4 4.4m-4.4 0l4.4-4.4M52.3 330.7h6.6m-3.3-3.3v6.6m-2.2-5.5l4.4 4.4m-4.4 0l4.4-4.4M129 291h6.6m-3.3-3.3v6.6m-2.2-5.5l4.4 4.4m-4.4 0l4.4-4.4M125.1 288.5h6.6m-3.3-3.3v6.6m-2.2-5.5l4.4 4.4m-4.4 0l4.4-4.4M112.8 236h6.6m-3.3-3.3v6.6m-2.2-5.5l4.4 4.4m-4.4 0l4.4-4.4M55.6 300.2h6.6m-3.3-3.3v6.6m-2.2-5.5l4.4 4.4m-4.4 0l4.4-4.4M51.2 317.4h6.6m-3.3-3.3v6.6m-2.2-5.5l4.4 4.4m-4.4 0l4.4-4.4M76.6 356.4h6.6m-3.3-3.3v6.6m-2.2-5.5l4.4 4.4m-4.4 0l4.4-4.4M130.6 273.8h6.6m-3.3-3.3v6.6m-2.2-5.5l4.4 4.4m-4.4 0l4.4-4.4M72 306h6.6m-3.3-3.3v6.6m-2.2-5.5l4.4 4.4m-4.4 0l4.4-4.4M142.6 263h6.6m-3.3-3.3v6.6m-2.2-5.5l4.4 4.4m-4.4 0l4.4-4.4M181.1 232.7h6.6m-3.3-3.3v6.6m-2.2-5.5l4.4 4.4m-4.4 0l4.4-4.4M202.8 236.9h6.6m-3.3-3.3v6.6m-2.2-5.5l4.4 4.4m-4.4 0l4.4-4.4M133.3 272.9h6.6m-3.3-3.3v6.6m-2.2-5.5l4.4 4.4m-4.4 0l4.4-4.4M127.7 327.8h6.6m-3.3-3.3v6.6m-2.2-5.5l4.4 4.4m-4.4 0l4.4-4.4M136.4 343h6.6m-3.3-3.3v6.6m-2.2-5.5l4.4 4.4m-4.4 0l4.4-4.4M61.5 304.1h6.6m-3.3-3.3v6.6m-2.2-5.5l4.4 4.4m-4.4 0l4.4-4.4M130.3 349.5h6.6m-3.3-3.3v6.6m-2.2-5.5l4.4 4.4m-4.4 0l4.4-4.4M82.5 242h6.6m-3.3-3.3v6.6m-2.2-5.5l4.4 4.4m-4.4 0l4.4-4.4M53 272.7h6.6m-3.3-3.3v6.6m-2.2-5.5l4.4 4.4m-4.4 0l4.4-4.4M59 296.2h6.6m-3.3-3.3v6.6m-2.2-5.5l4.4 4.4m-4.4 0l4.4-4.4M85.8 287.8h6.6m-3.3-3.3v6.6m-2.2-5.5l4.4 4.4m-4.4 0l4.4-4.4M68.7 360h6.6m-3.3-3.3v6.6m-2.2-5.5l4.4 4.4m-4.4 0l4.4-4.4M159.8 220h6.6m-3.3-3.3v6.6m-2.2-5.5l4.4 4.4m-4.4 0l4.4-4.4M47.3 266.7h6.6m-3.3-3.3v6.6m-2.2-5.5l4.4 4.4m-4.4 0l4.4-4.4M47.3 258h6.6m-3.3-3.3v6.6m-2.2-5.5l4.4 4.4m-4.4 0l4.4-4.4M48.5 273.9h6.6m-3.3-3.3v6.6m-2.2-5.5l4.4 4.4m-4.4 0l4.4-4.4M119.3 339.2h6.6m-3.3-3.3v6.6m-2.2-5.5l4.4 4.4m-4.4 0l4.4-4.4M132.1 229.1h6.6m-3.3-3.3v6.6m-2.2-5.5l4.4 4.4m-4.4 0l4.4-4.4M71.5 341.3h6.6m-3.3-3.3v6.6m-2.2-5.5l4.4 4.4m-4.4 0l4.4-4.4M80.4 349.8h6.6m-3.3-3.3v6.6m-2.2-5.5l4.4 4.4m-4.4 0l4.4-4.4M130.3 253.5h6.6m-3.3-3.3v6.6m-2.2-5.5l4.4 4.4m-4.4 0l4.4-4.4M57.1 322.9h6.6m-3.3-3.3v6.6m-2.2-5.5l4.4 4.4m-4.4 0l4.4-4.4M180 266.7h6.6m-3.3-3.3v6.6m-2.2-5.5l4.4 4.4m-4.4 0l4.4-4.4M143.6 244.1h6.6m-3.3-3.3v6.6m-2.2-5.5l4.4 4.4m-4.4 0l4.4-4.4M107.3 299.8h6.6m-3.3-3.3v6.6m-2.2-5.5l4.4 4.4m-4.4 0l4.4-4.4M62.2 286.3h6.6m-3.3-3.3v6.6m-2.2-5.5l4.4 4.4m-4.4 0l4.4-4.4M85.1 282.1h6.6m-3.3-3.3v6.6m-2.2-5.5l4.4 4.4m-4.4 0l4.4-4.4M53.8 333h6.6m-3.3-3.3v6.6m-2.2-5.5l4.4 4.4m-4.4 0l4.4-4.4M53.1 285.4h6.6m-3.3-3.3v6.6m-2.2-5.5l4.4 4.4m-4.4 0l4.4-4.4M70.9 355.7h6.6m-3.3-3.3v6.6m-2.2-5.5l4.4 4.4m-4.4 0l4.4-4.4M139.8 342.2h6.6m-3.3-3.3v6.6m-2.2-5.5l4.4 4.4m-4.4 0l4.4-4.4M71.7 359.9h6.6m-3.3-3.3v6.6m-2.2-5.5l4.4 4.4m-4.4 0l4.4-4.4M70 348.4h6.6m-3.3-3.3v6.6m-2.2-5.5l4.4 4.4m-4.4 0l4.4-4.4M52.8 263h6.6m-3.3-3.3v6.6m-2.2-5.5l4.4 4.4m-4.4 0l4.4-4.4M83.1 360.6h6.6m-3.3-3.3v6.6m-2.2-5.5l4.4 4.4m-4.4 0l4.4-4.4M55.6 269.1h6.6m-3.3-3.3v6.6m-2.2-5.5l4.4 4.4m-4.4 0l4.4-4.4M63.9 339.3h6.6m-3.3-3.3v6.6m-2.2-5.5l4.4 4.4m-4.4 0l4.4-4.4M49.8 271.9h6.6m-3.3-3.3v6.6m-2.2-5.5l4.4 4.4m-4.4 0l4.4-4.4M44.6 263.4h6.6m-3.3-3.3v6.6m-2.2-5.5l4.4 4.4m-4.4 0l4.4-4.4M44.4 252.1h6.6m-3.3-3.3v6.6m-2.2-5.5l4.4 4.4m-4.4 0l4.4-4.4M52.8 259.4h6.6m-3.3-3.3v6.6m-2.2-5.5l4.4 4.4m-4.4 0l4.4-4.4M86.2 284h6.6m-3.3-3.3v6.6m-2.2-5.5l4.4 4.4m-4.4 0l4.4-4.4M45.3 262.6h6.6m-3.3-3.3v6.6m-2.2-5.5l4.4 4.4m-4.4 0l4.4-4.4M109.1 344.6h6.6m-3.3-3.3v6.6m-2.2-5.5l4.4 4.4m-4.4 0l4.4-4.4M123.7 258.7h6.6m-3.3-3.3v6.6m-2.2-5.5l4.4 4.4m-4.4 0l4.4-4.4M72.6 358.9h6.6m-3.3-3.3v6.6m-2.2-5.5l4.4 4.4m-4.4 0l4.4-4.4M128 244.4h6.6m-3.3-3.3v6.6m-2.2-5.5l4.4 4.4m-4.4 0l4.4-4.4M116.6 340.1h6.6m-3.3-3.3v6.6m-2.2-5.5l4.4 4.4m-4.4 0l4.4-4.4M129.8 322.7h6.6m-3.3-3.3v6.6m-2.2-5.5l4.4 4.4m-4.4 0l4.4-4.4M50.3 297h6.6m-3.3-3.3v6.6m-2.2-5.5l4.4 4.4m-4.4 0l4.4-4.4M49.3 298.2h6.6m-3.3-3.3v6.6m-2.2-5.5l4.4 4.4m-4.4 0l4.4-4.4M172.9 215.5h6.6m-3.3-3.3v6.6m-2.2-5.5l4.4 4.4m-4.4 0l4.4-4.4M48.1 318.3h6.6m-3.3-3.3v6.6m-2.2-5.5l4.4 4.4m-4.4 0l4.4-4.4M52.3 265.6h6.6m-3.3-3.3v6.6m-2.2-5.5l4.4 4.4m-4.4 0l4.4-4.4M54 339.3h6.6m-3.3-3.3v6.6m-2.2-5.5l4.4 4.4m-4.4 0l4.4-4.4M74.8 343.1h6.6m-3.3-3.3v6.6m-2.2-5.5l4.4 4.4m-4.4 0l4.4-4.4M54.4 321.9h6.6m-3.3-3.3v6.6m-2.2-5.5l4.4 4.4m-4.4 0l4.4-4.4M64.3 344h6.6m-3.3-3.3v6.6m-2.2-5.5l4.4 4.4m-4.4 0l4.4-4.4M73.1 284.6h6.6m-3.3-3.3v6.6m-2.2-5.5l4.4 4.4m-4.4 0l4.4-4.4M107.4 288.4h6.6m-3.3-3.3v6.6m-2.2-5.5l4.4 4.4m-4.4 0l4.4-4.4M177.4 276.2h6.6m-3.3-3.3v6.6m-2.2-5.5l4.4 4.4m-4.4 0l4.4-4.4M62.4 280.1h6.6m-3.3-3.3v6.6m-2.2-5.5l4.4 4.4m-4.4 0l4.4-4.4M70.2 349.9h6.6m-3.3-3.3v6.6m-2.2-5.5l4.4 4.4m-4.4 0l4.4-4.4M80.1 355.7h6.6m-3.3-3.3v6.6m-2.2-5.5l4.4 4.4m-4.4 0l4.4-4.4M48.3 278.1h6.6m-3.3-3.3v6.6m-2.2-5.5l4.4 4.4m-4.4 0l4.4-4.4M52.8 315.3h6.6m-3.3-3.3v6.6m-2.2-5.5l4.4 4.4m-4.4 0l4.4-4.4M54.4 324.6h6.6m-3.3-3.3v6.6m-2.2-5.5l4.4 4.4m-4.4 0l4.4-4.4M73.1 356.5h6.6m-3.3-3.3v6.6m-2.2-5.5l4.4 4.4m-4.4 0l4.4-4.4M135.8 241.8h6.6m-3.3-3.3v6.6m-2.2-5.5l4.4 4.4m-4.4 0l4.4-4.4M144.7 243.8h6.6m-3.3-3.3v6.6m-2.2-5.5l4.4 4.4m-4.4 0l4.4-4.4M124.4 278h6.6m-3.3-3.3v6.6m-2.2-5.5l4.4 4.4m-4.4 0l4.4-4.4M88.8 317.3h6.6m-3.3-3.3v6.6m-2.2-5.5l4.4 4.4m-4.4 0l4.4-4.4M58.2 259.5h6.6m-3.3-3.3v6.6m-2.2-5.5l4.4 4.4m-4.4 0l4.4-4.4M133.2 273.3h6.6m-3.3-3.3v6.6m-2.2-5.5l4.4 4.4m-4.4 0l4.4-4.4M83.4 348.6h6.6m-3.3-3.3v6.6m-2.2-5.5l4.4 4.4m-4.4 0l4.4-4.4M72 351h6.6m-3.3-3.3v6.6m-2.2-5.5l4.4 4.4m-4.4 0l4.4-4.4M79.3 353.7h6.6m-3.3-3.3v6.6m-2.2-5.5l4.4 4.4m-4.4 0l4.4-4.4M125.4 316.9h6.6m-3.3-3.3v6.6m-2.2-5.5l4.4 4.4m-4.4 0l4.4-4.4M72.3 350.6h6.6m-3.3-3.3v6.6m-2.2-5.5l4.4 4.4m-4.4 0l4.4-4.4M44.2 270.1h6.6m-3.3-3.3v6.6m-2.2-5.5l4.4 4.4m-4.4 0l4.4-4.4M57.8 360.6h6.6m-3.3-3.3v6.6m-2.2-5.5l4.4 4.4m-4.4 0l4.4-4.4M135.8 344.3h6.6m-3.3-3.3v6.6m-2.2-5.5l4.4 4.4m-4.4 0l4.4-4.4M92.7 283.3h6.6m-3.3-3.3v6.6m-2.2-5.5l4.4 4.4m-4.4 0l4.4-4.4M127.5 275.9h6.6m-3.3-3.3v6.6m-2.2-5.5l4.4 4.4m-4.4 0l4.4-4.4M130.7 265.4h6.6m-3.3-3.3v6.6m-2.2-5.5l4.4 4.4m-4.4 0l4.4-4.4M174.9 277.3h6.6m-3.3-3.3v6.6m-2.2-5.5l4.4 4.4m-4.4 0l4.4-4.4M50 338h6.6m-3.3-3.3v6.6m-2.2-5.5l4.4 4.4m-4.4 0l4.4-4.4M154 219h6.6m-3.3-3.3v6.6m-2.2-5.5l4.4 4.4m-4.4 0l4.4-4.4M44.6 313.5h6.6m-3.3-3.3v6.6m-2.2-5.5l4.4 4.4m-4.4 0l4.4-4.4M46 313.7h6.6m-3.3-3.3v6.6m-2.2-5.5l4.4 4.4m-4.4 0l4.4-4.4M53.9 352.1h6.6m-3.3-3.3v6.6m-2.2-5.5l4.4 4.4m-4.4 0l4.4-4.4M88.4 291.7h6.6m-3.3-3.3v6.6m-2.2-5.5l4.4 4.4m-4.4 0l4.4-4.4M127.1 255.9h6.6m-3.3-3.3v6.6m-2.2-5.5l4.4 4.4m-4.4 0l4.4-4.4M49.8 330.9h6.6m-3.3-3.3v6.6m-2.2-5.5l4.4 4.4m-4.4 0l4.4-4.4M127.6 318.2h6.6m-3.3-3.3v6.6m-2.2-5.5l4.4 4.4m-4.4 0l4.4-4.4M44.4 262.5h6.6m-3.3-3.3v6.6m-2.2-5.5l4.4 4.4m-4.4 0l4.4-4.4M81.2 356h6.6m-3.3-3.3v6.6m-2.2-5.5l4.4 4.4m-4.4 0l4.4-4.4M44.3 305.6h6.6m-3.3-3.3v6.6m-2.2-5.5l4.4 4.4m-4.4 0l4.4-4.4M138.9 244.1h6.6m-3.3-3.3v6.6m-2.2-5.5l4.4 4.4m-4.4 0l4.4-4.4M55.2 360.3h6.6m-3.3-3.3v6.6m-2.2-5.5l4.4 4.4m-4.4 0l4.4-4.4M50.9 268.4h6.6m-3.3-3.3v6.6m-2.2-5.5l4.4 4.4m-4.4 0l4.4-4.4M65.4 358.6h6.6m-3.3-3.3v6.6m-2.2-5.5l4.4 4.4m-4.4 0l4.4-4.4M83.3 347h6.6m-3.3-3.3v6.6m-2.2-5.5l4.4 4.4m-4.4 0l4.4-4.4M51 319.5h6.6m-3.3-3.3v6.6m-2.2-5.5l4.4 4.4m-4.4 0l4.4-4.4M50.3 321.6h6.6m-3.3-3.3v6.6m-2.2-5.5l4.4 4.4m-4.4 0l4.4-4.4M123.8 268.6h6.6m-3.3-3.3v6.6m-2.2-5.5l4.4 4.4m-4.4 0l4.4-4.4M151.9 243.7h6.6m-3.3-3.3v6.6m-2.2-5.5l4.4 4.4m-4.4 0l4.4-4.4M134.8 223.3h6.6m-3.3-3.3v6.6m-2.2-5.5l4.4 4.4m-4.4 0l4.4-4.4M121.2 309.1h6.6m-3.3-3.3v6.6m-2.2-5.5l4.4 4.4m-4.4 0l4.4-4.4M69.1 354.4h6.6m-3.3-3.3v6.6m-2.2-5.5l4.4 4.4m-4.4 0l4.4-4.4M126.2 272h6.6m-3.3-3.3v6.6m-2.2-5.5l4.4 4.4m-4.4 0l4.4-4.4M131 264.1h6.6m-3.3-3.3v6.6m-2.2-5.5l4.4 4.4m-4.4 0l4.4-4.4M120.2 276.7h6.6m-3.3-3.3v6.6m-2.2-5.5l4.4 4.4m-4.4 0l4.4-4.4M47.4 350.4h6.6m-3.3-3.3v6.6m-2.2-5.5l4.4 4.4m-4.4 0l4.4-4.4M47.5 308.1h6.6m-3.3-3.3v6.6m-2.2-5.5l4.4 4.4m-4.4 0l4.4-4.4M118.6 318.5h6.6m-3.3-3.3v6.6m-2.2-5.5l4.4 4.4m-4.4 0l4.4-4.4M59.7 294.8h6.6m-3.3-3.3v6.6m-2.2-5.5l4.4 4.4m-4.4 0l4.4-4.4M55.2 295.4h6.6m-3.3-3.3v6.6m-2.2-5.5l4.4 4.4m-4.4 0l4.4-4.4M59.1 353.3h6.6m-3.3-3.3v6.6m-2.2-5.5l4.4 4.4m-4.4 0l4.4-4.4M162.1 215.2h6.6m-3.3-3.3v6.6m-2.2-5.5l4.4 4.4m-4.4 0l4.4-4.4M46.9 292.7h6.6m-3.3-3.3v6.6m-2.2-5.5l4.4 4.4m-4.4 0l4.4-4.4M118.7 272.8h6.6m-3.3-3.3v6.6m-2.2-5.5l4.4 4.4m-4.4 0l4.4-4.4M49.2 307.6h6.6m-3.3-3.3v6.6m-2.2-5.5l4.4 4.4m-4.4 0l4.4-4.4M47.1 350.4h6.6m-3.3-3.3v6.6m-2.2-5.5l4.4 4.4m-4.4 0l4.4-4.4M44.3 343.6h6.6m-3.3-3.3v6.6m-2.2-5.5l4.4 4.4m-4.4 0l4.4-4.4M88 292.9h6.6m-3.3-3.3v6.6m-2.2-5.5l4.4 4.4m-4.4 0l4.4-4.4M53.5 281.4h6.6m-3.3-3.3v6.6m-2.2-5.5l4.4 4.4m-4.4 0l4.4-4.4M175.3 332.8h6.6m-3.3-3.3v6.6m-2.2-5.5l4.4 4.4m-4.4 0l4.4-4.4M124.9 279.6h6.6m-3.3-3.3v6.6m-2.2-5.5l4.4 4.4m-4.4 0l4.4-4.4M50.6 301h6.6m-3.3-3.3v6.6m-2.2-5.5l4.4 4.4m-4.4 0l4.4-4.4M49.4 328.3h6.6m-3.3-3.3v6.6m-2.2-5.5l4.4 4.4m-4.4 0l4.4-4.4M88 291.8h6.6m-3.3-3.3v6.6m-2.2-5.5l4.4 4.4m-4.4 0l4.4-4.4M150.8 311h6.6m-3.3-3.3v6.6m-2.2-5.5l4.4 4.4m-4.4 0l4.4-4.4M69.8 275.4h6.6m-3.3-3.3v6.6m-2.2-5.5l4.4 4.4m-4.4 0l4.4-4.4M61 257.5h6.6m-3.3-3.3v6.6m-2.2-5.5l4.4 4.4m-4.4 0l4.4-4.4M54.1 269.3h6.6m-3.3-3.3v6.6m-2.2-5.5l4.4 4.4m-4.4 0l4.4-4.4M62.9 340.4h6.6m-3.3-3.3v6.6m-2.2-5.5l4.4 4.4m-4.4 0l4.4-4.4M68.4 348.9h6.6m-3.3-3.3v6.6m-2.2-5.5l4.4 4.4m-4.4 0l4.4-4.4M138.3 224.7h6.6m-3.3-3.3v6.6m-2.2-5.5l4.4 4.4m-4.4 0l4.4-4.4M125.6 272.9h6.6m-3.3-3.3v6.6m-2.2-5.5l4.4 4.4m-4.4 0l4.4-4.4M58.8 337.6h6.6m-3.3-3.3v6.6m-2.2-5.5l4.4 4.4m-4.4 0l4.4-4.4M60.4 357.8h6.6m-3.3-3.3v6.6m-2.2-5.5l4.4 4.4m-4.4 0l4.4-4.4M144.6 313.8h6.6m-3.3-3.3v6.6m-2.2-5.5l4.4 4.4m-4.4 0l4.4-4.4M45.2 302.1h6.6m-3.3-3.3v6.6m-2.2-5.5l4.4 4.4m-4.4 0l4.4-4.4M56.8 306.7h6.6m-3.3-3.3v6.6m-2.2-5.5l4.4 4.4m-4.4 0l4.4-4.4M59.3 265.1h6.6m-3.3-3.3v6.6m-2.2-5.5l4.4 4.4m-4.4 0l4.4-4.4M63 351.1h6.6m-3.3-3.3v6.6m-2.2-5.5l4.4 4.4m-4.4 0l4.4-4.4M47.9 254.1h6.6m-3.3-3.3v6.6m-2.2-5.5l4.4 4.4m-4.4 0l4.4-4.4M46.8 314.2h6.6m-3.3-3.3v6.6m-2.2-5.5l4.4 4.4m-4.4 0l4.4-4.4M51.9 308.9h6.6m-3.3-3.3v6.6m-2.2-5.5l4.4 4.4m-4.4 0l4.4-4.4M58.8 322.7h6.6m-3.3-3.3v6.6m-2.2-5.5l4.4 4.4m-4.4 0l4.4-4.4M45.1 285.8h6.6m-3.3-3.3v6.6m-2.2-5.5l4.4 4.4m-4.4 0l4.4-4.4M60.3 281.3h6.6m-3.3-3.3v6.6m-2.2-5.5l4.4 4.4m-4.4 0l4.4-4.4M173.7 234.2h6.6m-3.3-3.3v6.6m-2.2-5.5l4.4 4.4m-4.4 0l4.4-4.4M58.7 285.2h6.6m-3.3-3.3v6.6m-2.2-5.5l4.4 4.4m-4.4 0l4.4-4.4M131 273.1h6.6m-3.3-3.3v6.6m-2.2-5.5l4.4 4.4m-4.4 0l4.4-4.4M47.2 301.6h6.6m-3.3-3.3v6.6m-2.2-5.5l4.4 4.4m-4.4 0l4.4-4.4M50.5 287.2h6.6m-3.3-3.3v6.6m-2.2-5.5l4.4 4.4m-4.4 0l4.4-4.4M53.9 337.7h6.6m-3.3-3.3v6.6m-2.2-5.5l4.4 4.4m-4.4 0l4.4-4.4M55.8 354.1h6.6m-3.3-3.3v6.6m-2.2-5.5l4.4 4.4m-4.4 0l4.4-4.4M52.5 344.6h6.6m-3.3-3.3v6.6m-2.2-5.5l4.4 4.4m-4.4 0l4.4-4.4M125.9 271h6.6m-3.3-3.3v6.6m-2.2-5.5l4.4 4.4m-4.4 0l4.4-4.4M127.8 273.3h6.6m-3.3-3.3v6.6m-2.2-5.5l4.4 4.4m-4.4 0l4.4-4.4M52.6 344.2h6.6m-3.3-3.3v6.6m-2.2-5.5l4.4 4.4m-4.4 0l4.4-4.4M44.4 312.7h6.6m-3.3-3.3v6.6m-2.2-5.5l4.4 4.4m-4.4 0l4.4-4.4M120.3 309.7h6.6m-3.3-3.3v6.6m-2.2-5.5l4.4 4.4m-4.4 0l4.4-4.4M51.2 284.6h6.6m-3.3-3.3v6.6m-2.2-5.5l4.4 4.4m-4.4 0l4.4-4.4M167.4 260.1h6.6m-3.3-3.3v6.6m-2.2-5.5l4.4 4.4m-4.4 0l4.4-4.4M46.5 348.4h6.6m-3.3-3.3v6.6m-2.2-5.5l4.4 4.4m-4.4 0l4.4-4.4M118.1 338.9h6.6m-3.3-3.3v6.6m-2.2-5.5l4.4 4.4m-4.4 0l4.4-4.4M138.7 270.1h6.6m-3.3-3.3v6.6m-2.2-5.5l4.4 4.4m-4.4 0l4.4-4.4M48.9 302.5h6.6m-3.3-3.3v6.6m-2.2-5.5l4.4 4.4m-4.4 0l4.4-4.4M116.9 339.1h6.6m-3.3-3.3v6.6m-2.2-5.5l4.4 4.4m-4.4 0l4.4-4.4M50.7 282.7h6.6m-3.3-3.3v6.6m-2.2-5.5l4.4 4.4m-4.4 0l4.4-4.4M48.8 312.5h6.6m-3.3-3.3v6.6m-2.2-5.5l4.4 4.4m-4.4 0l4.4-4.4M137.4 265.8h6.6m-3.3-3.3v6.6m-2.2-5.5l4.4 4.4m-4.4 0l4.4-4.4M50.6 302.5h6.6m-3.3-3.3v6.6m-2.2-5.5l4.4 4.4m-4.4 0l4.4-4.4M54.5 333.5h6.6m-3.3-3.3v6.6m-2.2-5.5l4.4 4.4m-4.4 0l4.4-4.4M75.8 341.4h6.6m-3.3-3.3v6.6m-2.2-5.5l4.4 4.4m-4.4 0l4.4-4.4M50.5 260h6.6m-3.3-3.3v6.6m-2.2-5.5l4.4 4.4m-4.4 0l4.4-4.4M118 310.4h6.6m-3.3-3.3v6.6m-2.2-5.5l4.4 4.4m-4.4 0l4.4-4.4M51.7 281.9h6.6m-3.3-3.3v6.6m-2.2-5.5l4.4 4.4m-4.4 0l4.4-4.4M59.1 267.6h6.6m-3.3-3.3v6.6m-2.2-5.5l4.4 4.4m-4.4 0l4.4-4.4M126.3 277.2h6.6m-3.3-3.3v6.6m-2.2-5.5l4.4 4.4m-4.4 0l4.4-4.4M132.5 273.7h6.6m-3.3-3.3v6.6m-2.2-5.5l4.4 4.4m-4.4 0l4.4-4.4M57.6 331.1h6.6m-3.3-3.3v6.6m-2.2-5.5l4.4 4.4m-4.4 0l4.4-4.4M47.5 341.1h6.6m-3.3-3.3v6.6m-2.2-5.5l4.4 4.4m-4.4 0l4.4-4.4M170 235.2h6.6m-3.3-3.3v6.6m-2.2-5.5l4.4 4.4m-4.4 0l4.4-4.4M81.2 348.2h6.6m-3.3-3.3v6.6m-2.2-5.5l4.4 4.4m-4.4 0l4.4-4.4M135.2 265.5h6.6m-3.3-3.3v6.6m-2.2-5.5l4.4 4.4m-4.4 0l4.4-4.4M46.2 287.6h6.6m-3.3-3.3v6.6m-2.2-5.5l4.4 4.4m-4.4 0l4.4-4.4M74.4 346.2h6.6m-3.3-3.3v6.6m-2.2-5.5l4.4 4.4m-4.4 0l4.4-4.4M46.7 348.2h6.6m-3.3-3.3v6.6m-2.2-5.5l4.4 4.4m-4.4 0l4.4-4.4M123.9 265.9h6.6m-3.3-3.3v6.6m-2.2-5.5l4.4 4.4m-4.4 0l4.4-4.4M130.5 265.3h6.6m-3.3-3.3v6.6m-2.2-5.5l4.4 4.4m-4.4 0l4.4-4.4M43.9 290.2h6.6m-3.3-3.3v6.6m-2.2-5.5l4.4 4.4m-4.4 0l4.4-4.4M191.7 292.3h6.6m-3.3-3.3v6.6m-2.2-5.5l4.4 4.4m-4.4 0l4.4-4.4M129.3 263.1h6.6m-3.3-3.3v6.6m-2.2-5.5l4.4 4.4m-4.4 0l4.4-4.4M46.7 282.4h6.6m-3.3-3.3v6.6m-2.2-5.5l4.4 4.4m-4.4 0l4.4-4.4M73.8 343.4h6.6m-3.3-3.3v6.6m-2.2-5.5l4.4 4.4m-4.4 0l4.4-4.4M130.8 266.4h6.6m-3.3-3.3v6.6m-2.2-5.5l4.4 4.4m-4.4 0l4.4-4.4M53.1 342h6.6m-3.3-3.3v6.6m-2.2-5.5l4.4 4.4m-4.4 0l4.4-4.4M75.4 351h6.6m-3.3-3.3v6.6m-2.2-5.5l4.4 4.4m-4.4 0l4.4-4.4M127 272.5h6.6m-3.3-3.3v6.6m-2.2-5.5l4.4 4.4m-4.4 0l4.4-4.4M44.3 350.3h6.6m-3.3-3.3v6.6m-2.2-5.5l4.4 4.4m-4.4 0l4.4-4.4M87.2 294.2h6.6m-3.3-3.3v6.6m-2.2-5.5l4.4 4.4m-4.4 0l4.4-4.4M137.5 226h6.6m-3.3-3.3v6.6m-2.2-5.5l4.4 4.4m-4.4 0l4.4-4.4M128.6 271.8h6.6m-3.3-3.3v6.6m-2.2-5.5l4.4 4.4m-4.4 0l4.4-4.4M44.1 345.6h6.6m-3.3-3.3v6.6m-2.2-5.5l4.4 4.4m-4.4 0l4.4-4.4M133.2 276.1h6.6m-3.3-3.3v6.6m-2.2-5.5l4.4 4.4m-4.4 0l4.4-4.4M162.9 214.2h6.6m-3.3-3.3v6.6m-2.2-5.5l4.4 4.4m-4.4 0l4.4-4.4M50.9 344.3h6.6m-3.3-3.3v6.6m-2.2-5.5l4.4 4.4m-4.4 0l4.4-4.4M132.2 276.1h6.6m-3.3-3.3v6.6m-2.2-5.5l4.4 4.4m-4.4 0l4.4-4.4M150.6 244.3h6.6m-3.3-3.3v6.6m-2.2-5.5l4.4 4.4m-4.4 0l4.4-4.4M164.4 345.4h6.6m-3.3-3.3v6.6m-2.2-5.5l4.4 4.4m-4.4 0l4.4-4.4M85.5 240.7h6.6m-3.3-3.3v6.6m-2.2-5.5l4.4 4.4m-4.4 0l4.4-4.4M188.8 329.5h6.6m-3.3-3.3v6.6m-2.2-5.5l4.4 4.4m-4.4 0l4.4-4.4" stroke="#0000ff" stroke-width="1.0" fill="none" stroke-opacity="1.0"/>
<path d="M187.5 47.9l2.4 2.4-2.4 2.4-2.4-2.4zM182.2 58.5l2.4 2.4-2.4 2.4-2.4-2.4zM180.4 72.7l2.4 2.4-2.4 2.4-2.4-2.4zM186.7 72.2l2.4 2.4-2.4 2.4-2.4-2.4zM193.6 72.2l2.4 2.4-2.4 2.4-2.4-2.4zM176.4 82.1l2.4 2.4-2.4 2.4-2.4-2.4zM168.9 88.4l2.4 2.4-2.4 2.4-2.4-2.4zM190.7 89.4l2.4 2.4-2.4 2.4-2.4-2.4zM176.4 95.8l2.4 2.4-2.4 2.4-2.4-2.4zM207.3 55.8l2.4 2.4-2.4 2.4-2.4-2.4zM201.3 60.5l2.4 2.4-2.4 2.4-2.4-2.4zM225.1 60.3l2.4 2.4-2.4 2.4-2.4-2.4zM221.5 66.7l2.4 2.4-2.4 2.4-2.4-2.4zM201.3 69.1l2.4 2.4-2.4 2.4-2.4-2.4zM236 47.8l2.4 2.4-2.4 2.4-2.4-2.4zM249.6 41.6l2.4 2.4-2.4 2.4-2.4-2.4zM260 49.4l2.4 2.4-2.4 2.4-2.4-2.4zM264.9 44.5l2.4 2.4-2.4 2.4-2.4-2.4zM270 39.1l2.4 2.4-2.4 2.4-2.4-2.4zM272.4 53.2l2.4 2.4-2.4 2.4-2.4-2.4zM208.5 87.6l2.4 2.4-2.4 2.4-2.4-2.4zM214.2 86.9l2.4 2.4-2.4 2.4-2.4-2.4zM232.7 90l2.4 2.4-2.4 2.4-2.4-2.4zM233.6 92.7l2.4 2.4-2.4 2.4-2.4-2.4zM235.5 96.7l2.4 2.4-2.4 2.4-2.4-2.4zM216.4 96.3l2.4 2.4-2.4 2.4-2.4-2.4zM220.4 99.1l2.4 2.4-2.4 2.4-2.4-2.4zM254.9 90.3l2.4 2.4-2.4 2.4-2.4-2.4zM262.7 93.6l2.4 2.4-2.4 2.4-2.4-2.4zM279 87.2l2.4 2.4-2.4 2.4-2.4-2.4zM191.8 100.9l2.4 2.4-2.4 2.4-2.4-2.4zM196 102.3l2.4 2.4-2.4 2.4-2.4-2.4zM274.5 100l2.4 2.4-2.4 2.4-2.4-2.4zM300.9 36.3l2.4 2.4-2.4 2.4-2.4-2.4zM302.4 34.7l2.4 2.4-2.4 2.4-2.4-2.4zM313.6 35.8l2.4 2.4-2.4 2.4-2.4-2.4zM313.6 41.8l2.4 2.4-2.4 2.4-2.4-2.4zM317.6 45.4l2.4 2.4-2.4 2.4-2.4-2.4zM304.9 47.2l2.4 2.4-2.4 2.4-2.4-2.4zM328.5 44.1l2.4 2.4-2.4 2.4-2.4-2.4zM332.7 40l2.4 2.4-2.4 2.4-2.4-2.4zM283.1 61.8l2.4 2.4-2.4 2.4-2.4-2.4zM292.2 70l2.4 2.4-2.4 2.4-2.4-2.4zM337.3 55.4l2.4 2.4-2.4 2.4-2.4-2.4zM334.5 60.9l2.4 2.4-2.4 2.4-2.4-2.4zM336.4 61.8l2.4 2.4-2.4 2.4-2.4-2.4zM332.7 62.7l2.4 2.4-2.4 2.4-2.4-2.4zM328.2 61.8l2.4 2.4-2.4 2.4-2.4-2.4zM326.7 66.3l2.4 2.4-2.4 2.4-2.4-2.4zM322.7 66l2.4 2.4-2.4 2.4-2.4-2.4zM317.6 67.2l2.4 2.4-2.4 2.4-2.4-2.4zM312.7 71.8l2.4 2.4-2.4 2.4-2.4-2.4zM307.3 76.3l2.4 2.4-2.4 2.4-2.4-2.4zM306.4 78.1l2.4 2.4-2.4 2.4-2.4-2.4zM312.7 79.4l2.4 2.4-2.4 2.4-2.4-2.4zM302.7 80l2.4 2.4-2.4 2.4-2.4-2.4zM297.3 82.7l2.4 2.4-2.4 2.4-2.4-2.4zM318.2 84.5l2.4 2.4-2.4 2.4-2.4-2.4zM318.7 87.8l2.4 2.4-2.4 2.4-2.4-2.4zM331.8 85.1l2.4 2.4-2.4 2.4-2.4-2.4zM291.5 86.9l2.4 2.4-2.4 2.4-2.4-2.4zM292.7 90l2.4 2.4-2.4 2.4-2.4-2.4zM293.6 92.7l2.4 2.4-2.4 2.4-2.4-2.4zM286.7 91.4l2.4 2.4-2.4 2.4-2.4-2.4zM280.5 96l2.4 2.4-2.4 2.4-2.4-2.4zM298.7 96.9l2.4 2.4-2.4 2.4-2.4-2.4zM307.3 98.5l2.4 2.4-2.4 2.4-2.4-2.4zM340.5 103.6l2.4 2.4-2.4 2.4-2.4-2.4zM160 105.8l2.4 2.4-2.4 2.4-2.4-2.4zM158.2 108.9l2.4 2.4-2.4 2.4-2.4-2.4zM133.3 112.1l2.4 2.4-2.4 2.4-2.4-2.4zM143.1 110.3l2.4 2.4-2.4 2.4-2.4-2.4zM177.8 113.1l2.4 2.4-2.4 2.4-2.4-2.4zM164.2 118.5l2.4 2.4-2.4 2.4-2.4-2.4zM147.8 120.3l2.4 2.4-2.4 2.4-2.4-2.4zM134 123.4l2.4 2.4-2.4 2.4-2.4-2.4zM148.5 126.7l2.4 2.4-2.4 2.4-2.4-2.4zM160 126.3l2.4 2.4-2.4 2.4-2.4-2.4zM144.2 134.5l2.4 2.4-2.4 2.4-2.4-2.4zM168.5 134.5l2.4 2.4-2.4 2.4-2.4-2.4zM170 137.6l2.4 2.4-2.4 2.4-2.4-2.4zM173.6 140.7l2.4 2.4-2.4 2.4-2.4-2.4zM160 142.1l2.4 2.4-2.4 2.4-2.4-2.4zM155.1 144.5l2.4 2.4-2.4 2.4-2.4-2.4zM143.1 145.4l2.4 2.4-2.4 2.4-2.4-2.4zM171.5 145.4l2.4 2.4-2.4 2.4-2.4-2.4zM178.7 146.7l2.4 2.4-2.4 2.4-2.4-2.4zM182.7 148.5l2.4 2.4-2.4 2.4-2.4-2.4zM126 147.1l2.4 2.4-2.4 2.4-2.4-2.4zM107.3 155.8l2.4 2.4-2.4 2.4-2.4-2.4zM140.5 155.2l2.4 2.4-2.4 2.4-2.4-2.4zM161.8 154.9l2.4 2.4-2.4 2.4-2.4-2.4zM188.2 153.1l2.4 2.4-2.4 2.4-2.4-2.4zM220.5 104.9l2.4 2.4-2.4 2.4-2.4-2.4zM225.9 105.8l2.4 2.4-2.4 2.4-2.4-2.4zM250.8 105.8l2.4 2.4-2.4 2.4-2.4-2.4zM267.7 105.8l2.4 2.4-2.4 2.4-2.4-2.4zM203.2 110.3l2.4 2.4-2.4 2.4-2.4-2.4zM201.4 115.8l2.4 2.4-2.4 2.4-2.4-2.4zM198.6 120.3l2.4 2.4-2.4 2.4-2.4-2.4zM245.4 112.5l2.4 2.4-2.4 2.4-2.4-2.4zM254.1 117.2l2.4 2.4-2.4 2.4-2.4-2.4zM262.3 112.1l2.4 2.4-2.4 2.4-2.4-2.4zM278.6 114.3l2.4 2.4-2.4 2.4-2.4-2.4zM243.2 121.2l2.4 2.4-2.4 2.4-2.4-2.4zM245.9 124.9l2.4 2.4-2.4 2.4-2.4-2.4zM256.8 123.1l2.4 2.4-2.4 2.4-2.4-2.4zM259.5 124l2.4 2.4-2.4 2.4-2.4-2.4zM247.7 128.5l2.4 2.4-2.4 2.4-2.4-2.4zM231.4 123.1l2.4 2.4-2.4 2.4-2.4-2.4zM219.5 126.3l2.4 2.4-2.4 2.4-2.4-2.4zM224.1 130.3l2.4 2.4-2.4 2.4-2.4-2.4zM228.6 129.4l2.4 2.4-2.4 2.4-2.4-2.4zM201.4 128.9l2.4 2.4-2.4 2.4-2.4-2.4zM270.5 125.8l2.4 2.4-2.4 2.4-2.4-2.4zM272.3 129.4l2.4 2.4-2.4 2.4-2.4-2.4zM277.7 124.9l2.4 2.4-2.4 2.4-2.4-2.4zM279.5 127.6l2.4 2.4-2.4 2.4-2.4-2.4zM252.3 133.1l2.4 2.4-2.4 2.4-2.4-2.4zM274.1 135.8l2.4 2.4-2.4 2.4-2.4-2.4zM277.7 136.7l2.4 2.4-2.4 2.4-2.4-2.4zM239.5 133.1l2.4 2.4-2.4 2.4-2.4-2.4zM238.6 137.6l2.4 2.4-2.4 2.4-2.4-2.4zM214.1 133.1l2.4 2.4-2.4 2.4-2.4-2.4zM216.8 135.8l2.4 2.4-2.4 2.4-2.4-2.4zM224.1 134.9l2.4 2.4-2.4 2.4-2.4-2.4zM197.7 136.7l2.4 2.4-2.4 2.4-2.4-2.4zM210.5 139.4l2.4 2.4-2.4 2.4-2.4-2.4zM212.3 141.2l2.4 2.4-2.4 2.4-2.4-2.4zM217.7 140.3l2.4 2.4-2.4 2.4-2.4-2.4zM230.5 141.2l2.4 2.4-2.4 2.4-2.4-2.4zM233.2 140.3l2.4 2.4-2.4 2.4-2.4-2.4zM267.7 141.2l2.4 2.4-2.4 2.4-2.4-2.4zM270.5 144l2.4 2.4-2.4 2.4-2.4-2.4zM281.4 141.2l2.4 2.4-2.4 2.4-2.4-2.4zM200.5 146.3l2.4 2.4-2.4 2.4-2.4-2.4zM223.2 145.8l2.4 2.4-2.4 2.4-2.4-2.4zM226.8 144.9l2.4 2.4-2.4 2.4-2.4-2.4zM245.9 146.7l2.4 2.4-2.4 2.4-2.4-2.4zM251.4 147.6l2.4 2.4-2.4 2.4-2.4-2.4zM255 149.4l2.4 2.4-2.4 2.4-2.4-2.4zM265 150.3l2.4 2.4-2.4 2.4-2.4-2.4zM268.6 148.5l2.4 2.4-2.4 2.4-2.4-2.4zM235 149.4l2.4 2.4-2.4 2.4-2.4-2.4zM235.9 152.1l2.4 2.4-2.4 2.4-2.4-2.4zM219.5 152.1l2.4 2.4-2.4 2.4-2.4-2.4zM190.5 152.1l2.4 2.4-2.4 2.4-2.4-2.4zM186.8 155.8l2.4 2.4-2.4 2.4-2.4-2.4zM196.8 152.1l2.4 2.4-2.4 2.4-2.4-2.4zM199.5 150.3l2.4 2.4-2.4 2.4-2.4-2.4zM215.9 156.7l2.4 2.4-2.4 2.4-2.4-2.4zM225.9 156.1l2.4 2.4-2.4 2.4-2.4-2.4zM249.5 155.8l2.4 2.4-2.4 2.4-2.4-2.4zM253.2 158.5l2.4 2.4-2.4 2.4-2.4-2.4zM259.5 155.8l2.4 2.4-2.4 2.4-2.4-2.4zM264.1 158.5l2.4 2.4-2.4 2.4-2.4-2.4zM269.5 156.7l2.4 2.4-2.4 2.4-2.4-2.4zM275.9 157.6l2.4 2.4-2.4 2.4-2.4-2.4zM281.4 154l2.4 2.4-2.4 2.4-2.4-2.4zM206.8 165.8l2.4 2.4-2.4 2.4-2.4-2.4zM195 164l2.4 2.4-2.4 2.4-2.4-2.4zM224.1 164.9l2.4 2.4-2.4 2.4-2.4-2.4zM237.7 165.8l2.4 2.4-2.4 2.4-2.4-2.4zM248.6 164.9l2.4 2.4-2.4 2.4-2.4-2.4zM259.5 164.9l2.4 2.4-2.4 2.4-2.4-2.4zM268.6 164l2.4 2.4-2.4 2.4-2.4-2.4zM279.5 164.9l2.4 2.4-2.4 2.4-2.4-2.4zM185 159.4l2.4 2.4-2.4 2.4-2.4-2.4zM293.1 107.6l2.4 2.4-2.4 2.4-2.4-2.4zM305.1 107.6l2.4 2.4-2.4 2.4-2.4-2.4zM301.5 115.2l2.4 2.4-2.4 2.4-2.4-2.4zM313.6 123.1l2.4 2.4-2.4 2.4-2.4-2.4zM289.5 125.8l2.4 2.4-2.4 2.4-2.4-2.4zM301.5 130.3l2.4 2.4-2.4 2.4-2.4-2.4zM307.3 128.5l2.4 2.4-2.4 2.4-2.4-2.4zM310.9 131.2l2.4 2.4-2.4 2.4-2.4-2.4zM302.7 135.2l2.4 2.4-2.4 2.4-2.4-2.4zM309.5 136.7l2.4 2.4-2.4 2.4-2.4-2.4zM317.3 140.9l2.4 2.4-2.4 2.4-2.4-2.4zM296 141.8l2.4 2.4-2.4 2.4-2.4-2.4zM285.8 144.5l2.4 2.4-2.4 2.4-2.4-2.4zM297.3 146.7l2.4 2.4-2.4 2.4-2.4-2.4zM301.5 147.6l2.4 2.4-2.4 2.4-2.4-2.4zM284.5 149.4l2.4 2.4-2.4 2.4-2.4-2.4zM285.5 151.2l2.4 2.4-2.4 2.4-2.4-2.4zM282.7 155.8l2.4 2.4-2.4 2.4-2.4-2.4zM288.2 157.6l2.4 2.4-2.4 2.4-2.4-2.4zM300 160.3l2.4 2.4-2.4 2.4-2.4-2.4zM311.3 161.2l2.4 2.4-2.4 2.4-2.4-2.4zM281.8 161.2l2.4 2.4-2.4 2.4-2.4-2.4zM286.4 164l2.4 2.4-2.4 2.4-2.4-2.4zM305.5 165.2l2.4 2.4-2.4 2.4-2.4-2.4zM334.5 166.7l2.4 2.4-2.4 2.4-2.4-2.4zM284.5 169.9l2.4 2.4-2.4 2.4-2.4-2.4zM296.4 171.7l2.4 2.4-2.4 2.4-2.4-2.4zM293.6 175.3l2.4 2.4-2.4 2.4-2.4-2.4zM323.3 176.8l2.4 2.4-2.4 2.4-2.4-2.4zM328.7 175.3l2.4 2.4-2.4 2.4-2.4-2.4zM283.6 177.1l2.4 2.4-2.4 2.4-2.4-2.4zM282.7 181.7l2.4 2.4-2.4 2.4-2.4-2.4zM280.9 179.9l2.4 2.4-2.4 2.4-2.4-2.4zM286.4 189.5l2.4 2.4-2.4 2.4-2.4-2.4zM288.2 190.8l2.4 2.4-2.4 2.4-2.4-2.4zM285.5 192.6l2.4 2.4-2.4 2.4-2.4-2.4zM282.7 203l2.4 2.4-2.4 2.4-2.4-2.4zM289.5 204.1l2.4 2.4-2.4 2.4-2.4-2.4zM300.4 203.5l2.4 2.4-2.4 2.4-2.4-2.4zM300.4 215.7l2.4 2.4-2.4 2.4-2.4-2.4zM289.1 230.8l2.4 2.4-2.4 2.4-2.4-2.4zM273.6 239.4l2.4 2.4-2.4 2.4-2.4-2.4zM278.2 255.8l2.4 2.4-2.4 2.4-2.4-2.4zM284.2 255.2l2.4 2.4-2.4 2.4-2.4-2.4zM281.3 260.7l2.4 2.4-2.4 2.4-2.4-2.4zM297.3 254l2.4 2.4-2.4 2.4-2.4-2.4zM296.9 257.2l2.4 2.4-2.4 2.4-2.4-2.4zM290.9 264l2.4 2.4-2.4 2.4-2.4-2.4zM289.1 266.1l2.4 2.4-2.4 2.4-2.4-2.4zM307.3 262.5l2.4 2.4-2.4 2.4-2.4-2.4zM279.1 269.8l2.4 2.4-2.4 2.4-2.4-2.4zM270 266.7l2.4 2.4-2.4 2.4-2.4-2.4zM323.6 269.1l2.4 2.4-2.4 2.4-2.4-2.4zM361.5 271.6l2.4 2.4-2.4 2.4-2.4-2.4zM310.4 295.8l2.4 2.4-2.4 2.4-2.4-2.4zM384.9 277.8l2.4 2.4-2.4 2.4-2.4-2.4zM395.8 279.1l2.4 2.4-2.4 2.4-2.4-2.4zM401.6 277.8l2.4 2.4-2.4 2.4-2.4-2.4zM409.3 277.1l2.4 2.4-2.4 2.4-2.4-2.4zM291.5 334l2.4 2.4-2.4 2.4-2.4-2.4zM270.9 335.8l2.4 2.4-2.4 2.4-2.4-2.4zM279.1 344.9l2.4 2.4-2.4 2.4-2.4-2.4zM273.6 355.2l2.4 2.4-2.4 2.4-2.4-2.4zM275.5 358.1l2.4 2.4-2.4 2.4-2.4-2.4zM283.6 358.1l2.4 2.4-2.4 2.4-2.4-2.4zM288.2 358.1l2.4 2.4-2.4 2.4-2.4-2.4zM195.2 228.5l2.4 2.4-2.4 2.4-2.4-2.4zM202.9 228.5l2.4 2.4-2.4 2.4-2.4-2.4zM225.3 229l2.4 2.4-2.4 2.4-2.4-2.4zM246.8 230.7l2.4 2.4-2.4 2.4-2.4-2.4zM256.3 229l2.4 2.4-2.4 2.4-2.4-2.4zM206.9 234.8l2.4 2.4-2.4 2.4-2.4-2.4zM214.1 240l2.4 2.4-2.4 2.4-2.4-2.4zM221.8 238.8l2.4 2.4-2.4 2.4-2.4-2.4zM227 238.8l2.4 2.4-2.4 2.4-2.4-2.4zM232.2 236.2l2.4 2.4-2.4 2.4-2.4-2.4zM234.4 235.9l2.4 2.4-2.4 2.4-2.4-2.4zM231.3 243.1l2.4 2.4-2.4 2.4-2.4-2.4zM237.3 241.4l2.4 2.4-2.4 2.4-2.4-2.4zM240.8 243.1l2.4 2.4-2.4 2.4-2.4-2.4zM245.1 237.1l2.4 2.4-2.4 2.4-2.4-2.4zM249.4 236.2l2.4 2.4-2.4 2.4-2.4-2.4zM195.2 243.1l2.4 2.4-2.4 2.4-2.4-2.4zM197.7 245.7l2.4 2.4-2.4 2.4-2.4-2.4zM201.2 241.4l2.4 2.4-2.4 2.4-2.4-2.4zM208.1 246.5l2.4 2.4-2.4 2.4-2.4-2.4zM206.4 250l2.4 2.4-2.4 2.4-2.4-2.4zM207.2 253.4l2.4 2.4-2.4 2.4-2.4-2.4zM214.1 255.1l2.4 2.4-2.4 2.4-2.4-2.4zM191.7 256l2.4 2.4-2.4 2.4-2.4-2.4zM196 258.6l2.4 2.4-2.4 2.4-2.4-2.4zM201.2 258.6l2.4 2.4-2.4 2.4-2.4-2.4zM207.2 261.2l2.4 2.4-2.4 2.4-2.4-2.4zM195.2 263.7l2.4 2.4-2.4 2.4-2.4-2.4zM200.3 263.7l2.4 2.4-2.4 2.4-2.4-2.4zM205.5 264.6l2.4 2.4-2.4 2.4-2.4-2.4zM232.7 256.9l2.4 2.4-2.4 2.4-2.4-2.4zM235.1 259.4l2.4 2.4-2.4 2.4-2.4-2.4zM236.1 261.2l2.4 2.4-2.4 2.4-2.4-2.4zM240.8 254.8l2.4 2.4-2.4 2.4-2.4-2.4zM244.2 263.7l2.4 2.4-2.4 2.4-2.4-2.4zM265.7 259.4l2.4 2.4-2.4 2.4-2.4-2.4zM221.8 266.3l2.4 2.4-2.4 2.4-2.4-2.4zM227 266.8l2.4 2.4-2.4 2.4-2.4-2.4zM215 268.6l2.4 2.4-2.4 2.4-2.4-2.4zM217.5 271.5l2.4 2.4-2.4 2.4-2.4-2.4zM267.5 270.6l2.4 2.4-2.4 2.4-2.4-2.4zM190.9 271.5l2.4 2.4-2.4 2.4-2.4-2.4zM194.3 272.4l2.4 2.4-2.4 2.4-2.4-2.4zM208.9 274.1l2.4 2.4-2.4 2.4-2.4-2.4zM196.9 276.7l2.4 2.4-2.4 2.4-2.4-2.4zM211.5 278.4l2.4 2.4-2.4 2.4-2.4-2.4zM216.7 278.4l2.4 2.4-2.4 2.4-2.4-2.4zM225.3 280.1l2.4 2.4-2.4 2.4-2.4-2.4zM236.5 279.2l2.4 2.4-2.4 2.4-2.4-2.4zM233.9 282.7l2.4 2.4-2.4 2.4-2.4-2.4zM266.6 279.2l2.4 2.4-2.4 2.4-2.4-2.4zM252 282.7l2.4 2.4-2.4 2.4-2.4-2.4zM255.1 284.4l2.4 2.4-2.4 2.4-2.4-2.4zM251.1 289.6l2.4 2.4-2.4 2.4-2.4-2.4zM196.9 286.1l2.4 2.4-2.4 2.4-2.4-2.4zM200.3 287.8l2.4 2.4-2.4 2.4-2.4-2.4zM205.5 287l2.4 2.4-2.4 2.4-2.4-2.4zM193.4 283.5l2.4 2.4-2.4 2.4-2.4-2.4zM210.7 292.7l2.4 2.4-2.4 2.4-2.4-2.4zM225.3 293l2.4 2.4-2.4 2.4-2.4-2.4zM197.7 291.6l2.4 2.4-2.4 2.4-2.4-2.4zM210.7 166l2.4 2.4-2.4 2.4-2.4-2.4zM212.4 169.5l2.4 2.4-2.4 2.4-2.4-2.4zM229.6 168.6l2.4 2.4-2.4 2.4-2.4-2.4zM234.8 170.3l2.4 2.4-2.4 2.4-2.4-2.4zM239.9 169.5l2.4 2.4-2.4 2.4-2.4-2.4zM246.8 169.5l2.4 2.4-2.4 2.4-2.4-2.4zM251.1 165.2l2.4 2.4-2.4 2.4-2.4-2.4zM276.1 163.5l2.4 2.4-2.4 2.4-2.4-2.4zM202.9 172.1l2.4 2.4-2.4 2.4-2.4-2.4zM203.8 175.5l2.4 2.4-2.4 2.4-2.4-2.4zM217.5 172.1l2.4 2.4-2.4 2.4-2.4-2.4zM221.8 171.2l2.4 2.4-2.4 2.4-2.4-2.4zM238.2 174.6l2.4 2.4-2.4 2.4-2.4-2.4zM240.8 175.5l2.4 2.4-2.4 2.4-2.4-2.4zM262.3 172.1l2.4 2.4-2.4 2.4-2.4-2.4zM236.5 178.1l2.4 2.4-2.4 2.4-2.4-2.4zM191.7 176.4l2.4 2.4-2.4 2.4-2.4-2.4zM194.3 179.8l2.4 2.4-2.4 2.4-2.4-2.4zM197.7 179l2.4 2.4-2.4 2.4-2.4-2.4zM192.6 183.3l2.4 2.4-2.4 2.4-2.4-2.4zM190.9 186.7l2.4 2.4-2.4 2.4-2.4-2.4zM196 187.6l2.4 2.4-2.4 2.4-2.4-2.4zM199.5 190.1l2.4 2.4-2.4 2.4-2.4-2.4zM192.6 192.7l2.4 2.4-2.4 2.4-2.4-2.4zM197.7 196.2l2.4 2.4-2.4 2.4-2.4-2.4zM191.7 198.7l2.4 2.4-2.4 2.4-2.4-2.4zM195.2 201.3l2.4 2.4-2.4 2.4-2.4-2.4zM190.9 203.9l2.4 2.4-2.4 2.4-2.4-2.4zM194.3 207.3l2.4 2.4-2.4 2.4-2.4-2.4zM191.7 212.5l2.4 2.4-2.4 2.4-2.4-2.4zM196.9 214.2l2.4 2.4-2.4 2.4-2.4-2.4zM192.6 217.7l2.4 2.4-2.4 2.4-2.4-2.4zM190.9 222l2.4 2.4-2.4 2.4-2.4-2.4zM196 223.7l2.4 2.4-2.4 2.4-2.4-2.4zM199.5 227.1l2.4 2.4-2.4 2.4-2.4-2.4zM205.5 181.5l2.4 2.4-2.4 2.4-2.4-2.4zM207.2 185.8l2.4 2.4-2.4 2.4-2.4-2.4zM216.7 185l2.4 2.4-2.4 2.4-2.4-2.4zM224.4 181.5l2.4 2.4-2.4 2.4-2.4-2.4zM232.2 184.1l2.4 2.4-2.4 2.4-2.4-2.4zM221.8 189.3l2.4 2.4-2.4 2.4-2.4-2.4zM227 190.1l2.4 2.4-2.4 2.4-2.4-2.4zM217.5 193.6l2.4 2.4-2.4 2.4-2.4-2.4zM208.1 192.7l2.4 2.4-2.4 2.4-2.4-2.4zM222.7 194.4l2.4 2.4-2.4 2.4-2.4-2.4zM258.8 181.5l2.4 2.4-2.4 2.4-2.4-2.4zM258.8 189.3l2.4 2.4-2.4 2.4-2.4-2.4zM270.9 193.6l2.4 2.4-2.4 2.4-2.4-2.4zM276.1 196.2l2.4 2.4-2.4 2.4-2.4-2.4zM205.5 200.5l2.4 2.4-2.4 2.4-2.4-2.4zM225.3 200.5l2.4 2.4-2.4 2.4-2.4-2.4zM240.8 197.9l2.4 2.4-2.4 2.4-2.4-2.4zM236.5 201.8l2.4 2.4-2.4 2.4-2.4-2.4zM252 197.9l2.4 2.4-2.4 2.4-2.4-2.4zM265.7 198.7l2.4 2.4-2.4 2.4-2.4-2.4zM276.1 201.3l2.4 2.4-2.4 2.4-2.4-2.4zM214.1 203.9l2.4 2.4-2.4 2.4-2.4-2.4zM217.5 204.8l2.4 2.4-2.4 2.4-2.4-2.4zM205.5 207.3l2.4 2.4-2.4 2.4-2.4-2.4zM201.2 205.6l2.4 2.4-2.4 2.4-2.4-2.4zM267.5 208.2l2.4 2.4-2.4 2.4-2.4-2.4zM270.9 211.7l2.4 2.4-2.4 2.4-2.4-2.4zM276.1 205.6l2.4 2.4-2.4 2.4-2.4-2.4zM228.7 211.7l2.4 2.4-2.4 2.4-2.4-2.4zM230.4 213.4l2.4 2.4-2.4 2.4-2.4-2.4zM208.9 212.5l2.4 2.4-2.4 2.4-2.4-2.4zM214.1 215.1l2.4 2.4-2.4 2.4-2.4-2.4zM219.3 214.2l2.4 2.4-2.4 2.4-2.4-2.4zM204.6 217.7l2.4 2.4-2.4 2.4-2.4-2.4zM234.8 215.1l2.4 2.4-2.4 2.4-2.4-2.4zM239.9 217.7l2.4 2.4-2.4 2.4-2.4-2.4zM233 218.5l2.4 2.4-2.4 2.4-2.4-2.4zM250.2 218.5l2.4 2.4-2.4 2.4-2.4-2.4zM255.4 212.5l2.4 2.4-2.4 2.4-2.4-2.4zM258.8 217.7l2.4 2.4-2.4 2.4-2.4-2.4zM258 222.8l2.4 2.4-2.4 2.4-2.4-2.4zM252 224.6l2.4 2.4-2.4 2.4-2.4-2.4zM220.1 226.3l2.4 2.4-2.4 2.4-2.4-2.4zM202 221.1l2.4 2.4-2.4 2.4-2.4-2.4zM208.9 220.3l2.4 2.4-2.4 2.4-2.4-2.4zM131.2 161.4l2.4 2.4-2.4 2.4-2.4-2.4zM85.3 170.8l2.4 2.4-2.4 2.4-2.4-2.4zM107.7 175.1l2.4 2.4-2.4 2.4-2.4-2.4zM124.4 171.7l2.4 2.4-2.4 2.4-2.4-2.4zM95.1 179.4l2.4 2.4-2.4 2.4-2.4-2.4zM80.1 184.6l2.4 2.4-2.4 2.4-2.4-2.4zM67.2 184.6l2.4 2.4-2.4 2.4-2.4-2.4zM91 185.5l2.4 2.4-2.4 2.4-2.4-2.4zM106.8 183.4l2.4 2.4-2.4 2.4-2.4-2.4zM109.4 189.4l2.4 2.4-2.4 2.4-2.4-2.4zM120.6 185.8l2.4 2.4-2.4 2.4-2.4-2.4zM136.9 182.9l2.4 2.4-2.4 2.4-2.4-2.4zM58.6 193.2l2.4 2.4-2.4 2.4-2.4-2.4zM69.8 190.6l2.4 2.4-2.4 2.4-2.4-2.4zM70.7 195.8l2.4 2.4-2.4 2.4-2.4-2.4zM56.9 201l2.4 2.4-2.4 2.4-2.4-2.4zM62.9 203.5l2.4 2.4-2.4 2.4-2.4-2.4zM75 203.5l2.4 2.4-2.4 2.4-2.4-2.4zM81.8 201l2.4 2.4-2.4 2.4-2.4-2.4zM68.1 209.6l2.4 2.4-2.4 2.4-2.4-2.4zM59.5 212.1l2.4 2.4-2.4 2.4-2.4-2.4zM94.4 206.6l2.4 2.4-2.4 2.4-2.4-2.4zM118 193.2l2.4 2.4-2.4 2.4-2.4-2.4zM115.4 195.8l2.4 2.4-2.4 2.4-2.4-2.4zM112 200.1l2.4 2.4-2.4 2.4-2.4-2.4zM118.8 199.2l2.4 2.4-2.4 2.4-2.4-2.4zM110.2 204.4l2.4 2.4-2.4 2.4-2.4-2.4zM116.3 207l2.4 2.4-2.4 2.4-2.4-2.4zM122.3 202.7l2.4 2.4-2.4 2.4-2.4-2.4zM126.6 199.2l2.4 2.4-2.4 2.4-2.4-2.4zM130.9 204.4l2.4 2.4-2.4 2.4-2.4-2.4zM132.6 197.5l2.4 2.4-2.4 2.4-2.4-2.4zM136.1 199.2l2.4 2.4-2.4 2.4-2.4-2.4zM137.8 204.4l2.4 2.4-2.4 2.4-2.4-2.4zM113.7 211.3l2.4 2.4-2.4 2.4-2.4-2.4zM118.8 213l2.4 2.4-2.4 2.4-2.4-2.4zM124 209.6l2.4 2.4-2.4 2.4-2.4-2.4zM130.9 213l2.4 2.4-2.4 2.4-2.4-2.4zM137.8 211.3l2.4 2.4-2.4 2.4-2.4-2.4zM134.3 188.9l2.4 2.4-2.4 2.4-2.4-2.4zM145.5 166.8l2.4 2.4-2.4 2.4-2.4-2.4zM159.1 168.5l2.4 2.4-2.4 2.4-2.4-2.4zM153.6 173.3l2.4 2.4-2.4 2.4-2.4-2.4zM157.7 172.6l2.4 2.4-2.4 2.4-2.4-2.4zM159.7 174.6l2.4 2.4-2.4 2.4-2.4-2.4zM167.6 169l2.4 2.4-2.4 2.4-2.4-2.4zM168.5 172.6l2.4 2.4-2.4 2.4-2.4-2.4zM171.9 163.8l2.4 2.4-2.4 2.4-2.4-2.4zM166.5 178.7l2.4 2.4-2.4 2.4-2.4-2.4zM161.8 180l2.4 2.4-2.4 2.4-2.4-2.4zM142.2 179.4l2.4 2.4-2.4 2.4-2.4-2.4zM146.9 180l2.4 2.4-2.4 2.4-2.4-2.4zM142.8 186.8l2.4 2.4-2.4 2.4-2.4-2.4zM148.2 188.1l2.4 2.4-2.4 2.4-2.4-2.4zM150.3 189.5l2.4 2.4-2.4 2.4-2.4-2.4zM146.2 190.8l2.4 2.4-2.4 2.4-2.4-2.4zM158.4 190.8l2.4 2.4-2.4 2.4-2.4-2.4zM169.2 188.1l2.4 2.4-2.4 2.4-2.4-2.4zM173.9 180l2.4 2.4-2.4 2.4-2.4-2.4zM176.6 181.4l2.4 2.4-2.4 2.4-2.4-2.4zM180 183.4l2.4 2.4-2.4 2.4-2.4-2.4zM183.4 182.7l2.4 2.4-2.4 2.4-2.4-2.4zM173.2 192.2l2.4 2.4-2.4 2.4-2.4-2.4zM152.3 198.3l2.4 2.4-2.4 2.4-2.4-2.4zM159.1 199.6l2.4 2.4-2.4 2.4-2.4-2.4zM163.8 198.3l2.4 2.4-2.4 2.4-2.4-2.4zM169.9 199l2.4 2.4-2.4 2.4-2.4-2.4zM177.3 148.3l2.4 2.4-2.4 2.4-2.4-2.4zM188.1 158.4l2.4 2.4-2.4 2.4-2.4-2.4zM194.9 155.7l2.4 2.4-2.4 2.4-2.4-2.4zM180 162.5l2.4 2.4-2.4 2.4-2.4-2.4zM184.1 165.8l2.4 2.4-2.4 2.4-2.4-2.4zM188.1 166.5l2.4 2.4-2.4 2.4-2.4-2.4zM197.6 166.5l2.4 2.4-2.4 2.4-2.4-2.4zM182 171.2l2.4 2.4-2.4 2.4-2.4-2.4zM189.5 171.2l2.4 2.4-2.4 2.4-2.4-2.4zM193.5 177.3l2.4 2.4-2.4 2.4-2.4-2.4zM197.6 176l2.4 2.4-2.4 2.4-2.4-2.4zM190.1 182.1l2.4 2.4-2.4 2.4-2.4-2.4zM188.1 190.8l2.4 2.4-2.4 2.4-2.4-2.4zM192.2 189.5l2.4 2.4-2.4 2.4-2.4-2.4zM186.8 194.9l2.4 2.4-2.4 2.4-2.4-2.4zM193.5 196.2l2.4 2.4-2.4 2.4-2.4-2.4zM197.6 199l2.4 2.4-2.4 2.4-2.4-2.4zM183.4 200.3l2.4 2.4-2.4 2.4-2.4-2.4zM209.2 306.1l2.4 2.4-2.4 2.4-2.4-2.4zM217.5 311.6l2.4 2.4-2.4 2.4-2.4-2.4zM216.6 314.4l2.4 2.4-2.4 2.4-2.4-2.4zM229.5 315.3l2.4 2.4-2.4 2.4-2.4-2.4zM228.6 319.9l2.4 2.4-2.4 2.4-2.4-2.4zM213.3 320.8l2.4 2.4-2.4 2.4-2.4-2.4zM240.2 323.2l2.4 2.4-2.4 2.4-2.4-2.4zM253.5 319.3l2.4 2.4-2.4 2.4-2.4-2.4zM206.5 330.4l2.4 2.4-2.4 2.4-2.4-2.4zM257.2 338.3l2.4 2.4-2.4 2.4-2.4-2.4zM259.4 337l2.4 2.4-2.4 2.4-2.4-2.4zM200.9 347.6l2.4 2.4-2.4 2.4-2.4-2.4zM208.3 350.3l2.4 2.4-2.4 2.4-2.4-2.4zM216.6 351.3l2.4 2.4-2.4 2.4-2.4-2.4zM253.5 350l2.4 2.4-2.4 2.4-2.4-2.4zM264.6 354l2.4 2.4-2.4 2.4-2.4-2.4zM48.6 184l2.4 2.4-2.4 2.4-2.4-2.4zM50.3 186.5l2.4 2.4-2.4 2.4-2.4-2.4zM52.9 189.1l2.4 2.4-2.4 2.4-2.4-2.4zM51.2 195.1l2.4 2.4-2.4 2.4-2.4-2.4zM50.3 214.1l2.4 2.4-2.4 2.4-2.4-2.4zM52.9 216.7l2.4 2.4-2.4 2.4-2.4-2.4zM53.8 220.1l2.4 2.4-2.4 2.4-2.4-2.4zM50.3 222.7l2.4 2.4-2.4 2.4-2.4-2.4zM49.5 227l2.4 2.4-2.4 2.4-2.4-2.4zM55.5 225.3l2.4 2.4-2.4 2.4-2.4-2.4zM59.8 224.4l2.4 2.4-2.4 2.4-2.4-2.4zM52 231.3l2.4 2.4-2.4 2.4-2.4-2.4zM57.2 233.9l2.4 2.4-2.4 2.4-2.4-2.4zM62.4 229.6l2.4 2.4-2.4 2.4-2.4-2.4zM67.5 229.6l2.4 2.4-2.4 2.4-2.4-2.4zM71 224.4l2.4 2.4-2.4 2.4-2.4-2.4zM74.4 228.7l2.4 2.4-2.4 2.4-2.4-2.4zM89.9 224.4l2.4 2.4-2.4 2.4-2.4-2.4zM86.5 228.7l2.4 2.4-2.4 2.4-2.4-2.4zM96.8 227.8l2.4 2.4-2.4 2.4-2.4-2.4zM102 230.4l2.4 2.4-2.4 2.4-2.4-2.4zM108 226.1l2.4 2.4-2.4 2.4-2.4-2.4zM47.4 171.9l2.4 2.4-2.4 2.4-2.4-2.4zM47.4 175l2.4 2.4-2.4 2.4-2.4-2.4zM47.4 177.8l2.4 2.4-2.4 2.4-2.4-2.4zM47.4 181.7l2.4 2.4-2.4 2.4-2.4-2.4zM47.4 184.3l2.4 2.4-2.4 2.4-2.4-2.4zM47.4 187.9l2.4 2.4-2.4 2.4-2.4-2.4zM47.4 191.1l2.4 2.4-2.4 2.4-2.4-2.4zM47.4 193.7l2.4 2.4-2.4 2.4-2.4-2.4zM47.4 197.2l2.4 2.4-2.4 2.4-2.4-2.4zM47.4 199.8l2.4 2.4-2.4 2.4-2.4-2.4zM47.4 203.2l2.4 2.4-2.4 2.4-2.4-2.4zM47.4 205.8l2.4 2.4-2.4 2.4-2.4-2.4zM47.4 208.5l2.4 2.4-2.4 2.4-2.4-2.4zM47.4 211.8l2.4 2.4-2.4 2.4-2.4-2.4zM47.4 216l2.4 2.4-2.4 2.4-2.4-2.4zM47.4 218.7l2.4 2.4-2.4 2.4-2.4-2.4zM47.4 221.7l2.4 2.4-2.4 2.4-2.4-2.4zM47.4 225.4l2.4 2.4-2.4 2.4-2.4-2.4zM47.4 229.8l2.4 2.4-2.4 2.4-2.4-2.4zM47.4 233.5l2.4 2.4-2.4 2.4-2.4-2.4zM47.4 236.8l2.4 2.4-2.4 2.4-2.4-2.4zM47.4 241.2l2.4 2.4-2.4 2.4-2.4-2.4zM47.4 243.8l2.4 2.4-2.4 2.4-2.4-2.4zM47.4 246.6l2.4 2.4-2.4 2.4-2.4-2.4zM47.4 248.6l2.4 2.4-2.4 2.4-2.4-2.4zM47.4 250.3l2.4 2.4-2.4 2.4-2.4-2.4zM47.4 251.9l2.4 2.4-2.4 2.4-2.4-2.4zM47.4 253.9l2.4 2.4-2.4 2.4-2.4-2.4zM47.4 256.6l2.4 2.4-2.4 2.4-2.4-2.4zM47.4 258.4l2.4 2.4-2.4 2.4-2.4-2.4zM47.4 260.8l2.4 2.4-2.4 2.4-2.4-2.4zM47.4 263.2l2.4 2.4-2.4 2.4-2.4-2.4zM47.4 265.3l2.4 2.4-2.4 2.4-2.4-2.4zM47.4 267.6l2.4 2.4-2.4 2.4-2.4-2.4zM47.4 269.2l2.4 2.4-2.4 2.4-2.4-2.4zM47.4 270.8l2.4 2.4-2.4 2.4-2.4-2.4zM47.4 272.6l2.4 2.4-2.4 2.4-2.4-2.4zM47.4 275.1l2.4 2.4-2.4 2.4-2.4-2.4zM47.4 277.3l2.4 2.4-2.4 2.4-2.4-2.4zM47.4 279.2l2.4 2.4-2.4 2.4-2.4-2.4zM47.4 281.6l2.4 2.4-2.4 2.4-2.4-2.4zM47.4 283.8l2.4 2.4-2.4 2.4-2.4-2.4zM47.4 285.8l2.4 2.4-2.4 2.4-2.4-2.4zM47.4 288.4l2.4 2.4-2.4 2.4-2.4-2.4zM47.4 291l2.4 2.4-2.4 2.4-2.4-2.4zM47.4 292.9l2.4 2.4-2.4 2.4-2.4-2.4zM47.4 295.2l2.4 2.4-2.4 2.4-2.4-2.4zM47.4 297.5l2.4 2.4-2.4 2.4-2.4-2.4zM47.4 300.3l2.4 2.4-2.4 2.4-2.4-2.4zM47.4 302.9l2.4 2.4-2.4 2.4-2.4-2.4zM47.4 304.8l2.4 2.4-2.4 2.4-2.4-2.4zM47.4 307.8l2.4 2.4-2.4 2.4-2.4-2.4zM47.4 309.5l2.4 2.4-2.4 2.4-2.4-2.4zM47.4 311.6l2.4 2.4-2.4 2.4-2.4-2.4zM47.4 314.3l2.4 2.4-2.4 2.4-2.4-2.4zM47.4 316l2.4 2.4-2.4 2.4-2.4-2.4zM47.4 318.2l2.4 2.4-2.4 2.4-2.4-2.4zM47.4 319.8l2.4 2.4-2.4 2.4-2.4-2.4zM47.4 322.3l2.4 2.4-2.4 2.4-2.4-2.4zM47.4 324.9l2.4 2.4-2.4 2.4-2.4-2.4zM47.4 327.3l2.4 2.4-2.4 2.4-2.4-2.4zM47.4 330.1l2.4 2.4-2.4 2.4-2.4-2.4zM47.4 332.1l2.4 2.4-2.4 2.4-2.4-2.4zM47.4 334.6l2.4 2.4-2.4 2.4-2.4-2.4zM47.4 337l2.4 2.4-2.4 2.4-2.4-2.4zM47.4 339.4l2.4 2.4-2.4 2.4-2.4-2.4zM47.4 341.6l2.4 2.4-2.4 2.4-2.4-2.4zM47.4 344.3l2.4 2.4-2.4 2.4-2.4-2.4zM47.4 347.2l2.4 2.4-2.4 2.4-2.4-2.4zM47.4 349.4l2.4 2.4-2.4 2.4-2.4-2.4zM47.4 351.9l2.4 2.4-2.4 2.4-2.4-2.4zM47.4 353.5l2.4 2.4-2.4 2.4-2.4-2.4zM47.4 356.1l2.4 2.4-2.4 2.4-2.4-2.4zM47.4 358.6l2.4 2.4-2.4 2.4-2.4-2.4zM47.4 358.8l2.4 2.4-2.4 2.4-2.4-2.4zM49.7 358.8l2.4 2.4-2.4 2.4-2.4-2.4zM51.2 358.8l2.4 2.4-2.4 2.4-2.4-2.4zM52.9 358.8l2.4 2.4-2.4 2.4-2.4-2.4zM55 358.8l2.4 2.4-2.4 2.4-2.4-2.4zM56.2 358.8l2.4 2.4-2.4 2.4-2.4-2.4zM58 358.8l2.4 2.4-2.4 2.4-2.4-2.4zM59.5 358.8l2.4 2.4-2.4 2.4-2.4-2.4zM60.8 358.8l2.4 2.4-2.4 2.4-2.4-2.4zM62.1 358.8l2.4 2.4-2.4 2.4-2.4-2.4zM64.3 358.8l2.4 2.4-2.4 2.4-2.4-2.4zM65.7 358.8l2.4 2.4-2.4 2.4-2.4-2.4zM67.2 358.8l2.4 2.4-2.4 2.4-2.4-2.4zM68.9 358.8l2.4 2.4-2.4 2.4-2.4-2.4zM71.2 358.8l2.4 2.4-2.4 2.4-2.4-2.4zM72.5 358.8l2.4 2.4-2.4 2.4-2.4-2.4zM74.3 358.8l2.4 2.4-2.4 2.4-2.4-2.4zM76.2 358.8l2.4 2.4-2.4 2.4-2.4-2.4zM78.6 358.8l2.4 2.4-2.4 2.4-2.4-2.4zM80.8 358.8l2.4 2.4-2.4 2.4-2.4-2.4zM83.2 358.8l2.4 2.4-2.4 2.4-2.4-2.4zM84.7 358.8l2.4 2.4-2.4 2.4-2.4-2.4zM86.5 358.8l2.4 2.4-2.4 2.4-2.4-2.4zM88.1 358.8l2.4 2.4-2.4 2.4-2.4-2.4zM90.5 358.8l2.4 2.4-2.4 2.4-2.4-2.4zM92.9 358.8l2.4 2.4-2.4 2.4-2.4-2.4zM94.3 358.8l2.4 2.4-2.4 2.4-2.4-2.4zM95.7 358.8l2.4 2.4-2.4 2.4-2.4-2.4zM97.2 358.8l2.4 2.4-2.4 2.4-2.4-2.4zM98.7 358.8l2.4 2.4-2.4 2.4-2.4-2.4zM100.6 358.8l2.4 2.4-2.4 2.4-2.4-2.4zM102.5 358.8l2.4 2.4-2.4 2.4-2.4-2.4zM104.1 358.8l2.4 2.4-2.4 2.4-2.4-2.4zM105.3 358.8l2.4 2.4-2.4 2.4-2.4-2.4zM107 358.8l2.4 2.4-2.4 2.4-2.4-2.4zM108.7 358.8l2.4 2.4-2.4 2.4-2.4-2.4zM110.7 358.8l2.4 2.4-2.4 2.4-2.4-2.4zM113.1 358.8l2.4 2.4-2.4 2.4-2.4-2.4zM115.2 358.8l2.4 2.4-2.4 2.4-2.4-2.4zM117.1 358.8l2.4 2.4-2.4 2.4-2.4-2.4zM119.1 358.8l2.4 2.4-2.4 2.4-2.4-2.4zM121.1 358.8l2.4 2.4-2.4 2.4-2.4-2.4zM122.4 358.8l2.4 2.4-2.4 2.4-2.4-2.4zM124.8 358.8l2.4 2.4-2.4 2.4-2.4-2.4zM127 358.8l2.4 2.4-2.4 2.4-2.4-2.4zM129.3 358.8l2.4 2.4-2.4 2.4-2.4-2.4zM131.6 358.8l2.4 2.4-2.4 2.4-2.4-2.4zM133.3 358.8l2.4 2.4-2.4 2.4-2.4-2.4zM135 358.8l2.4 2.4-2.4 2.4-2.4-2.4zM136.3 358.8l2.4 2.4-2.4 2.4-2.4-2.4zM138.4 358.8l2.4 2.4-2.4 2.4-2.4-2.4zM139.6 358.8l2.4 2.4-2.4 2.4-2.4-2.4zM140.9 358.8l2.4 2.4-2.4 2.4-2.4-2.4zM142.4 358.8l2.4 2.4-2.4 2.4-2.4-2.4zM143.8 358.8l2.4 2.4-2.4 2.4-2.4-2.4zM145.4 358.8l2.4 2.4-2.4 2.4-2.4-2.4zM146.7 358.8l2.4 2.4-2.4 2.4-2.4-2.4zM147.9 358.8l2.4 2.4-2.4 2.4-2.4-2.4zM149.3 358.8l2.4 2.4-2.4 2.4-2.4-2.4zM150.6 358.8l2.4 2.4-2.4 2.4-2.4-2.4zM152.3 358.8l2.4 2.4-2.4 2.4-2.4-2.4zM153.6 358.8l2.4 2.4-2.4 2.4-2.4-2.4zM155.9 358.8l2.4 2.4-2.4 2.4-2.4-2.4zM157.9 358.8l2.4 2.4-2.4 2.4-2.4-2.4zM159.3 358.8l2.4 2.4-2.4 2.4-2.4-2.4zM160.8 358.8l2.4 2.4-2.4 2.4-2.4-2.4zM162.5 358.8l2.4 2.4-2.4 2.4-2.4-2.4zM164.1 358.8l2.4 2.4-2.4 2.4-2.4-2.4zM165.5 358.8l2.4 2.4-2.4 2.4-2.4-2.4zM167.8 358.8l2.4 2.4-2.4 2.4-2.4-2.4zM170.3 358.8l2.4 2.4-2.4 2.4-2.4-2.4zM172.1 358.8l2.4 2.4-2.4 2.4-2.4-2.4zM173.9 358.8l2.4 2.4-2.4 2.4-2.4-2.4zM175.2 358.8l2.4 2.4-2.4 2.4-2.4-2.4zM176.6 358.8l2.4 2.4-2.4 2.4-2.4-2.4zM178.2 358.8l2.4 2.4-2.4 2.4-2.4-2.4zM179.8 358.8l2.4 2.4-2.4 2.4-2.4-2.4zM182 358.8l2.4 2.4-2.4 2.4-2.4-2.4zM183.4 358.8l2.4 2.4-2.4 2.4-2.4-2.4zM184.7 358.8l2.4 2.4-2.4 2.4-2.4-2.4zM187.1 358.8l2.4 2.4-2.4 2.4-2.4-2.4zM189 358.8l2.4 2.4-2.4 2.4-2.4-2.4zM190.4 358.8l2.4 2.4-2.4 2.4-2.4-2.4zM192.3 358.8l2.4 2.4-2.4 2.4-2.4-2.4zM193.5 358.8l2.4 2.4-2.4 2.4-2.4-2.4zM195.4 358.8l2.4 2.4-2.4 2.4-2.4-2.4zM197.9 358.8l2.4 2.4-2.4 2.4-2.4-2.4zM200.2 358.8l2.4 2.4-2.4 2.4-2.4-2.4zM202.3 358.8l2.4 2.4-2.4 2.4-2.4-2.4zM203.9 358.8l2.4 2.4-2.4 2.4-2.4-2.4zM205.5 358.8l2.4 2.4-2.4 2.4-2.4-2.4zM206.9 358.8l2.4 2.4-2.4 2.4-2.4-2.4zM209.2 358.8l2.4 2.4-2.4 2.4-2.4-2.4zM211 358.8l2.4 2.4-2.4 2.4-2.4-2.4zM213.3 358.8l2.4 2.4-2.4 2.4-2.4-2.4zM214.9 358.8l2.4 2.4-2.4 2.4-2.4-2.4zM217.4 358.8l2.4 2.4-2.4 2.4-2.4-2.4zM221.5 358.8l2.4 2.4-2.4 2.4-2.4-2.4zM225.9 358.8l2.4 2.4-2.4 2.4-2.4-2.4zM230.1 358.8l2.4 2.4-2.4 2.4-2.4-2.4zM234.1 358.8l2.4 2.4-2.4 2.4-2.4-2.4zM238.1 358.8l2.4 2.4-2.4 2.4-2.4-2.4zM242 358.8l2.4 2.4-2.4 2.4-2.4-2.4zM244.5 358.8l2.4 2.4-2.4 2.4-2.4-2.4zM247.8 358.8l2.4 2.4-2.4 2.4-2.4-2.4zM250.7 358.8l2.4 2.4-2.4 2.4-2.4-2.4zM252.8 358.8l2.4 2.4-2.4 2.4-2.4-2.4zM254.9 358.8l2.4 2.4-2.4 2.4-2.4-2.4zM257.6 358.8l2.4 2.4-2.4 2.4-2.4-2.4zM260.2 358.8l2.4 2.4-2.4 2.4-2.4-2.4zM263.9 358.8l2.4 2.4-2.4 2.4-2.4-2.4zM268.3 358.8l2.4 2.4-2.4 2.4-2.4-2.4zM271.5 358.8l2.4 2.4-2.4 2.4-2.4-2.4zM275.8 358.8l2.4 2.4-2.4 2.4-2.4-2.4zM280.3 358.8l2.4 2.4-2.4 2.4-2.4-2.4zM284.7 358.8l2.4 2.4-2.4 2.4-2.4-2.4zM287.6 358.8l2.4 2.4-2.4 2.4-2.4-2.4zM288.6 358.8l2.4 2.4-2.4 2.4-2.4-2.4zM47.4 355l2.4 2.4-2.4 2.4-2.4-2.4zM49.3 354.9l2.4 2.4-2.4 2.4-2.4-2.4zM52 357.7l2.4 2.4-2.4 2.4-2.4-2.4zM55.2 356l2.4 2.4-2.4 2.4-2.4-2.4zM58 357.3l2.4 2.4-2.4 2.4-2.4-2.4zM59.7 356.7l2.4 2.4-2.4 2.4-2.4-2.4zM63 357.2l2.4 2.4-2.4 2.4-2.4-2.4zM66 356l2.4 2.4-2.4 2.4-2.4-2.4zM67.9 357.3l2.4 2.4-2.4 2.4-2.4-2.4zM70 357.3l2.4 2.4-2.4 2.4-2.4-2.4zM73.5 355.7l2.4 2.4-2.4 2.4-2.4-2.4zM75.8 357.9l2.4 2.4-2.4 2.4-2.4-2.4zM78.7 354.8l2.4 2.4-2.4 2.4-2.4-2.4zM80.5 354.7l2.4 2.4-2.4 2.4-2.4-2.4zM83.8 357.3l2.4 2.4-2.4 2.4-2.4-2.4zM85.6 357.4l2.4 2.4-2.4 2.4-2.4-2.4zM89.1 356.7l2.4 2.4-2.4 2.4-2.4-2.4zM91.3 356.3l2.4 2.4-2.4 2.4-2.4-2.4zM93 354.2l2.4 2.4-2.4 2.4-2.4-2.4zM96.5 356.7l2.4 2.4-2.4 2.4-2.4-2.4zM99 357.8l2.4 2.4-2.4 2.4-2.4-2.4zM101.4 357.6l2.4 2.4-2.4 2.4-2.4-2.4zM104.5 354.9l2.4 2.4-2.4 2.4-2.4-2.4zM106.5 355.3l2.4 2.4-2.4 2.4-2.4-2.4zM108.5 356.4l2.4 2.4-2.4 2.4-2.4-2.4zM110.5 355.8l2.4 2.4-2.4 2.4-2.4-2.4zM112.3 357.7l2.4 2.4-2.4 2.4-2.4-2.4zM114.5 355.9l2.4 2.4-2.4 2.4-2.4-2.4zM117.2 357.7l2.4 2.4-2.4 2.4-2.4-2.4zM119.5 357.8l2.4 2.4-2.4 2.4-2.4-2.4zM122 356.2l2.4 2.4-2.4 2.4-2.4-2.4zM124.6 354.2l2.4 2.4-2.4 2.4-2.4-2.4zM126.9 354.8l2.4 2.4-2.4 2.4-2.4-2.4zM128.4 357.3l2.4 2.4-2.4 2.4-2.4-2.4zM130.3 356l2.4 2.4-2.4 2.4-2.4-2.4zM133.2 356.3l2.4 2.4-2.4 2.4-2.4-2.4zM135.4 356.2l2.4 2.4-2.4 2.4-2.4-2.4zM138 357.2l2.4 2.4-2.4 2.4-2.4-2.4zM139.7 356.3l2.4 2.4-2.4 2.4-2.4-2.4zM141.7 355.2l2.4 2.4-2.4 2.4-2.4-2.4zM144.8 356.1l2.4 2.4-2.4 2.4-2.4-2.4zM147.4 357.1l2.4 2.4-2.4 2.4-2.4-2.4zM150.7 355.9l2.4 2.4-2.4 2.4-2.4-2.4zM153.4 356.1l2.4 2.4-2.4 2.4-2.4-2.4zM156 356.9l2.4 2.4-2.4 2.4-2.4-2.4zM158.4 356.2l2.4 2.4-2.4 2.4-2.4-2.4zM160.8 357.9l2.4 2.4-2.4 2.4-2.4-2.4zM163.7 357.6l2.4 2.4-2.4 2.4-2.4-2.4zM167.1 355.1l2.4 2.4-2.4 2.4-2.4-2.4zM169.7 357.9l2.4 2.4-2.4 2.4-2.4-2.4zM172.9 354.6l2.4 2.4-2.4 2.4-2.4-2.4zM174.6 355.9l2.4 2.4-2.4 2.4-2.4-2.4zM176.3 355.1l2.4 2.4-2.4 2.4-2.4-2.4zM177.9 356.8l2.4 2.4-2.4 2.4-2.4-2.4zM181 357.7l2.4 2.4-2.4 2.4-2.4-2.4zM182.8 357l2.4 2.4-2.4 2.4-2.4-2.4zM185.6 354.7l2.4 2.4-2.4 2.4-2.4-2.4zM188.9 358l2.4 2.4-2.4 2.4-2.4-2.4zM190.8 357.9l2.4 2.4-2.4 2.4-2.4-2.4zM193.1 356l2.4 2.4-2.4 2.4-2.4-2.4zM196.6 357.4l2.4 2.4-2.4 2.4-2.4-2.4zM198.4 355.8l2.4 2.4-2.4 2.4-2.4-2.4zM201 355.5l2.4 2.4-2.4 2.4-2.4-2.4zM202.9 355.4l2.4 2.4-2.4 2.4-2.4-2.4zM205.8 354.2l2.4 2.4-2.4 2.4-2.4-2.4zM208.4 355.9l2.4 2.4-2.4 2.4-2.4-2.4zM209.9 355.4l2.4 2.4-2.4 2.4-2.4-2.4zM212.7 356.1l2.4 2.4-2.4 2.4-2.4-2.4zM214.3 358l2.4 2.4-2.4 2.4-2.4-2.4zM217.4 358l2.4 2.4-2.4 2.4-2.4-2.4zM221.8 355.2l2.4 2.4-2.4 2.4-2.4-2.4zM226 357.2l2.4 2.4-2.4 2.4-2.4-2.4zM231.1 354.6l2.4 2.4-2.4 2.4-2.4-2.4zM171.1 204l2.4 2.4-2.4 2.4-2.4-2.4zM99.8 256.6l2.4 2.4-2.4 2.4-2.4-2.4zM101.3 309.3l2.4 2.4-2.4 2.4-2.4-2.4zM53.3 216.6l2.4 2.4-2.4 2.4-2.4-2.4zM73.1 250.8l2.4 2.4-2.4 2.4-2.4-2.4zM111.5 272l2.4 2.4-2.4 2.4-2.4-2.4zM186.3 301.3l2.4 2.4-2.4 2.4-2.4-2.4zM67.4 285.7l2.4 2.4-2.4 2.4-2.4-2.4zM56.7 271.2l2.4 2.4-2.4 2.4-2.4-2.4zM89 311.7l2.4 2.4-2.4 2.4-2.4-2.4zM172.3 230.7l2.4 2.4-2.4 2.4-2.4-2.4zM172 320.4l2.4 2.4-2.4 2.4-2.4-2.4zM145 268.5l2.4 2.4-2.4 2.4-2.4-2.4zM62.1 321.1l2.4 2.4-2.4 2.4-2.4-2.4zM168.1 326.8l2.4 2.4-2.4 2.4-2.4-2.4zM183.6 314.1l2.4 2.4-2.4 2.4-2.4-2.4zM146.7 291.7l2.4 2.4-2.4 2.4-2.4-2.4zM116.8 332l2.4 2.4-2.4 2.4-2.4-2.4zM121 282.1l2.4 2.4-2.4 2.4-2.4-2.4zM151.3 199.2l2.4 2.4-2.4 2.4-2.4-2.4zM165.7 285.3l2.4 2.4-2.4 2.4-2.4-2.4zM133 225.5l2.4 2.4-2.4 2.4-2.4-2.4zM121.6 220.2l2.4 2.4-2.4 2.4-2.4-2.4zM156.6 278.3l2.4 2.4-2.4 2.4-2.4-2.4zM179.4 248.3l2.4 2.4-2.4 2.4-2.4-2.4zM189.2 230.4l2.4 2.4-2.4 2.4-2.4-2.4zM160.8 253.3l2.4 2.4-2.4 2.4-2.4-2.4zM109.5 326.4l2.4 2.4-2.4 2.4-2.4-2.4zM109.6 249.5l2.4 2.4-2.4 2.4-2.4-2.4zM172.9 292.5l2.4 2.4-2.4 2.4-2.4-2.4zM140 230.9l2.4 2.4-2.4 2.4-2.4-2.4zM123.6 295.8l2.4 2.4-2.4 2.4-2.4-2.4zM89.8 294.8l2.4 2.4-2.4 2.4-2.4-2.4zM67.4 297l2.4 2.4-2.4 2.4-2.4-2.4zM164.3 316.7l2.4 2.4-2.4 2.4-2.4-2.4zM126.1 286.1l2.4 2.4-2.4 2.4-2.4-2.4zM97.9 339l2.4 2.4-2.4 2.4-2.4-2.4zM136.6 272.4l2.4 2.4-2.4 2.4-2.4-2.4zM202.6 324.9l2.4 2.4-2.4 2.4-2.4-2.4zM101.9 348.6l2.4 2.4-2.4 2.4-2.4-2.4zM84.5 243.6l2.4 2.4-2.4 2.4-2.4-2.4zM123.6 249.3l2.4 2.4-2.4 2.4-2.4-2.4zM149.5 339.3l2.4 2.4-2.4 2.4-2.4-2.4zM54.3 350.7l2.4 2.4-2.4 2.4-2.4-2.4zM161.9 332.4l2.4 2.4-2.4 2.4-2.4-2.4zM186.1 341.5l2.4 2.4-2.4 2.4-2.4-2.4zM123.2 225l2.4 2.4-2.4 2.4-2.4-2.4zM123 241.9l2.4 2.4-2.4 2.4-2.4-2.4zM163.2 229.9l2.4 2.4-2.4 2.4-2.4-2.4zM187.6 341.3l2.4 2.4-2.4 2.4-2.4-2.4zM73.9 265.4l2.4 2.4-2.4 2.4-2.4-2.4zM174.1 221.5l2.4 2.4-2.4 2.4-2.4-2.4zM191.7 329.8l2.4 2.4-2.4 2.4-2.4-2.4zM110.1 319.5l2.4 2.4-2.4 2.4-2.4-2.4zM147.2 343.2l2.4 2.4-2.4 2.4-2.4-2.4zM77.7 329.5l2.4 2.4-2.4 2.4-2.4-2.4zM128.3 276.8l2.4 2.4-2.4 2.4-2.4-2.4zM205.9 215.6l2.4 2.4-2.4 2.4-2.4-2.4zM112 347.4l2.4 2.4-2.4 2.4-2.4-2.4zM137.2 288.6l2.4 2.4-2.4 2.4-2.4-2.4zM163.8 352.7l2.4 2.4-2.4 2.4-2.4-2.4zM51.2 292.4l2.4 2.4-2.4 2.4-2.4-2.4zM105.4 268.6l2.4 2.4-2.4 2.4-2.4-2.4zM185.4 249.8l2.4 2.4-2.4 2.4-2.4-2.4zM94.1 327.6l2.4 2.4-2.4 2.4-2.4-2.4zM169.5 219.2l2.4 2.4-2.4 2.4-2.4-2.4zM120.6 242.9l2.4 2.4-2.4 2.4-2.4-2.4zM175.5 211.4l2.4 2.4-2.4 2.4-2.4-2.4zM75.3 231.5l2.4 2.4-2.4 2.4-2.4-2.4zM89.5 291.3l2.4 2.4-2.4 2.4-2.4-2.4zM138.9 242.3l2.4 2.4-2.4 2.4-2.4-2.4zM165.8 316.7l2.4 2.4-2.4 2.4-2.4-2.4zM176.1 298l2.4 2.4-2.4 2.4-2.4-2.4zM54.2 329.1l2.4 2.4-2.4 2.4-2.4-2.4zM151.5 306.1l2.4 2.4-2.4 2.4-2.4-2.4zM151.9 227.7l2.4 2.4-2.4 2.4-2.4-2.4zM58.7 282.7l2.4 2.4-2.4 2.4-2.4-2.4zM130 226l2.4 2.4-2.4 2.4-2.4-2.4zM181.1 201l2.4 2.4-2.4 2.4-2.4-2.4zM138.2 295l2.4 2.4-2.4 2.4-2.4-2.4zM109.1 247.7l2.4 2.4-2.4 2.4-2.4-2.4zM192.5 353.1l2.4 2.4-2.4 2.4-2.4-2.4zM157 253.1l2.4 2.4-2.4 2.4-2.4-2.4zM122.5 281l2.4 2.4-2.4 2.4-2.4-2.4zM60.4 309.5l2.4 2.4-2.4 2.4-2.4-2.4zM70.7 356.7l2.4 2.4-2.4 2.4-2.4-2.4zM125.9 326.1l2.4 2.4-2.4 2.4-2.4-2.4zM160.8 306.1l2.4 2.4-2.4 2.4-2.4-2.4zM80.8 332l2.4 2.4-2.4 2.4-2.4-2.4zM122 234.3l2.4 2.4-2.4 2.4-2.4-2.4zM128.3 273.6l2.4 2.4-2.4 2.4-2.4-2.4zM107.9 337.6l2.4 2.4-2.4 2.4-2.4-2.4zM171 283.1l2.4 2.4-2.4 2.4-2.4-2.4zM57.3 285.7l2.4 2.4-2.4 2.4-2.4-2.4zM156.7 343.5l2.4 2.4-2.4 2.4-2.4-2.4zM100.9 247.9l2.4 2.4-2.4 2.4-2.4-2.4zM179.5 319.7l2.4 2.4-2.4 2.4-2.4-2.4zM118.5 298.3l2.4 2.4-2.4 2.4-2.4-2.4zM126.4 265.8l2.4 2.4-2.4 2.4-2.4-2.4zM147.9 336.4l2.4 2.4-2.4 2.4-2.4-2.4zM166.6 234.9l2.4 2.4-2.4 2.4-2.4-2.4zM204 309.7l2.4 2.4-2.4 2.4-2.4-2.4zM90 248l2.4 2.4-2.4 2.4-2.4-2.4zM70.9 320.8l2.4 2.4-2.4 2.4-2.4-2.4zM47.1 201.6l2.4 2.4-2.4 2.4-2.4-2.4zM159.8 331.8l2.4 2.4-2.4 2.4-2.4-2.4zM91.8 350.9l2.4 2.4-2.4 2.4-2.4-2.4zM107.3 352.7l2.4 2.4-2.4 2.4-2.4-2.4zM177.6 230.5l2.4 2.4-2.4 2.4-2.4-2.4zM197.8 300.9l2.4 2.4-2.4 2.4-2.4-2.4zM146.3 310.9l2.4 2.4-2.4 2.4-2.4-2.4zM184.2 252.2l2.4 2.4-2.4 2.4-2.4-2.4zM149 296.6l2.4 2.4-2.4 2.4-2.4-2.4zM69.1 248.3l2.4 2.4-2.4 2.4-2.4-2.4zM189.2 336.2l2.4 2.4-2.4 2.4-2.4-2.4zM126.5 263.6l2.4 2.4-2.4 2.4-2.4-2.4zM126 313.5l2.4 2.4-2.4 2.4-2.4-2.4zM96.5 230.1l2.4 2.4-2.4 2.4-2.4-2.4zM137.5 288.8l2.4 2.4-2.4 2.4-2.4-2.4zM51.2 295.7l2.4 2.4-2.4 2.4-2.4-2.4zM110.9 317.6l2.4 2.4-2.4 2.4-2.4-2.4zM134.3 248.6l2.4 2.4-2.4 2.4-2.4-2.4zM90.3 300.5l2.4 2.4-2.4 2.4-2.4-2.4zM206.8 273l2.4 2.4-2.4 2.4-2.4-2.4zM117 261.4l2.4 2.4-2.4 2.4-2.4-2.4zM161.2 267.5l2.4 2.4-2.4 2.4-2.4-2.4zM70.8 336.3l2.4 2.4-2.4 2.4-2.4-2.4zM87.5 253.3l2.4 2.4-2.4 2.4-2.4-2.4zM70.2 326l2.4 2.4-2.4 2.4-2.4-2.4zM123.3 211.1l2.4 2.4-2.4 2.4-2.4-2.4zM197.4 288.9l2.4 2.4-2.4 2.4-2.4-2.4zM55 239.2l2.4 2.4-2.4 2.4-2.4-2.4zM84.5 327.6l2.4 2.4-2.4 2.4-2.4-2.4zM180.6 251.9l2.4 2.4-2.4 2.4-2.4-2.4zM109.6 225.8l2.4 2.4-2.4 2.4-2.4-2.4zM156.2 241.6l2.4 2.4-2.4 2.4-2.4-2.4zM57.2 240.9l2.4 2.4-2.4 2.4-2.4-2.4zM164.2 343.3l2.4 2.4-2.4 2.4-2.4-2.4zM184.9 287.7l2.4 2.4-2.4 2.4-2.4-2.4zM86.3 280.4l2.4 2.4-2.4 2.4-2.4-2.4zM165.2 236.3l2.4 2.4-2.4 2.4-2.4-2.4zM50.3 351.8l2.4 2.4-2.4 2.4-2.4-2.4zM144.8 274.6l2.4 2.4-2.4 2.4-2.4-2.4zM100.9 320.2l2.4 2.4-2.4 2.4-2.4-2.4zM127.6 298.9l2.4 2.4-2.4 2.4-2.4-2.4zM76.8 307.4l2.4 2.4-2.4 2.4-2.4-2.4zM89.6 239.4l2.4 2.4-2.4 2.4-2.4-2.4zM61.2 268.5l2.4 2.4-2.4 2.4-2.4-2.4zM49.3 312.8l2.4 2.4-2.4 2.4-2.4-2.4zM54.5 357.1l2.4 2.4-2.4 2.4-2.4-2.4zM114.8 271.5l2.4 2.4-2.4 2.4-2.4-2.4zM140.7 216l2.4 2.4-2.4 2.4-2.4-2.4zM101.4 320.5l2.4 2.4-2.4 2.4-2.4-2.4zM48.5 357.4l2.4 2.4-2.4 2.4-2.4-2.4zM50.3 322.6l2.4 2.4-2.4 2.4-2.4-2.4zM102.1 350.9l2.4 2.4-2.4 2.4-2.4-2.4zM83.5 268.5l2.4 2.4-2.4 2.4-2.4-2.4zM87 267.4l2.4 2.4-2.4 2.4-2.4-2.4zM115.4 347.7l2.4 2.4-2.4 2.4-2.4-2.4zM118.2 340.5l2.4 2.4-2.4 2.4-2.4-2.4zM86.3 322.3l2.4 2.4-2.4 2.4-2.4-2.4zM81.5 311.2l2.4 2.4-2.4 2.4-2.4-2.4zM113.4 265.7l2.4 2.4-2.4 2.4-2.4-2.4zM159.2 262.3l2.4 2.4-2.4 2.4-2.4-2.4zM47.4 298.6l2.4 2.4-2.4 2.4-2.4-2.4zM55.1 336.8l2.4 2.4-2.4 2.4-2.4-2.4zM143.8 300.5l2.4 2.4-2.4 2.4-2.4-2.4zM51.1 246.6l2.4 2.4-2.4 2.4-2.4-2.4zM123.4 289.5l2.4 2.4-2.4 2.4-2.4-2.4zM81 301.3l2.4 2.4-2.4 2.4-2.4-2.4zM143.7 222.8l2.4 2.4-2.4 2.4-2.4-2.4zM171.2 307.2l2.4 2.4-2.4 2.4-2.4-2.4zM153.4 272.5l2.4 2.4-2.4 2.4-2.4-2.4zM199 288.7l2.4 2.4-2.4 2.4-2.4-2.4zM51.2 306.8l2.4 2.4-2.4 2.4-2.4-2.4zM202.8 292.2l2.4 2.4-2.4 2.4-2.4-2.4zM78.3 299.1l2.4 2.4-2.4 2.4-2.4-2.4zM53.4 297.7l2.4 2.4-2.4 2.4-2.4-2.4zM184.4 270.3l2.4 2.4-2.4 2.4-2.4-2.4zM149.8 263.8l2.4 2.4-2.4 2.4-2.4-2.4zM68.1 243.5l2.4 2.4-2.4 2.4-2.4-2.4zM100 327l2.4 2.4-2.4 2.4-2.4-2.4zM116.8 223.4l2.4 2.4-2.4 2.4-2.4-2.4zM73.4 307.2l2.4 2.4-2.4 2.4-2.4-2.4zM95.3 320.4l2.4 2.4-2.4 2.4-2.4-2.4zM117.4 338l2.4 2.4-2.4 2.4-2.4-2.4zM50.8 299.8l2.4 2.4-2.4 2.4-2.4-2.4zM116.7 356.8l2.4 2.4-2.4 2.4-2.4-2.4zM178.2 244.6l2.4 2.4-2.4 2.4-2.4-2.4zM173.5 231.7l2.4 2.4-2.4 2.4-2.4-2.4zM121.3 355.2l2.4 2.4-2.4 2.4-2.4-2.4zM128.8 318.6l2.4 2.4-2.4 2.4-2.4-2.4zM151.7 353.1l2.4 2.4-2.4 2.4-2.4-2.4zM155.4 336.7l2.4 2.4-2.4 2.4-2.4-2.4zM168.1 289.9l2.4 2.4-2.4 2.4-2.4-2.4zM170.7 316.6l2.4 2.4-2.4 2.4-2.4-2.4zM67.8 285.9l2.4 2.4-2.4 2.4-2.4-2.4zM47.5 253.6l2.4 2.4-2.4 2.4-2.4-2.4zM143.5 286.4l2.4 2.4-2.4 2.4-2.4-2.4zM67 245.9l2.4 2.4-2.4 2.4-2.4-2.4zM48.9 278.4l2.4 2.4-2.4 2.4-2.4-2.4zM166.6 227.8l2.4 2.4-2.4 2.4-2.4-2.4zM93.9 305.8l2.4 2.4-2.4 2.4-2.4-2.4zM57.7 342.1l2.4 2.4-2.4 2.4-2.4-2.4zM138.6 207.6l2.4 2.4-2.4 2.4-2.4-2.4zM176.1 213.2l2.4 2.4-2.4 2.4-2.4-2.4zM152 207.8l2.4 2.4-2.4 2.4-2.4-2.4zM72.9 334.8l2.4 2.4-2.4 2.4-2.4-2.4zM60.2 349l2.4 2.4-2.4 2.4-2.4-2.4zM101 315l2.4 2.4-2.4 2.4-2.4-2.4zM193.8 217.6l2.4 2.4-2.4 2.4-2.4-2.4zM114.9 301.2l2.4 2.4-2.4 2.4-2.4-2.4zM53.4 232.2l2.4 2.4-2.4 2.4-2.4-2.4zM99.5 264l2.4 2.4-2.4 2.4-2.4-2.4zM144.4 292.3l2.4 2.4-2.4 2.4-2.4-2.4zM136.9 284.4l2.4 2.4-2.4 2.4-2.4-2.4zM130.3 269.4l2.4 2.4-2.4 2.4-2.4-2.4zM98.8 346l2.4 2.4-2.4 2.4-2.4-2.4zM50 233.8l2.4 2.4-2.4 2.4-2.4-2.4zM134.3 246.1l2.4 2.4-2.4 2.4-2.4-2.4zM58.5 344.8l2.4 2.4-2.4 2.4-2.4-2.4zM81.9 284.7l2.4 2.4-2.4 2.4-2.4-2.4zM117.2 218.6l2.4 2.4-2.4 2.4-2.4-2.4zM180 263.8l2.4 2.4-2.4 2.4-2.4-2.4zM71.1 341.6l2.4 2.4-2.4 2.4-2.4-2.4zM89 284.8l2.4 2.4-2.4 2.4-2.4-2.4zM158.6 338.7l2.4 2.4-2.4 2.4-2.4-2.4zM94.1 353.1l2.4 2.4-2.4 2.4-2.4-2.4zM53.4 247.3l2.4 2.4-2.4 2.4-2.4-2.4zM151 211.2l2.4 2.4-2.4 2.4-2.4-2.4zM162.9 264.4l2.4 2.4-2.4 2.4-2.4-2.4zM118.7 348.6l2.4 2.4-2.4 2.4-2.4-2.4zM122.3 232.7l2.4 2.4-2.4 2.4-2.4-2.4zM58.6 357.7l2.4 2.4-2.4 2.4-2.4-2.4zM88.4 320.6l2.4 2.4-2.4 2.4-2.4-2.4zM175.1 300.3l2.4 2.4-2.4 2.4-2.4-2.4zM50 239.1l2.4 2.4-2.4 2.4-2.4-2.4zM174.2 338.7l2.4 2.4-2.4 2.4-2.4-2.4zM64.4 253.1l2.4 2.4-2.4 2.4-2.4-2.4zM87 341.2l2.4 2.4-2.4 2.4-2.4-2.4zM120.4 276.1l2.4 2.4-2.4 2.4-2.4-2.4zM133.4 215.4l2.4 2.4-2.4 2.4-2.4-2.4zM117.9 333.7l2.4 2.4-2.4 2.4-2.4-2.4zM109.6 301l2.4 2.4-2.4 2.4-2.4-2.4zM126.4 326.1l2.4 2.4-2.4 2.4-2.4-2.4zM133 252.4l2.4 2.4-2.4 2.4-2.4-2.4zM131.7 343.9l2.4 2.4-2.4 2.4-2.4-2.4zM122.7 341.7l2.4 2.4-2.4 2.4-2.4-2.4zM90.9 334.5l2.4 2.4-2.4 2.4-2.4-2.4zM118.4 298.9l2.4 2.4-2.4 2.4-2.4-2.4zM113.2 260.2l2.4 2.4-2.4 2.4-2.4-2.4zM54 288.9l2.4 2.4-2.4 2.4-2.4-2.4zM113.9 284.9l2.4 2.4-2.4 2.4-2.4-2.4zM74.4 239.3l2.4 2.4-2.4 2.4-2.4-2.4zM149 278.1l2.4 2.4-2.4 2.4-2.4-2.4zM65.8 246.2l2.4 2.4-2.4 2.4-2.4-2.4zM168.1 280.7l2.4 2.4-2.4 2.4-2.4-2.4zM57.3 278.1l2.4 2.4-2.4 2.4-2.4-2.4zM161.8 219.9l2.4 2.4-2.4 2.4-2.4-2.4zM49.9 332l2.4 2.4-2.4 2.4-2.4-2.4zM177.2 201.2l2.4 2.4-2.4 2.4-2.4-2.4zM127.5 226.2l2.4 2.4-2.4 2.4-2.4-2.4zM174.7 244.6l2.4 2.4-2.4 2.4-2.4-2.4zM163.2 218.9l2.4 2.4-2.4 2.4-2.4-2.4zM157.3 303.8l2.4 2.4-2.4 2.4-2.4-2.4zM70.5 265.6l2.4 2.4-2.4 2.4-2.4-2.4zM114.1 336.9l2.4 2.4-2.4 2.4-2.4-2.4zM158.7 218.6l2.4 2.4-2.4 2.4-2.4-2.4zM119.9 326.1l2.4 2.4-2.4 2.4-2.4-2.4zM77 233.5l2.4 2.4-2.4 2.4-2.4-2.4zM116.7 314.5l2.4 2.4-2.4 2.4-2.4-2.4zM182.8 200.2l2.4 2.4-2.4 2.4-2.4-2.4zM106.4 330.9l2.4 2.4-2.4 2.4-2.4-2.4zM88.1 305l2.4 2.4-2.4 2.4-2.4-2.4zM61.9 258.5l2.4 2.4-2.4 2.4-2.4-2.4zM51 262.5l2.4 2.4-2.4 2.4-2.4-2.4zM135.9 308.9l2.4 2.4-2.4 2.4-2.4-2.4zM60 332.9l2.4 2.4-2.4 2.4-2.4-2.4zM120.8 307.4l2.4 2.4-2.4 2.4-2.4-2.4zM126.4 339.9l2.4 2.4-2.4 2.4-2.4-2.4zM152.8 263.8l2.4 2.4-2.4 2.4-2.4-2.4zM111.6 305.5l2.4 2.4-2.4 2.4-2.4-2.4zM162.8 199.9l2.4 2.4-2.4 2.4-2.4-2.4zM173.4 335.6l2.4 2.4-2.4 2.4-2.4-2.4zM130 215.6l2.4 2.4-2.4 2.4-2.4-2.4zM124.2 298.3l2.4 2.4-2.4 2.4-2.4-2.4zM148.6 261.9l2.4 2.4-2.4 2.4-2.4-2.4zM49.6 328.1l2.4 2.4-2.4 2.4-2.4-2.4zM88.6 265.2l2.4 2.4-2.4 2.4-2.4-2.4zM168.5 280.1l2.4 2.4-2.4 2.4-2.4-2.4zM154.3 232.9l2.4 2.4-2.4 2.4-2.4-2.4zM123.4 259.7l2.4 2.4-2.4 2.4-2.4-2.4zM65.9 333.2l2.4 2.4-2.4 2.4-2.4-2.4zM62 344.9l2.4 2.4-2.4 2.4-2.4-2.4zM177.2 331.2l2.4 2.4-2.4 2.4-2.4-2.4zM96.1 352.9l2.4 2.4-2.4 2.4-2.4-2.4zM103.7 345.1l2.4 2.4-2.4 2.4-2.4-2.4zM103.8 345l2.4 2.4-2.4 2.4-2.4-2.4zM131.3 331.2l2.4 2.4-2.4 2.4-2.4-2.4zM75.9 261l2.4 2.4-2.4 2.4-2.4-2.4zM49.5 302.8l2.4 2.4-2.4 2.4-2.4-2.4zM137.2 337.2l2.4 2.4-2.4 2.4-2.4-2.4zM105.9 311.9l2.4 2.4-2.4 2.4-2.4-2.4zM107.4 264l2.4 2.4-2.4 2.4-2.4-2.4zM74.2 308.1l2.4 2.4-2.4 2.4-2.4-2.4zM112.2 319.6l2.4 2.4-2.4 2.4-2.4-2.4zM142.4 335.8l2.4 2.4-2.4 2.4-2.4-2.4zM182.2 272.7l2.4 2.4-2.4 2.4-2.4-2.4zM139.1 335.4l2.4 2.4-2.4 2.4-2.4-2.4zM132.1 297.9l2.4 2.4-2.4 2.4-2.4-2.4zM117.1 232.8l2.4 2.4-2.4 2.4-2.4-2.4zM172.8 259.7l2.4 2.4-2.4 2.4-2.4-2.4zM164.4 238l2.4 2.4-2.4 2.4-2.4-2.4zM56.9 348.2l2.4 2.4-2.4 2.4-2.4-2.4zM88.6 337.9l2.4 2.4-2.4 2.4-2.4-2.4zM85.1 244.9l2.4 2.4-2.4 2.4-2.4-2.4zM133.4 345.8l2.4 2.4-2.4 2.4-2.4-2.4zM70.5 295l2.4 2.4-2.4 2.4-2.4-2.4zM161.7 301.5l2.4 2.4-2.4 2.4-2.4-2.4zM54.8 283.3l2.4 2.4-2.4 2.4-2.4-2.4zM99.7 342.4l2.4 2.4-2.4 2.4-2.4-2.4zM146.8 205.4l2.4 2.4-2.4 2.4-2.4-2.4zM187 345.8l2.4 2.4-2.4 2.4-2.4-2.4zM103.5 351.8l2.4 2.4-2.4 2.4-2.4-2.4zM131.3 355l2.4 2.4-2.4 2.4-2.4-2.4zM138.5 271.6l2.4 2.4-2.4 2.4-2.4-2.4zM177.6 286.9l2.4 2.4-2.4 2.4-2.4-2.4zM122.3 282.1l2.4 2.4-2.4 2.4-2.4-2.4zM123.6 200.7l2.4 2.4-2.4 2.4-2.4-2.4zM82.8 267.1l2.4 2.4-2.4 2.4-2.4-2.4zM124.8 312.1l2.4 2.4-2.4 2.4-2.4-2.4zM109.1 292.6l2.4 2.4-2.4 2.4-2.4-2.4zM103.1 305.5l2.4 2.4-2.4 2.4-2.4-2.4zM113.7 257.5l2.4 2.4-2.4 2.4-2.4-2.4zM129 235.5l2.4 2.4-2.4 2.4-2.4-2.4zM54.4 253l2.4 2.4-2.4 2.4-2.4-2.4zM82.6 271.2l2.4 2.4-2.4 2.4-2.4-2.4zM125.3 343.3l2.4 2.4-2.4 2.4-2.4-2.4zM101.8 237.7l2.4 2.4-2.4 2.4-2.4-2.4zM112 354l2.4 2.4-2.4 2.4-2.4-2.4zM75.4 303.3l2.4 2.4-2.4 2.4-2.4-2.4zM201.3 278.6l2.4 2.4-2.4 2.4-2.4-2.4zM108.8 242.2l2.4 2.4-2.4 2.4-2.4-2.4zM145.1 249.5l2.4 2.4-2.4 2.4-2.4-2.4zM134.6 350l2.4 2.4-2.4 2.4-2.4-2.4zM104.2 334.9l2.4 2.4-2.4 2.4-2.4-2.4zM177.9 255.2l2.4 2.4-2.4 2.4-2.4-2.4zM79.8 332l2.4 2.4-2.4 2.4-2.4-2.4zM132.5 206.9l2.4 2.4-2.4 2.4-2.4-2.4zM180.6 223.5l2.4 2.4-2.4 2.4-2.4-2.4zM152 251.3l2.4 2.4-2.4 2.4-2.4-2.4zM136.7 265.1l2.4 2.4-2.4 2.4-2.4-2.4zM90.3 271.8l2.4 2.4-2.4 2.4-2.4-2.4zM138.3 238.3l2.4 2.4-2.4 2.4-2.4-2.4zM65.2 323.4l2.4 2.4-2.4 2.4-2.4-2.4zM114.9 237.7l2.4 2.4-2.4 2.4-2.4-2.4zM133.2 284.9l2.4 2.4-2.4 2.4-2.4-2.4zM69.1 255.3l2.4 2.4-2.4 2.4-2.4-2.4zM153.3 330.3l2.4 2.4-2.4 2.4-2.4-2.4zM95.7 312.8l2.4 2.4-2.4 2.4-2.4-2.4zM86.1 265.2l2.4 2.4-2.4 2.4-2.4-2.4zM175.7 270l2.4 2.4-2.4 2.4-2.4-2.4zM148.8 228.9l2.4 2.4-2.4 2.4-2.4-2.4zM94.7 272.8l2.4 2.4-2.4 2.4-2.4-2.4zM121.8 292.7l2.4 2.4-2.4 2.4-2.4-2.4zM87.8 263.3l2.4 2.4-2.4 2.4-2.4-2.4zM103.3 292.9l2.4 2.4-2.4 2.4-2.4-2.4zM116.9 277.2l2.4 2.4-2.4 2.4-2.4-2.4zM125.7 329.9l2.4 2.4-2.4 2.4-2.4-2.4zM184.2 211l2.4 2.4-2.4 2.4-2.4-2.4zM126.2 312.3l2.4 2.4-2.4 2.4-2.4-2.4zM74.3 289.4l2.4 2.4-2.4 2.4-2.4-2.4zM156.1 199.1l2.4 2.4-2.4 2.4-2.4-2.4zM117.1 235.1l2.4 2.4-2.4 2.4-2.4-2.4zM50.9 251.7l2.4 2.4-2.4 2.4-2.4-2.4zM143.1 351.8l2.4 2.4-2.4 2.4-2.4-2.4zM131.7 320.3l2.4 2.4-2.4 2.4-2.4-2.4zM80.6 275l2.4 2.4-2.4 2.4-2.4-2.4zM164.8 214.3l2.4 2.4-2.4 2.4-2.4-2.4zM179.8 224.8l2.4 2.4-2.4 2.4-2.4-2.4zM155.7 255.9l2.4 2.4-2.4 2.4-2.4-2.4zM103 291.7l2.4 2.4-2.4 2.4-2.4-2.4zM166.8 311.1l2.4 2.4-2.4 2.4-2.4-2.4zM133 287.6l2.4 2.4-2.4 2.4-2.4-2.4zM143.9 221.8l2.4 2.4-2.4 2.4-2.4-2.4zM141.2 214.5l2.4 2.4-2.4 2.4-2.4-2.4zM165.3 226.7l2.4 2.4-2.4 2.4-2.4-2.4zM79.7 297.1l2.4 2.4-2.4 2.4-2.4-2.4zM142.3 264l2.4 2.4-2.4 2.4-2.4-2.4zM159 286.1l2.4 2.4-2.4 2.4-2.4-2.4zM151.7 290.7l2.4 2.4-2.4 2.4-2.4-2.4zM152.9 198.7l2.4 2.4-2.4 2.4-2.4-2.4zM184.7 260.9l2.4 2.4-2.4 2.4-2.4-2.4zM171.8 244.5l2.4 2.4-2.4 2.4-2.4-2.4zM49.1 319.5l2.4 2.4-2.4 2.4-2.4-2.4zM170.6 224.2l2.4 2.4-2.4 2.4-2.4-2.4zM194.8 297.2l2.4 2.4-2.4 2.4-2.4-2.4zM107.4 358.6l2.4 2.4-2.4 2.4-2.4-2.4zM205.7 272.3l2.4 2.4-2.4 2.4-2.4-2.4zM120.4 213.8l2.4 2.4-2.4 2.4-2.4-2.4zM47.3 268.5l2.4 2.4-2.4 2.4-2.4-2.4zM99.6 336.4l2.4 2.4-2.4 2.4-2.4-2.4zM148 313.1l2.4 2.4-2.4 2.4-2.4-2.4zM79.5 279l2.4 2.4-2.4 2.4-2.4-2.4zM116.9 322.4l2.4 2.4-2.4 2.4-2.4-2.4zM107.5 214.2l2.4 2.4-2.4 2.4-2.4-2.4zM55.6 245l2.4 2.4-2.4 2.4-2.4-2.4zM104.1 269.5l2.4 2.4-2.4 2.4-2.4-2.4zM162.6 245l2.4 2.4-2.4 2.4-2.4-2.4zM138.8 297.1l2.4 2.4-2.4 2.4-2.4-2.4zM186.7 278.5l2.4 2.4-2.4 2.4-2.4-2.4zM58.7 348l2.4 2.4-2.4 2.4-2.4-2.4zM167.6 264.1l2.4 2.4-2.4 2.4-2.4-2.4zM49.6 233.7l2.4 2.4-2.4 2.4-2.4-2.4zM103.8 321.6l2.4 2.4-2.4 2.4-2.4-2.4zM144.6 319.7l2.4 2.4-2.4 2.4-2.4-2.4zM180.7 242.5l2.4 2.4-2.4 2.4-2.4-2.4zM148.7 281l2.4 2.4-2.4 2.4-2.4-2.4zM66.1 297.5l2.4 2.4-2.4 2.4-2.4-2.4zM85 320.2l2.4 2.4-2.4 2.4-2.4-2.4zM47.8 344.8l2.4 2.4-2.4 2.4-2.4-2.4zM124.8 288.2l2.4 2.4-2.4 2.4-2.4-2.4zM111.5 242l2.4 2.4-2.4 2.4-2.4-2.4zM168.2 342.3l2.4 2.4-2.4 2.4-2.4-2.4zM139.2 249.2l2.4 2.4-2.4 2.4-2.4-2.4zM71.4 290.1l2.4 2.4-2.4 2.4-2.4-2.4zM152.7 211.6l2.4 2.4-2.4 2.4-2.4-2.4zM99.6 299.7l2.4 2.4-2.4 2.4-2.4-2.4zM146 329.7l2.4 2.4-2.4 2.4-2.4-2.4zM92.6 337l2.4 2.4-2.4 2.4-2.4-2.4zM99.6 270.6l2.4 2.4-2.4 2.4-2.4-2.4zM151.3 271.2l2.4 2.4-2.4 2.4-2.4-2.4zM76.3 349.6l2.4 2.4-2.4 2.4-2.4-2.4zM77.6 305.9l2.4 2.4-2.4 2.4-2.4-2.4zM66.8 288.8l2.4 2.4-2.4 2.4-2.4-2.4zM121.4 286.5l2.4 2.4-2.4 2.4-2.4-2.4zM148.9 223l2.4 2.4-2.4 2.4-2.4-2.4zM139.2 304.3l2.4 2.4-2.4 2.4-2.4-2.4zM115.4 283.8l2.4 2.4-2.4 2.4-2.4-2.4zM59 309.4l2.4 2.4-2.4 2.4-2.4-2.4zM168.8 210l2.4 2.4-2.4 2.4-2.4-2.4zM179 229.3l2.4 2.4-2.4 2.4-2.4-2.4zM135.4 307.8l2.4 2.4-2.4 2.4-2.4-2.4zM140.4 267l2.4 2.4-2.4 2.4-2.4-2.4zM107.2 257.7l2.4 2.4-2.4 2.4-2.4-2.4zM118.9 356.9l2.4 2.4-2.4 2.4-2.4-2.4zM157.4 275.6l2.4 2.4-2.4 2.4-2.4-2.4zM88.2 245.7l2.4 2.4-2.4 2.4-2.4-2.4zM174.8 247.3l2.4 2.4-2.4 2.4-2.4-2.4zM119.9 229.7l2.4 2.4-2.4 2.4-2.4-2.4zM87.2 288.3l2.4 2.4-2.4 2.4-2.4-2.4zM73.2 340.3l2.4 2.4-2.4 2.4-2.4-2.4zM66.3 266l2.4 2.4-2.4 2.4-2.4-2.4zM177.2 204.6l2.4 2.4-2.4 2.4-2.4-2.4zM90.5 259.5l2.4 2.4-2.4 2.4-2.4-2.4zM77.5 309.8l2.4 2.4-2.4 2.4-2.4-2.4zM48.2 272.7l2.4 2.4-2.4 2.4-2.4-2.4zM112.4 280.9l2.4 2.4-2.4 2.4-2.4-2.4zM88.5 344.3l2.4 2.4-2.4 2.4-2.4-2.4zM158.6 296.9l2.4 2.4-2.4 2.4-2.4-2.4zM156.7 289.1l2.4 2.4-2.4 2.4-2.4-2.4zM140.4 271l2.4 2.4-2.4 2.4-2.4-2.4zM164.2 257l2.4 2.4-2.4 2.4-2.4-2.4zM175.2 247.1l2.4 2.4-2.4 2.4-2.4-2.4zM86.6 297.9l2.4 2.4-2.4 2.4-2.4-2.4zM125.7 355.2l2.4 2.4-2.4 2.4-2.4-2.4zM122.3 259.3l2.4 2.4-2.4 2.4-2.4-2.4zM112 318.8l2.4 2.4-2.4 2.4-2.4-2.4zM121.2 282.6l2.4 2.4-2.4 2.4-2.4-2.4zM133.3 336.7l2.4 2.4-2.4 2.4-2.4-2.4zM189.4 309l2.4 2.4-2.4 2.4-2.4-2.4zM60.1 275.1l2.4 2.4-2.4 2.4-2.4-2.4zM97.6 278.2l2.4 2.4-2.4 2.4-2.4-2.4zM81.7 253.9l2.4 2.4-2.4 2.4-2.4-2.4zM81.4 293.7l2.4 2.4-2.4 2.4-2.4-2.4zM132.8 301.3l2.4 2.4-2.4 2.4-2.4-2.4zM165.4 224.7l2.4 2.4-2.4 2.4-2.4-2.4zM63.5 340.6l2.4 2.4-2.4 2.4-2.4-2.4zM161.6 274.1l2.4 2.4-2.4 2.4-2.4-2.4zM90.3 350.5l2.4 2.4-2.4 2.4-2.4-2.4zM168.6 268.1l2.4 2.4-2.4 2.4-2.4-2.4zM182.6 243.5l2.4 2.4-2.4 2.4-2.4-2.4zM145.8 220.8l2.4 2.4-2.4 2.4-2.4-2.4zM62.5 304.7l2.4 2.4-2.4 2.4-2.4-2.4zM151.4 259.2l2.4 2.4-2.4 2.4-2.4-2.4zM140.5 326.2l2.4 2.4-2.4 2.4-2.4-2.4zM86.9 345.4l2.4 2.4-2.4 2.4-2.4-2.4zM121.2 295.3l2.4 2.4-2.4 2.4-2.4-2.4zM123.8 284.8l2.4 2.4-2.4 2.4-2.4-2.4zM185.2 213.8l2.4 2.4-2.4 2.4-2.4-2.4zM61.1 279.6l2.4 2.4-2.4 2.4-2.4-2.4zM154.7 304.5l2.4 2.4-2.4 2.4-2.4-2.4zM166.6 294.3l2.4 2.4-2.4 2.4-2.4-2.4zM185.5 301.4l2.4 2.4-2.4 2.4-2.4-2.4zM50.8 273.1l2.4 2.4-2.4 2.4-2.4-2.4zM164.2 221.5l2.4 2.4-2.4 2.4-2.4-2.4zM132.3 294.6l2.4 2.4-2.4 2.4-2.4-2.4zM167.1 246.1l2.4 2.4-2.4 2.4-2.4-2.4zM151.4 280.4l2.4 2.4-2.4 2.4-2.4-2.4zM165 233l2.4 2.4-2.4 2.4-2.4-2.4zM142.8 279.5l2.4 2.4-2.4 2.4-2.4-2.4zM140.2 257l2.4 2.4-2.4 2.4-2.4-2.4zM96.6 350.6l2.4 2.4-2.4 2.4-2.4-2.4zM155.9 318.2l2.4 2.4-2.4 2.4-2.4-2.4zM162.6 203.6l2.4 2.4-2.4 2.4-2.4-2.4zM161.5 258.7l2.4 2.4-2.4 2.4-2.4-2.4zM140.7 302.6l2.4 2.4-2.4 2.4-2.4-2.4zM115.8 298.2l2.4 2.4-2.4 2.4-2.4-2.4zM144.7 327.6l2.4 2.4-2.4 2.4-2.4-2.4zM118.7 251.8l2.4 2.4-2.4 2.4-2.4-2.4zM115.3 243.7l2.4 2.4-2.4 2.4-2.4-2.4zM53.6 271.5l2.4 2.4-2.4 2.4-2.4-2.4zM52.2 306.8l2.4 2.4-2.4 2.4-2.4-2.4zM72 330.5l2.4 2.4-2.4 2.4-2.4-2.4zM113.3 234.6l2.4 2.4-2.4 2.4-2.4-2.4zM172.7 264.9l2.4 2.4-2.4 2.4-2.4-2.4zM147.1 298.6l2.4 2.4-2.4 2.4-2.4-2.4zM165.4 294.5l2.4 2.4-2.4 2.4-2.4-2.4zM62 314.1l2.4 2.4-2.4 2.4-2.4-2.4zM135.7 217.6l2.4 2.4-2.4 2.4-2.4-2.4zM62.7 292.7l2.4 2.4-2.4 2.4-2.4-2.4zM108.5 273.8l2.4 2.4-2.4 2.4-2.4-2.4zM77.8 268.1l2.4 2.4-2.4 2.4-2.4-2.4zM123.5 235.4l2.4 2.4-2.4 2.4-2.4-2.4zM178.4 241l2.4 2.4-2.4 2.4-2.4-2.4zM178.7 211.3l2.4 2.4-2.4 2.4-2.4-2.4zM50.5 243.1l2.4 2.4-2.4 2.4-2.4-2.4zM55.9 344.4l2.4 2.4-2.4 2.4-2.4-2.4zM111.4 224.8l2.4 2.4-2.4 2.4-2.4-2.4zM119.2 350.2l2.4 2.4-2.4 2.4-2.4-2.4zM50.1 317.6l2.4 2.4-2.4 2.4-2.4-2.4zM140 334.6l2.4 2.4-2.4 2.4-2.4-2.4zM93.8 355.3l2.4 2.4-2.4 2.4-2.4-2.4zM61.1 342.6l2.4 2.4-2.4 2.4-2.4-2.4zM87.9 350.3l2.4 2.4-2.4 2.4-2.4-2.4zM148.9 288.3l2.4 2.4-2.4 2.4-2.4-2.4zM138.1 273.9l2.4 2.4-2.4 2.4-2.4-2.4zM161 249.3l2.4 2.4-2.4 2.4-2.4-2.4zM121.2 277.7l2.4 2.4-2.4 2.4-2.4-2.4zM61.7 322l2.4 2.4-2.4 2.4-2.4-2.4zM193.6 212l2.4 2.4-2.4 2.4-2.4-2.4zM119.4 289.9l2.4 2.4-2.4 2.4-2.4-2.4zM152.4 216.5l2.4 2.4-2.4 2.4-2.4-2.4zM151.7 326.5l2.4 2.4-2.4 2.4-2.4-2.4zM68.6 352.1l2.4 2.4-2.4 2.4-2.4-2.4zM133.3 284.4l2.4 2.4-2.4 2.4-2.4-2.4zM136.5 233.6l2.4 2.4-2.4 2.4-2.4-2.4zM95.6 345.4l2.4 2.4-2.4 2.4-2.4-2.4zM183 203l2.4 2.4-2.4 2.4-2.4-2.4zM172.3 272.6l2.4 2.4-2.4 2.4-2.4-2.4zM88.3 336.1l2.4 2.4-2.4 2.4-2.4-2.4zM112.4 251.3l2.4 2.4-2.4 2.4-2.4-2.4zM70.1 292.5l2.4 2.4-2.4 2.4-2.4-2.4zM74.8 310.9l2.4 2.4-2.4 2.4-2.4-2.4zM53.6 319.7l2.4 2.4-2.4 2.4-2.4-2.4zM145.1 276.2l2.4 2.4-2.4 2.4-2.4-2.4zM64.2 239.5l2.4 2.4-2.4 2.4-2.4-2.4zM130.6 227l2.4 2.4-2.4 2.4-2.4-2.4zM86.4 280.4l2.4 2.4-2.4 2.4-2.4-2.4zM163.8 275.2l2.4 2.4-2.4 2.4-2.4-2.4zM178.2 227.7l2.4 2.4-2.4 2.4-2.4-2.4zM54.1 339l2.4 2.4-2.4 2.4-2.4-2.4zM154.4 284.1l2.4 2.4-2.4 2.4-2.4-2.4zM82.6 310.9l2.4 2.4-2.4 2.4-2.4-2.4zM156.3 205.3l2.4 2.4-2.4 2.4-2.4-2.4zM156.4 259.7l2.4 2.4-2.4 2.4-2.4-2.4zM156 227.4l2.4 2.4-2.4 2.4-2.4-2.4zM47.4 271.8l2.4 2.4-2.4 2.4-2.4-2.4zM134.5 259.5l2.4 2.4-2.4 2.4-2.4-2.4zM59.8 339.5l2.4 2.4-2.4 2.4-2.4-2.4zM141.4 312l2.4 2.4-2.4 2.4-2.4-2.4zM61.3 333.7l2.4 2.4-2.4 2.4-2.4-2.4zM61.9 280.5l2.4 2.4-2.4 2.4-2.4-2.4zM178.7 200.2l2.4 2.4-2.4 2.4-2.4-2.4zM52.4 351.1l2.4 2.4-2.4 2.4-2.4-2.4zM108.7 232.1l2.4 2.4-2.4 2.4-2.4-2.4zM119 251.7l2.4 2.4-2.4 2.4-2.4-2.4zM103.9 283.5l2.4 2.4-2.4 2.4-2.4-2.4zM64.1 348.7l2.4 2.4-2.4 2.4-2.4-2.4zM158.3 325l2.4 2.4-2.4 2.4-2.4-2.4zM138.3 235.7l2.4 2.4-2.4 2.4-2.4-2.4zM80.3 356.8l2.4 2.4-2.4 2.4-2.4-2.4zM144.6 310.3l2.4 2.4-2.4 2.4-2.4-2.4zM58.1 331.5l2.4 2.4-2.4 2.4-2.4-2.4zM131.9 269l2.4 2.4-2.4 2.4-2.4-2.4zM54 273.1l2.4 2.4-2.4 2.4-2.4-2.4zM58.6 273.1l2.4 2.4-2.4 2.4-2.4-2.4zM146.8 254.2l2.4 2.4-2.4 2.4-2.4-2.4zM123.5 268.2l2.4 2.4-2.4 2.4-2.4-2.4zM64.8 321.8l2.4 2.4-2.4 2.4-2.4-2.4zM113.4 254.9l2.4 2.4-2.4 2.4-2.4-2.4zM48.4 248.9l2.4 2.4-2.4 2.4-2.4-2.4zM168.9 275l2.4 2.4-2.4 2.4-2.4-2.4zM108 305.8l2.4 2.4-2.4 2.4-2.4-2.4zM113.5 312.2l2.4 2.4-2.4 2.4-2.4-2.4zM102.5 282.3l2.4 2.4-2.4 2.4-2.4-2.4zM139.4 199l2.4 2.4-2.4 2.4-2.4-2.4zM132 310.2l2.4 2.4-2.4 2.4-2.4-2.4zM143 234.9l2.4 2.4-2.4 2.4-2.4-2.4zM53.9 290.2l2.4 2.4-2.4 2.4-2.4-2.4zM153.4 322.6l2.4 2.4-2.4 2.4-2.4-2.4zM141.8 320.8l2.4 2.4-2.4 2.4-2.4-2.4zM138.4 309.3l2.4 2.4-2.4 2.4-2.4-2.4zM51.4 245.3l2.4 2.4-2.4 2.4-2.4-2.4zM76 310.2l2.4 2.4-2.4 2.4-2.4-2.4zM152.7 263.3l2.4 2.4-2.4 2.4-2.4-2.4zM65.1 249.2l2.4 2.4-2.4 2.4-2.4-2.4zM143.1 251.6l2.4 2.4-2.4 2.4-2.4-2.4zM110 282l2.4 2.4-2.4 2.4-2.4-2.4zM49.2 326l2.4 2.4-2.4 2.4-2.4-2.4zM83.6 292.3l2.4 2.4-2.4 2.4-2.4-2.4zM132.3 274.2l2.4 2.4-2.4 2.4-2.4-2.4zM69.3 278.3l2.4 2.4-2.4 2.4-2.4-2.4zM122.5 319.7l2.4 2.4-2.4 2.4-2.4-2.4zM48.9 265.3l2.4 2.4-2.4 2.4-2.4-2.4zM92.5 340.9l2.4 2.4-2.4 2.4-2.4-2.4zM64.4 277.7l2.4 2.4-2.4 2.4-2.4-2.4zM65.5 255.4l2.4 2.4-2.4 2.4-2.4-2.4zM138.3 323.6l2.4 2.4-2.4 2.4-2.4-2.4zM73.3 278.2l2.4 2.4-2.4 2.4-2.4-2.4zM132.4 298.3l2.4 2.4-2.4 2.4-2.4-2.4zM118.4 256.4l2.4 2.4-2.4 2.4-2.4-2.4zM57.5 349l2.4 2.4-2.4 2.4-2.4-2.4zM101.6 329.8l2.4 2.4-2.4 2.4-2.4-2.4zM101.3 287.5l2.4 2.4-2.4 2.4-2.4-2.4zM76.2 277.3l2.4 2.4-2.4 2.4-2.4-2.4zM164.5 272l2.4 2.4-2.4 2.4-2.4-2.4zM109.4 273.7l2.4 2.4-2.4 2.4-2.4-2.4zM115.2 222.1l2.4 2.4-2.4 2.4-2.4-2.4zM57.3 277.7l2.4 2.4-2.4 2.4-2.4-2.4zM178.9 263.1l2.4 2.4-2.4 2.4-2.4-2.4zM74.9 273.5l2.4 2.4-2.4 2.4-2.4-2.4zM105 240.5l2.4 2.4-2.4 2.4-2.4-2.4zM62.9 291.1l2.4 2.4-2.4 2.4-2.4-2.4zM157.1 322l2.4 2.4-2.4 2.4-2.4-2.4zM101.9 293.4l2.4 2.4-2.4 2.4-2.4-2.4zM135.4 298.3l2.4 2.4-2.4 2.4-2.4-2.4zM130.3 270.8l2.4 2.4-2.4 2.4-2.4-2.4zM134.3 271.9l2.4 2.4-2.4 2.4-2.4-2.4zM180.1 262l2.4 2.4-2.4 2.4-2.4-2.4zM59.7 291.3l2.4 2.4-2.4 2.4-2.4-2.4zM55.7 266.3l2.4 2.4-2.4 2.4-2.4-2.4zM144.9 276.5l2.4 2.4-2.4 2.4-2.4-2.4zM65.7 358l2.4 2.4-2.4 2.4-2.4-2.4zM114 235.3l2.4 2.4-2.4 2.4-2.4-2.4zM148.5 260.7l2.4 2.4-2.4 2.4-2.4-2.4zM131 332.6l2.4 2.4-2.4 2.4-2.4-2.4zM156.3 234.5l2.4 2.4-2.4 2.4-2.4-2.4zM60 291.7l2.4 2.4-2.4 2.4-2.4-2.4zM62.8 319.4l2.4 2.4-2.4 2.4-2.4-2.4zM80 312.1l2.4 2.4-2.4 2.4-2.4-2.4zM164.2 317.8l2.4 2.4-2.4 2.4-2.4-2.4zM166 241.4l2.4 2.4-2.4 2.4-2.4-2.4zM64 350.8l2.4 2.4-2.4 2.4-2.4-2.4zM84.3 358.2l2.4 2.4-2.4 2.4-2.4-2.4zM47.7 256.8l2.4 2.4-2.4 2.4-2.4-2.4zM97.1 281.3l2.4 2.4-2.4 2.4-2.4-2.4zM168.7 257.2l2.4 2.4-2.4 2.4-2.4-2.4zM152.6 248.5l2.4 2.4-2.4 2.4-2.4-2.4zM128.6 248.8l2.4 2.4-2.4 2.4-2.4-2.4zM78.4 336.3l2.4 2.4-2.4 2.4-2.4-2.4zM130.4 315.4l2.4 2.4-2.4 2.4-2.4-2.4zM113.6 294.6l2.4 2.4-2.4 2.4-2.4-2.4zM139.3 254.8l2.4 2.4-2.4 2.4-2.4-2.4zM132.6 332.2l2.4 2.4-2.4 2.4-2.4-2.4zM106.9 290.9l2.4 2.4-2.4 2.4-2.4-2.4zM88.2 284l2.4 2.4-2.4 2.4-2.4-2.4zM52.6 330.4l2.4 2.4-2.4 2.4-2.4-2.4zM96 297.3l2.4 2.4-2.4 2.4-2.4-2.4zM136 262.5l2.4 2.4-2.4 2.4-2.4-2.4zM123.6 258.8l2.4 2.4-2.4 2.4-2.4-2.4zM136.4 284.9l2.4 2.4-2.4 2.4-2.4-2.4zM67.3 338.8l2.4 2.4-2.4 2.4-2.4-2.4zM189.4 312.1l2.4 2.4-2.4 2.4-2.4-2.4zM143.4 311.6l2.4 2.4-2.4 2.4-2.4-2.4zM116.8 336.5l2.4 2.4-2.4 2.4-2.4-2.4zM139.8 231.9l2.4 2.4-2.4 2.4-2.4-2.4zM92.8 337.4l2.4 2.4-2.4 2.4-2.4-2.4zM85.5 336l2.4 2.4-2.4 2.4-2.4-2.4zM128.8 327.2l2.4 2.4-2.4 2.4-2.4-2.4zM133.9 236.7l2.4 2.4-2.4 2.4-2.4-2.4zM106.7 288.7l2.4 2.4-2.4 2.4-2.4-2.4zM148.5 236l2.4 2.4-2.4 2.4-2.4-2.4zM64.5 263.2l2.4 2.4-2.4 2.4-2.4-2.4zM157.9 292l2.4 2.4-2.4 2.4-2.4-2.4zM112.7 345.6l2.4 2.4-2.4 2.4-2.4-2.4zM147.6 239.7l2.4 2.4-2.4 2.4-2.4-2.4zM157 310.8l2.4 2.4-2.4 2.4-2.4-2.4zM62.3 277l2.4 2.4-2.4 2.4-2.4-2.4zM120.5 240.8l2.4 2.4-2.4 2.4-2.4-2.4zM74.3 341.3l2.4 2.4-2.4 2.4-2.4-2.4zM67.2 311.3l2.4 2.4-2.4 2.4-2.4-2.4zM134.9 308.1l2.4 2.4-2.4 2.4-2.4-2.4zM132.5 225.5l2.4 2.4-2.4 2.4-2.4-2.4zM130.2 312.8l2.4 2.4-2.4 2.4-2.4-2.4zM100.9 292.5l2.4 2.4-2.4 2.4-2.4-2.4zM66 294.9l2.4 2.4-2.4 2.4-2.4-2.4zM73.1 357.9l2.4 2.4-2.4 2.4-2.4-2.4zM141.6 244.4l2.4 2.4-2.4 2.4-2.4-2.4zM132.1 344.5l2.4 2.4-2.4 2.4-2.4-2.4zM140.6 279.2l2.4 2.4-2.4 2.4-2.4-2.4zM76.2 346.3l2.4 2.4-2.4 2.4-2.4-2.4zM66.3 243.9l2.4 2.4-2.4 2.4-2.4-2.4zM52.3 336.7l2.4 2.4-2.4 2.4-2.4-2.4zM73.7 350.1l2.4 2.4-2.4 2.4-2.4-2.4zM160.6 287.2l2.4 2.4-2.4 2.4-2.4-2.4zM111.1 275.6l2.4 2.4-2.4 2.4-2.4-2.4zM128 282.2l2.4 2.4-2.4 2.4-2.4-2.4zM61.5 273.4l2.4 2.4-2.4 2.4-2.4-2.4zM64.6 310.1l2.4 2.4-2.4 2.4-2.4-2.4zM70.7 283.8l2.4 2.4-2.4 2.4-2.4-2.4zM63.2 353.8l2.4 2.4-2.4 2.4-2.4-2.4zM159.5 284.2l2.4 2.4-2.4 2.4-2.4-2.4zM80.1 314l2.4 2.4-2.4 2.4-2.4-2.4zM79.7 353l2.4 2.4-2.4 2.4-2.4-2.4zM61.2 286.5l2.4 2.4-2.4 2.4-2.4-2.4zM130.7 285.7l2.4 2.4-2.4 2.4-2.4-2.4zM131.3 304.7l2.4 2.4-2.4 2.4-2.4-2.4zM70.9 354.4l2.4 2.4-2.4 2.4-2.4-2.4zM53.7 241.9l2.4 2.4-2.4 2.4-2.4-2.4zM54.6 252.4l2.4 2.4-2.4 2.4-2.4-2.4zM122.9 263.2l2.4 2.4-2.4 2.4-2.4-2.4zM75.9 313l2.4 2.4-2.4 2.4-2.4-2.4zM114.4 342.6l2.4 2.4-2.4 2.4-2.4-2.4zM65.5 344.3l2.4 2.4-2.4 2.4-2.4-2.4zM112.6 329.2l2.4 2.4-2.4 2.4-2.4-2.4zM62.2 318.7l2.4 2.4-2.4 2.4-2.4-2.4zM180 237.3l2.4 2.4-2.4 2.4-2.4-2.4zM169 229.1l2.4 2.4-2.4 2.4-2.4-2.4zM50.7 296.6l2.4 2.4-2.4 2.4-2.4-2.4zM127.1 239.3l2.4 2.4-2.4 2.4-2.4-2.4zM55.8 329.2l2.4 2.4-2.4 2.4-2.4-2.4zM117.5 277.2l2.4 2.4-2.4 2.4-2.4-2.4zM87.1 315.8l2.4 2.4-2.4 2.4-2.4-2.4zM92.3 330.2l2.4 2.4-2.4 2.4-2.4-2.4zM62.2 333.3l2.4 2.4-2.4 2.4-2.4-2.4zM73.6 341.2l2.4 2.4-2.4 2.4-2.4-2.4zM138.5 309.2l2.4 2.4-2.4 2.4-2.4-2.4zM87.4 287l2.4 2.4-2.4 2.4-2.4-2.4zM164.1 245.8l2.4 2.4-2.4 2.4-2.4-2.4zM110.9 338.9l2.4 2.4-2.4 2.4-2.4-2.4zM179.2 224.1l2.4 2.4-2.4 2.4-2.4-2.4zM119 250.1l2.4 2.4-2.4 2.4-2.4-2.4zM111.3 315.4l2.4 2.4-2.4 2.4-2.4-2.4zM67.4 272.1l2.4 2.4-2.4 2.4-2.4-2.4zM128.9 260.1l2.4 2.4-2.4 2.4-2.4-2.4zM50.3 313.1l2.4 2.4-2.4 2.4-2.4-2.4zM110.3 352.2l2.4 2.4-2.4 2.4-2.4-2.4zM54.9 271.6l2.4 2.4-2.4 2.4-2.4-2.4zM84.2 243.1l2.4 2.4-2.4 2.4-2.4-2.4zM64.9 274.6l2.4 2.4-2.4 2.4-2.4-2.4zM61.1 265.6l2.4 2.4-2.4 2.4-2.4-2.4zM80.6 305.2l2.4 2.4-2.4 2.4-2.4-2.4zM89.6 289.7l2.4 2.4-2.4 2.4-2.4-2.4zM68.2 353.6l2.4 2.4-2.4 2.4-2.4-2.4zM141 220.6l2.4 2.4-2.4 2.4-2.4-2.4zM66.1 285.9l2.4 2.4-2.4 2.4-2.4-2.4zM75.9 348.8l2.4 2.4-2.4 2.4-2.4-2.4zM118.5 301.2l2.4 2.4-2.4 2.4-2.4-2.4zM140.9 313.8l2.4 2.4-2.4 2.4-2.4-2.4zM182.7 219.8l2.4 2.4-2.4 2.4-2.4-2.4zM119.3 334.6l2.4 2.4-2.4 2.4-2.4-2.4zM176.8 249l2.4 2.4-2.4 2.4-2.4-2.4zM156.4 242.7l2.4 2.4-2.4 2.4-2.4-2.4zM98.5 302l2.4 2.4-2.4 2.4-2.4-2.4zM49 330.8l2.4 2.4-2.4 2.4-2.4-2.4zM136.1 256.1l2.4 2.4-2.4 2.4-2.4-2.4zM65.8 354.4l2.4 2.4-2.4 2.4-2.4-2.4zM133.6 292.5l2.4 2.4-2.4 2.4-2.4-2.4zM154.9 308.6l2.4 2.4-2.4 2.4-2.4-2.4zM55.8 273.4l2.4 2.4-2.4 2.4-2.4-2.4zM153 303.2l2.4 2.4-2.4 2.4-2.4-2.4zM180.9 263.3l2.4 2.4-2.4 2.4-2.4-2.4zM148.9 217.5l2.4 2.4-2.4 2.4-2.4-2.4zM78.2 355.4l2.4 2.4-2.4 2.4-2.4-2.4zM135.2 280.4l2.4 2.4-2.4 2.4-2.4-2.4zM150.3 210.1l2.4 2.4-2.4 2.4-2.4-2.4zM99.2 307.5l2.4 2.4-2.4 2.4-2.4-2.4zM182 238.2l2.4 2.4-2.4 2.4-2.4-2.4zM55.6 328.3l2.4 2.4-2.4 2.4-2.4-2.4zM132.3 288.6l2.4 2.4-2.4 2.4-2.4-2.4zM128.4 286.1l2.4 2.4-2.4 2.4-2.4-2.4zM116.1 233.6l2.4 2.4-2.4 2.4-2.4-2.4zM58.9 297.8l2.4 2.4-2.4 2.4-2.4-2.4zM54.5 315l2.4 2.4-2.4 2.4-2.4-2.4zM79.9 354l2.4 2.4-2.4 2.4-2.4-2.4zM133.9 271.4l2.4 2.4-2.4 2.4-2.4-2.4zM75.3 303.6l2.4 2.4-2.4 2.4-2.4-2.4zM145.9 260.6l2.4 2.4-2.4 2.4-2.4-2.4zM184.4 230.3l2.4 2.4-2.4 2.4-2.4-2.4zM206.1 234.5l2.4 2.4-2.4 2.4-2.4-2.4zM136.6 270.5l2.4 2.4-2.4 2.4-2.4-2.4zM131 325.4l2.4 2.4-2.4 2.4-2.4-2.4zM139.7 340.6l2.4 2.4-2.4 2.4-2.4-2.4zM64.8 301.7l2.4 2.4-2.4 2.4-2.4-2.4zM133.6 347.1l2.4 2.4-2.4 2.4-2.4-2.4zM85.8 239.6l2.4 2.4-2.4 2.4-2.4-2.4zM56.3 270.3l2.4 2.4-2.4 2.4-2.4-2.4zM62.3 293.8l2.4 2.4-2.4 2.4-2.4-2.4zM89.1 285.4l2.4 2.4-2.4 2.4-2.4-2.4zM72 357.6l2.4 2.4-2.4 2.4-2.4-2.4zM163.1 217.6l2.4 2.4-2.4 2.4-2.4-2.4zM50.6 264.3l2.4 2.4-2.4 2.4-2.4-2.4zM50.6 255.6l2.4 2.4-2.4 2.4-2.4-2.4zM51.8 271.5l2.4 2.4-2.4 2.4-2.4-2.4zM122.6 336.8l2.4 2.4-2.4 2.4-2.4-2.4zM135.4 226.7l2.4 2.4-2.4 2.4-2.4-2.4zM74.8 338.9l2.4 2.4-2.4 2.4-2.4-2.4zM83.7 347.4l2.4 2.4-2.4 2.4-2.4-2.4zM133.6 251.1l2.4 2.4-2.4 2.4-2.4-2.4zM60.4 320.5l2.4 2.4-2.4 2.4-2.4-2.4zM183.3 264.3l2.4 2.4-2.4 2.4-2.4-2.4zM146.9 241.7l2.4 2.4-2.4 2.4-2.4-2.4zM110.6 297.4l2.4 2.4-2.4 2.4-2.4-2.4zM65.5 283.9l2.4 2.4-2.4 2.4-2.4-2.4zM88.4 279.7l2.4 2.4-2.4 2.4-2.4-2.4zM57.1 330.6l2.4 2.4-2.4 2.4-2.4-2.4zM56.4 283l2.4 2.4-2.4 2.4-2.4-2.4zM74.2 353.3l2.4 2.4-2.4 2.4-2.4-2.4zM143.1 339.8l2.4 2.4-2.4 2.4-2.4-2.4zM75 357.5l2.4 2.4-2.4 2.4-2.4-2.4zM73.3 346l2.4 2.4-2.4 2.4-2.4-2.4zM56.1 260.6l2.4 2.4-2.4 2.4-2.4-2.4zM86.4 358.2l2.4 2.4-2.4 2.4-2.4-2.4zM58.9 266.7l2.4 2.4-2.4 2.4-2.4-2.4zM67.2 336.9l2.4 2.4-2.4 2.4-2.4-2.4zM53.1 269.5l2.4 2.4-2.4 2.4-2.4-2.4zM47.9 261l2.4 2.4-2.4 2.4-2.4-2.4zM47.7 249.7l2.4 2.4-2.4 2.4-2.4-2.4zM56.1 257l2.4 2.4-2.4 2.4-2.4-2.4zM89.5 281.6l2.4 2.4-2.4 2.4-2.4-2.4zM48.6 260.2l2.4 2.4-2.4 2.4-2.4-2.4zM112.4 342.2l2.4 2.4-2.4 2.4-2.4-2.4zM127 256.3l2.4 2.4-2.4 2.4-2.4-2.4zM75.9 356.5l2.4 2.4-2.4 2.4-2.4-2.4zM131.3 242l2.4 2.4-2.4 2.4-2.4-2.4zM119.9 337.7l2.4 2.4-2.4 2.4-2.4-2.4zM133.1 320.3l2.4 2.4-2.4 2.4-2.4-2.4zM53.6 294.6l2.4 2.4-2.4 2.4-2.4-2.4zM52.6 295.8l2.4 2.4-2.4 2.4-2.4-2.4zM176.2 213.1l2.4 2.4-2.4 2.4-2.4-2.4zM51.4 315.9l2.4 2.4-2.4 2.4-2.4-2.4zM55.6 263.2l2.4 2.4-2.4 2.4-2.4-2.4zM57.3 336.9l2.4 2.4-2.4 2.4-2.4-2.4zM78.1 340.7l2.4 2.4-2.4 2.4-2.4-2.4zM57.7 319.5l2.4 2.4-2.4 2.4-2.4-2.4zM67.6 341.6l2.4 2.4-2.4 2.4-2.4-2.4zM76.4 282.2l2.4 2.4-2.4 2.4-2.4-2.4zM110.7 286l2.4 2.4-2.4 2.4-2.4-2.4zM180.7 273.8l2.4 2.4-2.4 2.4-2.4-2.4zM65.7 277.7l2.4 2.4-2.4 2.4-2.4-2.4zM73.5 347.5l2.4 2.4-2.4 2.4-2.4-2.4zM83.4 353.3l2.4 2.4-2.4 2.4-2.4-2.4zM51.6 275.7l2.4 2.4-2.4 2.4-2.4-2.4zM56.1 312.9l2.4 2.4-2.4 2.4-2.4-2.4zM57.7 322.2l2.4 2.4-2.4 2.4-2.4-2.4zM76.4 354.1l2.4 2.4-2.4 2.4-2.4-2.4zM139.1 239.4l2.4 2.4-2.4 2.4-2.4-2.4zM148 241.4l2.4 2.4-2.4 2.4-2.4-2.4zM127.7 275.6l2.4 2.4-2.4 2.4-2.4-2.4zM92.1 314.9l2.4 2.4-2.4 2.4-2.4-2.4zM61.5 257.1l2.4 2.4-2.4 2.4-2.4-2.4zM136.5 270.9l2.4 2.4-2.4 2.4-2.4-2.4zM86.7 346.2l2.4 2.4-2.4 2.4-2.4-2.4zM75.3 348.6l2.4 2.4-2.4 2.4-2.4-2.4zM82.6 351.3l2.4 2.4-2.4 2.4-2.4-2.4zM128.7 314.5l2.4 2.4-2.4 2.4-2.4-2.4zM75.6 348.2l2.4 2.4-2.4 2.4-2.4-2.4zM47.5 267.7l2.4 2.4-2.4 2.4-2.4-2.4zM61.1 358.2l2.4 2.4-2.4 2.4-2.4-2.4zM139.1 341.9l2.4 2.4-2.4 2.4-2.4-2.4zM96 280.9l2.4 2.4-2.4 2.4-2.4-2.4zM130.8 273.5l2.4 2.4-2.4 2.4-2.4-2.4zM134 263l2.4 2.4-2.4 2.4-2.4-2.4zM178.2 274.9l2.4 2.4-2.4 2.4-2.4-2.4zM53.3 335.6l2.4 2.4-2.4 2.4-2.4-2.4zM157.3 216.6l2.4 2.4-2.4 2.4-2.4-2.4zM47.9 311.1l2.4 2.4-2.4 2.4-2.4-2.4zM49.3 311.3l2.4 2.4-2.4 2.4-2.4-2.4zM57.2 349.7l2.4 2.4-2.4 2.4-2.4-2.4zM91.7 289.3l2.4 2.4-2.4 2.4-2.4-2.4zM130.4 253.5l2.4 2.4-2.4 2.4-2.4-2.4zM53.1 328.5l2.4 2.4-2.4 2.4-2.4-2.4zM130.9 315.8l2.4 2.4-2.4 2.4-2.4-2.4zM47.7 260.1l2.4 2.4-2.4 2.4-2.4-2.4zM84.5 353.6l2.4 2.4-2.4 2.4-2.4-2.4zM47.6 303.2l2.4 2.4-2.4 2.4-2.4-2.4zM142.2 241.7l2.4 2.4-2.4 2.4-2.4-2.4zM58.5 357.9l2.4 2.4-2.4 2.4-2.4-2.4zM54.2 266l2.4 2.4-2.4 2.4-2.4-2.4zM68.7 356.2l2.4 2.4-2.4 2.4-2.4-2.4zM86.6 344.6l2.4 2.4-2.4 2.4-2.4-2.4zM54.3 317.1l2.4 2.4-2.4 2.4-2.4-2.4zM53.6 319.2l2.4 2.4-2.4 2.4-2.4-2.4zM127.1 266.2l2.4 2.4-2.4 2.4-2.4-2.4zM155.2 241.3l2.4 2.4-2.4 2.4-2.4-2.4zM138.1 220.9l2.4 2.4-2.4 2.4-2.4-2.4zM124.5 306.7l2.4 2.4-2.4 2.4-2.4-2.4zM72.4 352l2.4 2.4-2.4 2.4-2.4-2.4zM129.5 269.6l2.4 2.4-2.4 2.4-2.4-2.4zM134.3 261.7l2.4 2.4-2.4 2.4-2.4-2.4zM123.5 274.3l2.4 2.4-2.4 2.4-2.4-2.4zM50.7 348l2.4 2.4-2.4 2.4-2.4-2.4zM50.8 305.7l2.4 2.4-2.4 2.4-2.4-2.4zM121.9 316.1l2.4 2.4-2.4 2.4-2.4-2.4zM63 292.4l2.4 2.4-2.4 2.4-2.4-2.4zM58.5 293l2.4 2.4-2.4 2.4-2.4-2.4zM62.4 350.9l2.4 2.4-2.4 2.4-2.4-2.4zM165.4 212.8l2.4 2.4-2.4 2.4-2.4-2.4zM50.2 290.3l2.4 2.4-2.4 2.4-2.4-2.4zM122 270.4l2.4 2.4-2.4 2.4-2.4-2.4zM52.5 305.2l2.4 2.4-2.4 2.4-2.4-2.4zM50.4 348l2.4 2.4-2.4 2.4-2.4-2.4zM47.6 341.2l2.4 2.4-2.4 2.4-2.4-2.4zM91.3 290.5l2.4 2.4-2.4 2.4-2.4-2.4zM56.8 279l2.4 2.4-2.4 2.4-2.4-2.4zM178.6 330.4l2.4 2.4-2.4 2.4-2.4-2.4zM128.2 277.2l2.4 2.4-2.4 2.4-2.4-2.4zM53.9 298.6l2.4 2.4-2.4 2.4-2.4-2.4zM52.7 325.9l2.4 2.4-2.4 2.4-2.4-2.4zM91.3 289.4l2.4 2.4-2.4 2.4-2.4-2.4zM154.1 308.6l2.4 2.4-2.4 2.4-2.4-2.4zM73.1 273l2.4 2.4-2.4 2.4-2.4-2.4zM64.3 255.1l2.4 2.4-2.4 2.4-2.4-2.4zM57.4 266.9l2.4 2.4-2.4 2.4-2.4-2.4zM66.2 338l2.4 2.4-2.4 2.4-2.4-2.4zM71.7 346.5l2.4 2.4-2.4 2.4-2.4-2.4zM141.6 222.3l2.4 2.4-2.4 2.4-2.4-2.4zM128.9 270.5l2.4 2.4-2.4 2.4-2.4-2.4zM62.1 335.2l2.4 2.4-2.4 2.4-2.4-2.4zM63.7 355.4l2.4 2.4-2.4 2.4-2.4-2.4zM147.9 311.4l2.4 2.4-2.4 2.4-2.4-2.4zM48.5 299.7l2.4 2.4-2.4 2.4-2.4-2.4zM60.1 304.3l2.4 2.4-2.4 2.4-2.4-2.4zM62.6 262.7l2.4 2.4-2.4 2.4-2.4-2.4zM66.3 348.7l2.4 2.4-2.4 2.4-2.4-2.4zM51.2 251.7l2.4 2.4-2.4 2.4-2.4-2.4zM50.1 311.8l2.4 2.4-2.4 2.4-2.4-2.4zM55.2 306.5l2.4 2.4-2.4 2.4-2.4-2.4zM62.1 320.3l2.4 2.4-2.4 2.4-2.4-2.4zM48.4 283.4l2.4 2.4-2.4 2.4-2.4-2.4zM63.6 278.9l2.4 2.4-2.4 2.4-2.4-2.4zM177 231.8l2.4 2.4-2.4 2.4-2.4-2.4zM62 282.8l2.4 2.4-2.4 2.4-2.4-2.4zM134.3 270.7l2.4 2.4-2.4 2.4-2.4-2.4zM50.5 299.2l2.4 2.4-2.4 2.4-2.4-2.4zM53.8 284.8l2.4 2.4-2.4 2.4-2.4-2.4zM57.2 335.3l2.4 2.4-2.4 2.4-2.4-2.4zM59.1 351.7l2.4 2.4-2.4 2.4-2.4-2.4zM55.8 342.2l2.4 2.4-2.4 2.4-2.4-2.4zM129.2 268.6l2.4 2.4-2.4 2.4-2.4-2.4zM131.1 270.9l2.4 2.4-2.4 2.4-2.4-2.4zM55.9 341.8l2.4 2.4-2.4 2.4-2.4-2.4zM47.7 310.3l2.4 2.4-2.4 2.4-2.4-2.4zM123.6 307.3l2.4 2.4-2.4 2.4-2.4-2.4zM54.5 282.2l2.4 2.4-2.4 2.4-2.4-2.4zM170.7 257.7l2.4 2.4-2.4 2.4-2.4-2.4zM49.8 346l2.4 2.4-2.4 2.4-2.4-2.4zM121.4 336.5l2.4 2.4-2.4 2.4-2.4-2.4zM142 267.7l2.4 2.4-2.4 2.4-2.4-2.4zM52.2 300.1l2.4 2.4-2.4 2.4-2.4-2.4zM120.2 336.7l2.4 2.4-2.4 2.4-2.4-2.4zM54 280.3l2.4 2.4-2.4 2.4-2.4-2.4zM52.1 310.1l2.4 2.4-2.4 2.4-2.4-2.4zM140.7 263.4l2.4 2.4-2.4 2.4-2.4-2.4zM53.9 300.1l2.4 2.4-2.4 2.4-2.4-2.4zM57.8 331.1l2.4 2.4-2.4 2.4-2.4-2.4zM79.1 339l2.4 2.4-2.4 2.4-2.4-2.4zM53.8 257.6l2.4 2.4-2.4 2.4-2.4-2.4zM121.3 308l2.4 2.4-2.4 2.4-2.4-2.4zM55 279.5l2.4 2.4-2.4 2.4-2.4-2.4zM62.4 265.2l2.4 2.4-2.4 2.4-2.4-2.4zM129.6 274.8l2.4 2.4-2.4 2.4-2.4-2.4zM135.8 271.3l2.4 2.4-2.4 2.4-2.4-2.4zM60.9 328.7l2.4 2.4-2.4 2.4-2.4-2.4zM50.8 338.7l2.4 2.4-2.4 2.4-2.4-2.4zM173.3 232.8l2.4 2.4-2.4 2.4-2.4-2.4zM84.5 345.8l2.4 2.4-2.4 2.4-2.4-2.4zM138.5 263.1l2.4 2.4-2.4 2.4-2.4-2.4zM49.5 285.2l2.4 2.4-2.4 2.4-2.4-2.4zM77.7 343.8l2.4 2.4-2.4 2.4-2.4-2.4zM50 345.8l2.4 2.4-2.4 2.4-2.4-2.4zM127.2 263.5l2.4 2.4-2.4 2.4-2.4-2.4zM133.8 262.9l2.4 2.4-2.4 2.4-2.4-2.4zM47.2 287.8l2.4 2.4-2.4 2.4-2.4-2.4zM195 289.9l2.4 2.4-2.4 2.4-2.4-2.4zM132.6 260.7l2.4 2.4-2.4 2.4-2.4-2.4zM50 280l2.4 2.4-2.4 2.4-2.4-2.4zM77.1 341l2.4 2.4-2.4 2.4-2.4-2.4zM134.1 264l2.4 2.4-2.4 2.4-2.4-2.4zM56.4 339.6l2.4 2.4-2.4 2.4-2.4-2.4zM78.7 348.6l2.4 2.4-2.4 2.4-2.4-2.4zM130.3 270.1l2.4 2.4-2.4 2.4-2.4-2.4zM47.6 347.9l2.4 2.4-2.4 2.4-2.4-2.4zM90.5 291.8l2.4 2.4-2.4 2.4-2.4-2.4zM140.8 223.6l2.4 2.4-2.4 2.4-2.4-2.4zM131.9 269.4l2.4 2.4-2.4 2.4-2.4-2.4zM47.4 343.2l2.4 2.4-2.4 2.4-2.4-2.4zM136.5 273.7l2.4 2.4-2.4 2.4-2.4-2.4zM166.2 211.8l2.4 2.4-2.4 2.4-2.4-2.4zM54.2 341.9l2.4 2.4-2.4 2.4-2.4-2.4zM135.5 273.7l2.4 2.4-2.4 2.4-2.4-2.4zM153.9 241.9l2.4 2.4-2.4 2.4-2.4-2.4zM167.7 343l2.4 2.4-2.4 2.4-2.4-2.4zM88.8 238.3l2.4 2.4-2.4 2.4-2.4-2.4zM192.1 327.1l2.4 2.4-2.4 2.4-2.4-2.4z" fill="#0000ff"/>
<path d="M47.4 38.1H409.8V361.2" fill="none" stroke="#ff0000" stroke-width="2.3"/>
<circle cx="357.4" cy="48.1" r="4.5" fill="#00ff00" stroke="#0000ff" stroke-width="2.6"/>
<path d="M405.0 33.8l9.6 9M405.0 42.8l9.6-9" stroke="#00ffff" stroke-width="3" stroke-linecap="round"/>
<line x1="424.4" y1="157.5" x2="369.3" y2="62.8" stroke="#33e67a" stroke-width="1.1"/><polygon points="364.8,55.0 372.8,60.8 365.9,64.8" fill="#00ee00"/>
<line x1="468.8" y1="127.4" x2="417.1" y2="53.4" stroke="#00ffff" stroke-width="1.1"/><polygon points="411.9,46.0 420.3,51.1 413.8,55.7" fill="#00ffff"/>
<g font-family="Liberation Serif, serif" font-size="22" fill="#000"><text x="473" y="149">BOX</text><text x="428.2" y="179">PWCH</text></g>
</svg>
</body></html>
